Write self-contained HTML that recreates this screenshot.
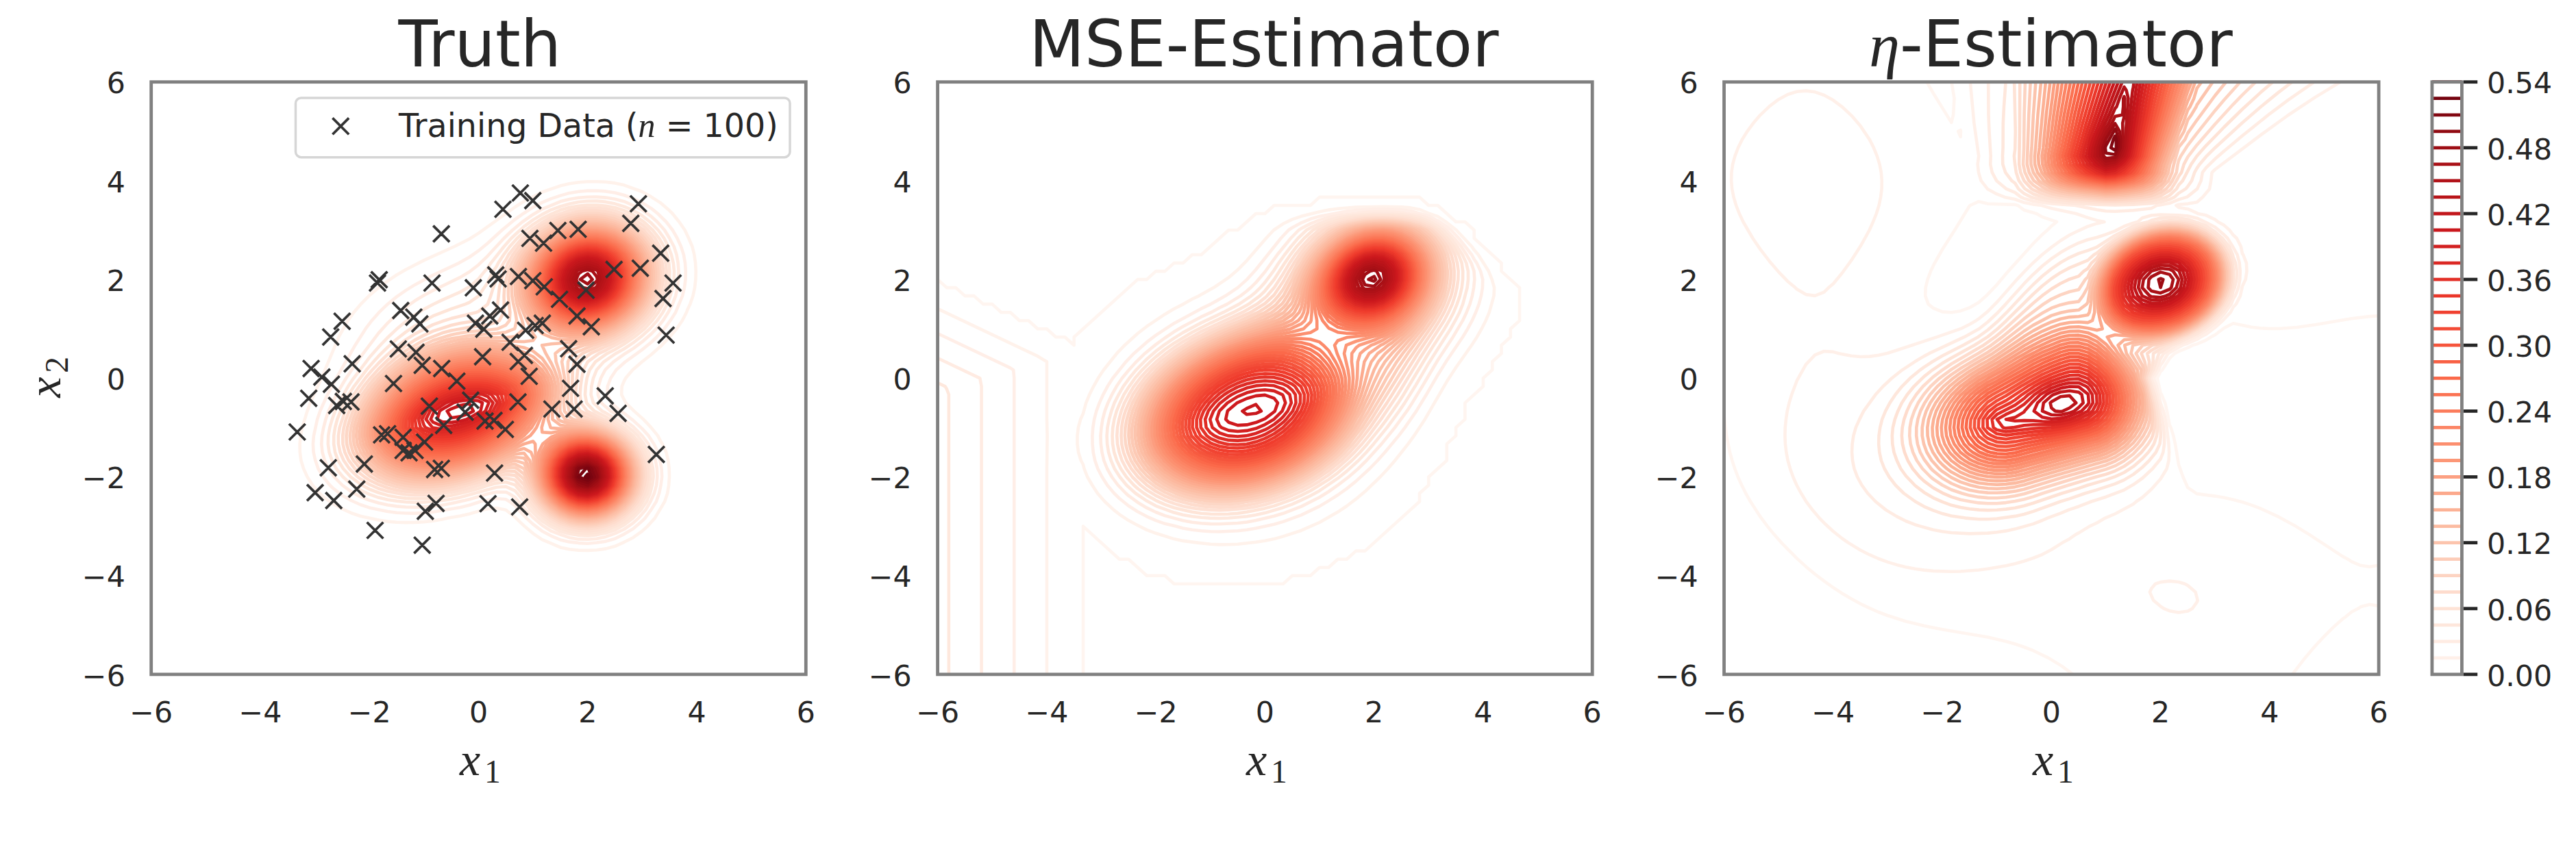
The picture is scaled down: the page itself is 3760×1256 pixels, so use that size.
<!DOCTYPE html><html><head><meta charset="utf-8"><title>Density estimators</title>
<style>html,body{margin:0;padding:0;background:#fff}svg{display:block}text{font-family:"DejaVu Sans","Liberation Sans",sans-serif;fill:#262626}.m{font-family:"Liberation Serif","DejaVu Serif",serif}.i{font-style:italic}</style></head><body>
<svg width="3760" height="1256" viewBox="0 0 3760 1256">
<rect width="3760" height="1256" fill="#fff"/>
<defs>
<clipPath id="c0"><rect x="220.7" y="119.7" width="955.6" height="865.2"/></clipPath>
<clipPath id="c1"><rect x="1368.6" y="119.7" width="955.6" height="865.2"/></clipPath>
<clipPath id="c2"><rect x="2516.5" y="119.7" width="955.6" height="865.2"/></clipPath>
</defs>
<g clip-path="url(#c0)">
<g fill="none" stroke-width="4.60" stroke-linejoin="round"><path stroke="#fff2eb" d="M802.2,792.6 818,799.4 831.2,802.3 844.5,803.6 857.8,803.9 871,803.3 884.3,801.4 897.6,797.8 910.9,791.8 924.1,785.2 937.4,775.6 945.1,768.6 955.9,756.6 970.2,732.5 974.2,720.5 976.2,708.5 977,696.5 976.7,684.5 975.3,672.5 972.4,660.5 966.9,648.4 963.9,643.8 960.2,636.4 950.4,624.4 939.1,612.4 925.6,600.4 913.4,588.4 907.2,576.3 907.7,564.3 910.9,556.6 913.2,552.3 923.4,540.3 937.3,528.3 950.7,517.8 966,504.2 977.4,492.2 987.6,480.2 995.8,468.2 1002,456.2 1003.8,451.5 1007.4,444.1 1011.5,432.1 1014.1,420.1 1015.4,408.1 1015.7,396.1 1015.1,384.1 1013.4,372 1010.4,360 1005.3,348 999.6,336 991.3,324 981.6,312 977.2,307.6 963.9,296.1 950.7,287.6 937.4,280 910.9,270.3 897.6,267.4 884.3,265.8 871,265.2 857.8,265.3 844.5,266.3 831.2,268.2 818,271.3 791.4,280.5 764.9,294 751.6,302.5 738.4,312 698.5,340.6 685.2,349 663.3,360 618.9,380.1 592.3,393.8 579,401.5 565.8,410.3 552.5,420.3 538.6,432.1 526,444.9 516.4,456.2 507.8,468.2 494.4,492.2 472.9,543.8 452.9,588.4 448.5,600.4 441.1,624.4 438.8,636.4 437.6,648.4 437.8,660.5 439.4,672.5 443.1,684.5 448.6,696.5 456.2,708.5 466.7,720.5 472.9,726.1 481.4,732.5 486.1,735.8 499.4,743.1 512.7,749.2 526,753.7 552.5,759.6 565.8,761.6 579,762.7 592.3,763.1 605.6,762.9 618.9,762.1 632.1,760.7 645.4,758.5 654,756.6 672,753.6 685.2,750.5 705.2,744.6 711.8,743.3 725,742.1 738.3,744.8 751.6,755.2 765.6,768.6 778.1,779.1 791.4,788.1 802.2,792.6Z"/>
<path stroke="#ffeee7" d="M841.9,792.6 844.5,793.1 857.8,793.7 871,792.5 884.3,790.6 897.6,786.7 910.9,780.1 924.1,772.3 937.4,760.8 941.6,756.6 950.3,744.6 957.9,732.5 962.1,720.5 964.6,708.5 966.2,696.5 965.6,684.5 963.4,672.5 960.3,660.5 954.5,648.4 946.7,636.4 937.4,626.1 924.1,613.9 910.9,603.5 905.9,600.4 892.4,588.4 886.4,576.3 886.9,564.3 891.4,552.3 899.4,540.3 912.8,528.3 937.4,510.6 950.7,499.7 958.7,492.2 969.8,480.2 978.4,468.2 986.1,456.2 996.1,432.1 999,420.1 1000.5,408.1 1000.8,396.1 1000,384.1 997.9,372 994,360 988.6,348 981.7,336 972.4,324 960.1,312 950.7,304.4 937.4,296.1 924.1,289.9 910.9,285 897.6,281.5 884.3,279.4 871,278.5 857.8,278.6 844.5,279.7 831.2,281.9 818,285.6 804.7,290.1 791.4,295.6 778.1,302.6 764.9,311.2 751.6,320.5 732.8,336 711.8,355.3 698.5,366.2 685.2,375.5 670,384.1 632.1,401.9 618.9,408.7 605.6,415.9 592.3,424.1 579,433.4 565.8,444.2 553.3,456.2 542.7,468.2 533.6,480.2 526,492.2 518.4,504.2 504.6,528.3 490.9,552.3 478,576.3 467.2,600.4 463.1,612.4 457.9,636.4 456.9,648.4 457.6,660.5 460.3,672.5 464.5,684.5 471.8,696.5 481.4,708.5 486.1,713 499.4,723.4 512.7,731 526,737 539.2,741.4 565.8,747 579,748.7 592.3,749.5 605.6,749.6 618.9,749 632.1,747.7 672,740.9 685.2,737.7 701.5,732.5 711.8,730.2 725,728 738.3,729.3 743.7,732.5 751.6,738.3 756.9,744.6 768.3,756.6 778.1,765.6 791.4,775.7 804.7,782.8 818,788.4 831.2,791.4 841.9,792.6Z"/>
<path stroke="#ffebe2" d="M817.9,780.6 831.2,785.2 844.5,787.4 857.8,787.8 871,786.8 884.3,783.9 897.6,779.2 910.9,773 924.1,763.8 932.1,756.6 942.5,744.6 949.4,732.5 954.9,720.5 958.2,708.5 959.4,696.5 959,684.5 956.8,672.5 952.1,660.5 946.4,648.4 937.2,636.4 924.1,623.1 910.9,613 897.6,603.8 891.3,600.4 877.7,588.4 872.8,576.3 873.4,564.3 877,552.3 883.3,540.3 884.3,539.2 895.5,528.3 912.7,516.2 924.1,509.1 937.4,499.2 950.7,487.5 957.9,480.2 967.7,468.2 975.3,456.2 981.6,444.1 986.2,432.1 988.9,420.1 990.3,408.1 990.6,396.1 989.7,384.1 987.6,372 983.7,360 977.3,348 970,336 959.3,324 950.7,316.2 937.4,306.7 924.1,300 910.9,294.2 897.6,290.7 884.3,288.6 871,287.6 857.8,287.8 844.5,288.8 831.2,290.9 818,294.3 791.4,305.3 778.1,313.2 762.6,324 748.1,336 735.6,348 711.8,373.8 698.5,386.7 685.2,397 672,404.9 632.1,424.2 618.9,431.3 605.6,439.3 592.3,448.5 579,459.2 565.8,471.8 552.5,486.6 526,521.7 505.2,552.3 490.9,576.3 479.5,600.4 475.4,612.4 472.3,624.4 470,636.4 469.3,648.4 470.5,660.5 473.9,672.5 479.2,684.5 487.7,696.5 499.6,708.5 512.7,718.1 526,725.4 539.2,730.6 552.5,734.5 565.8,737.5 579,739.4 592.3,740.5 605.6,740.8 618.9,740.4 632.1,739.4 645.4,737.7 658.7,735.3 685.2,729.2 711.8,721.2 725,718.5 738.3,718.7 742.3,720.5 751.6,726.2 767.1,744.6 778.1,756 791.4,767.2 804.7,775.7 817.9,780.6Z"/>
<path stroke="#fee8dd" d="M838.6,780.6 844.5,781.8 857.8,782.5 871,781.1 884.3,778.6 897.6,774.1 910.9,766.8 924.1,756.6 935.6,744.6 943.9,732.5 948.9,720.5 952,708.5 953.7,696.5 953.1,684.5 950.4,672.5 946.7,660.5 939.9,648.4 930.8,636.4 924.1,629.8 910.9,619 884.3,603.1 878.8,600.4 866.1,588.4 862.6,576.3 863.4,564.3 866,552.3 870.8,540.3 881.4,528.3 898.9,516.2 910.9,509.5 924.1,500.7 937.4,490.4 948.4,480.2 959.2,468.2 967.5,456.2 973.9,444.1 978.3,432.1 981.9,420.1 983.7,408.1 984,396.1 982.8,384.1 979.9,372 975.4,360 969.4,348 960.6,336 950.7,325.8 937.4,315.1 924.1,307.2 910.9,301.7 897.6,297.6 884.3,294.9 871,293.6 857.8,293.7 844.5,295 831.2,297.7 818,301.5 804.7,306.3 791.4,313.1 778.1,321.1 764.9,330.9 751.6,343 746.3,348 735.7,360 716.6,384.1 711.8,391.5 707.5,396.1 698.5,407.3 685.2,418.7 672,426.3 645.4,438.1 632.1,444.5 618.9,451.6 605.6,459.8 592.3,469.5 579,480.6 565.8,493 552.5,506.9 539.2,522.1 516.2,552.3 508.1,564.3 494.4,588.4 489.1,600.4 484.8,612.4 481.3,624.4 479.2,636.4 478.8,648.4 480.5,660.5 484.6,672.5 490.8,684.5 500.6,696.5 512.7,707.2 526,715.8 539.2,721.9 552.5,726.6 565.8,729.8 579,731.8 592.3,733.1 605.6,733.7 618.9,733.4 632.1,732.3 645.4,731 658.7,729 672,726.2 725,711.5 738.3,710.6 751.6,716.6 764.9,732.1 774,744.6 786,756.6 791.4,761.1 804.7,769.5 818,776.1 831.2,779.6 838.6,780.6Z"/>
<path stroke="#fee5d8" d="M812.3,768.6 818,771.5 831.2,776 844.5,778.1 857.8,778.6 871,777.5 884.3,774.7 897.6,769.1 910.9,762.1 918,756.6 924.1,751.1 930.4,744.6 938.4,732.5 944.6,720.5 947.8,708.5 949.1,696.5 948.6,684.5 946.5,672.5 941.9,660.5 934.8,648.4 924.4,636.4 910.9,624.8 897.6,615.8 890.2,612.4 884.3,608.8 867.4,600.4 857.8,590.4 856.2,588.4 854,576.3 854.8,564.3 856.7,552.3 860.6,540.3 869.1,528.3 886.3,516.2 897.6,510.5 910.9,502.5 926.1,492.2 940.7,480.2 951.8,468.2 960.8,456.2 967.6,444.1 972.6,432.1 975.6,420.1 977.1,408.1 977.4,396.1 976.3,384.1 973.7,372 969.1,360 962.1,348 952.7,336 939.7,324 924.1,313.7 910.9,307.4 897.6,303.2 884.3,300.7 871,299.5 857.8,299.5 844.5,300.7 831.2,303 818,306.8 804.7,312.6 791.4,319.1 778.1,327.8 767.8,336 754.9,348 744.1,360 735.2,372 727.3,384.1 725,388.7 720,396.1 713.7,408.1 711.8,412.8 698.5,432.3 685.2,441.6 679.4,444.1 658.7,451.1 632.1,461.4 605.6,475.9 592.3,484.9 579,495.3 565.8,507.1 552.5,520.2 545.2,528.3 534.8,540.3 516.7,564.3 509.1,576.3 502.5,588.4 497,600.4 492.3,612.4 489.1,624.4 487.3,636.4 487.2,648.4 489.1,660.5 493.5,672.5 501,684.5 511.9,696.5 528.1,708.5 539.2,714.5 552.5,719.5 565.8,723.4 579,726 592.3,727.6 605.6,728.3 618.9,728.2 632.1,727.4 645.4,725.8 658.7,723.5 685.2,717.3 698.5,713.5 711.8,709 725,705.6 738.3,704 751.6,708.1 764.9,723.9 770.1,732.5 780,744.6 792.8,756.6 804.7,765.1 812.3,768.6Z"/>
<path stroke="#fee1d4" d="M821.4,768.6 831.2,772.3 844.5,774.8 857.8,775.4 871,774.2 884.3,770.7 897.6,765.6 910.9,757.4 925.2,744.6 934.4,732.5 940.4,720.5 944.2,708.5 945.7,696.5 945.2,684.5 942.6,672.5 937.2,660.5 930.5,648.4 919.6,636.4 910.9,628.9 897.6,620.1 884.3,613.6 880.8,612.4 856.9,600.4 848,588.4 846.5,576.3 847.5,564.3 849.1,552.3 851.6,540.3 857.9,528.3 874.3,516.2 884.3,511.6 910.9,497.2 924.1,488.1 937.4,476.9 945.9,468.2 955.1,456.2 962,444.1 967.2,432.1 970.8,420.1 972.6,408.1 972.8,396.1 971.5,384.1 968.3,372 963,360 956.1,348 945.9,336 937.4,328.3 924.1,319.1 910.9,312.8 897.6,308 884.3,305 871,303.7 857.8,303.7 844.5,304.9 831.2,307.6 818,312.1 804.7,317.2 791.4,324.8 778.1,333.9 762.1,348 751.7,360 742.4,372 738.3,379.5 735.1,384.1 728.9,396.1 719.9,420.1 716.3,432.1 711.8,444.4 698.5,454.8 695.1,456.2 658.7,465.1 645.4,469.3 632.1,474.1 605.6,487.6 592.3,496.2 579,506.3 565.8,517.7 552.5,530.5 543.4,540.3 533.2,552.3 524.4,564.3 516.3,576.3 509.4,588.4 503.6,600.4 495.7,624.4 493.9,636.4 494,648.4 496.5,660.5 501.7,672.5 509.9,684.5 522.1,696.5 526,699.4 539.2,707.5 552.5,713.5 565.8,717.6 579,720.3 592.3,722.3 605.6,723.2 618.9,723.2 632.1,722.4 658.7,718.8 672,716.1 685.2,712.7 725,700.4 738.3,698 751.6,701.1 764.9,715.9 767.2,720.5 775,732.5 784.7,744.6 791.4,751 804.7,761 818,767.5 821.4,768.6Z"/>
<path stroke="#fedccd" d="M831.2,768.6 844.5,771.6 857.8,772.3 871,770.8 884.3,767.4 897.6,762.3 910.9,753.7 921.1,744.6 930.8,732.5 936.5,720.5 940.6,708.5 942.3,696.5 941.7,684.5 938.7,672.5 934,660.5 926.1,648.4 914.9,636.4 910.9,632.9 897.6,624.3 884.3,617 871.4,612.4 847.3,600.4 844.5,596.3 840.7,588.4 840.1,576.3 842,552.3 843.2,540.3 847.8,528.3 857.8,519.6 862.3,516.2 897.6,499.8 910.9,491.9 924.1,482.9 940.2,468.2 949.8,456.2 957.4,444.1 962.4,432.1 966,420.1 968,408.1 968.2,396.1 966.6,384.1 963.2,372 958.3,360 950.2,348 939.5,336 924.1,324.4 910.9,317.1 897.6,312.6 884.3,309.3 871,307.7 857.8,307.7 844.5,309.1 831.2,312.2 818,316 804.7,321.9 791.4,329.4 778.1,339.2 768.3,348 757.3,360 748.6,372 741.5,384.1 738.3,392 736.1,396.1 731.7,408.1 729,420.1 726.3,444.1 725,449.7 722,456.2 711.8,463.7 698.5,468 672,472.1 658.7,475 632.1,483.6 618.9,489.6 605.6,496.6 592.3,505.2 579,514.9 565.8,526 552.5,539 539.2,553.9 530.9,564.3 522.6,576.3 515.6,588.4 509.7,600.4 505,612.4 501.8,624.4 500.2,636.4 500.5,648.4 503.3,660.5 509,672.5 518.1,684.5 526,691.8 532,696.5 539.2,701.2 552.5,707.7 565.8,712.5 579,715.7 592.3,717.7 605.6,718.6 618.9,718.8 632.1,718.2 645.4,716.9 658.7,714.8 672,711.9 698.5,704.4 725,695.6 738.3,692.9 751.6,694.4 754.1,696.5 764.9,708.1 771.1,720.5 779.4,732.5 791.4,746.5 804.7,756.9 818,764.5 831.2,768.6Z"/>
<path stroke="#fdd7c6" d="M848.7,768.6 857.8,769.1 871,767.9 884.3,764.8 897.6,759 910.9,750.2 917.2,744.6 927.1,732.5 933.7,720.5 937.1,708.5 938.9,696.5 938.2,684.5 935.7,672.5 930.8,660.5 922.4,648.4 910.9,636.9 897.6,627.3 884.3,620.4 871,615.2 860.8,612.4 844.5,604.4 838.7,600.4 834.1,588.4 834.2,576.3 835.2,564.3 835.8,540.3 838.2,528.3 844.5,521 850.1,516.2 877.2,504.2 884.3,501.7 897.6,495.4 910.9,487.8 924.1,478.1 937.4,465.6 945.4,456.2 952.8,444.1 958.5,432.1 961.9,420.1 963.6,408.1 963.7,396.1 962.4,384.1 959.2,372 953.5,360 945.4,348 937.4,339.5 924.1,328.8 910.9,321.4 897.6,316.2 884.3,313.2 871,311.8 857.8,311.7 844.5,312.9 831.2,315.5 818,319.8 804.7,326 788.6,336 773.9,348 762.9,360 754,372 746.9,384.1 741.8,396.1 738.6,408.1 736.3,420.1 735.6,432.1 735.8,444.1 735.4,456.2 728.9,468.2 725,470.4 711.8,474.2 685.2,478.1 658.7,482.8 645.4,486.3 618.9,496.8 592.3,512.1 579,521.8 565.8,533.1 546.9,552.3 537.1,564.3 528.5,576.3 521.1,588.4 515.2,600.4 510.6,612.4 507.1,624.4 505.5,636.4 506.1,648.4 509.5,660.5 515.9,672.5 526.1,684.5 539.2,695 552.5,702.4 565.8,707.4 579,711.1 592.3,713.4 605.6,714.7 618.9,714.9 632.1,714.4 645.4,713 658.7,710.8 685.2,704.6 725,691.5 738.3,688.1 751.6,688.4 761.3,696.5 764.9,700.3 768.5,708.5 775.1,720.5 782.7,732.5 793.5,744.6 804.7,753.8 818,761.5 831.2,766.2 844.5,768.4 848.7,768.6Z"/>
<path stroke="#fdd1be" d="M814.6,756.6 818,758.5 831.2,763.8 844.5,766.3 857.8,766.9 871,765.6 884.3,762.3 897.6,755.9 910.9,746.7 913.3,744.6 923.6,732.5 930.9,720.5 934.7,708.5 936.2,696.5 935.7,684.5 933.1,672.5 927.6,660.5 919.2,648.4 910.9,640.1 897.6,630.2 884.3,623.7 871,618.2 849.1,612.4 844.5,610.2 830.6,600.4 828.1,588.4 829.6,564.3 829.6,552.3 828.7,540.3 829,528.3 831.2,524 837.4,516.2 865.9,504.2 884.3,497.8 897.6,491.3 910.9,483.8 924.1,473.8 930.3,468.2 941,456.2 948.8,444.1 954.6,432.1 958.4,420.1 960.3,408.1 960.4,396.1 958.8,384.1 955.2,372 949.1,360 940.6,348 937.4,344.6 924.1,333.1 910.9,325.3 897.6,319.8 884.3,316.4 871,314.8 857.8,314.7 844.5,316 831.2,318.9 818,323.7 804.7,329.6 791.4,338.1 779.3,348 767.6,360 758.5,372 752.1,384.1 746.7,396.1 743.4,408.1 741.9,420.1 741.9,432.1 744.4,456.2 743.6,468.2 738.3,474.9 726.5,480.2 711.8,482 685.2,484.4 672,486.2 658.7,489 632.1,497.2 605.6,510 592.3,518.4 579,528.3 565.8,539.6 552.5,553 542.7,564.3 533.8,576.3 526.6,588.4 520.2,600.4 515.5,612.4 512.4,624.4 510.8,636.4 511.7,648.4 515.4,660.5 522.5,672.5 533.6,684.5 539.2,688.9 552.5,697.1 565.8,702.9 579,706.7 592.3,709.2 605.6,710.7 618.9,711.1 632.1,710.6 645.4,709.2 658.7,707.2 672,704.5 685.2,701.1 725,687.5 738.3,683.5 751.6,682.7 754.9,684.5 764.9,692.4 772,708.5 786.1,732.5 797.2,744.6 804.7,750.8 814.6,756.6Z"/>
<path stroke="#fdcbb6" d="M819.9,756.6 831.2,761.4 844.5,764.2 857.8,764.8 871,763.4 884.3,759.7 897.6,753.4 910.9,743.4 920.9,732.5 928.1,720.5 932.3,708.5 933.9,696.5 933.4,684.5 930.5,672.5 924.5,660.5 916,648.4 910.9,643.3 897.6,633.1 884.3,626.2 871,621.1 857.8,617.3 836.6,612.4 831.2,609 823.9,600.4 822.8,588.4 824.7,564.3 824.1,552.3 820.1,528.3 824.1,516.2 831.2,512.4 844.5,507.2 852.4,504.2 871,499.2 884.3,494 897.6,487.9 910.9,479.8 925.6,468.2 936.8,456.2 945.3,444.1 950.7,432.1 954.9,420.1 956.9,408.1 957,396.1 955.2,384.1 951.2,372 945.3,360 936,348 924.1,337.3 910.9,328.8 897.6,323.4 884.3,319.6 871,317.8 857.8,317.6 844.5,319 831.2,322.2 818,326.8 804.7,333.3 791.4,342 784,348 772,360 763.1,372 756.1,384.1 751.6,396.1 748.2,408.1 746.8,420.1 747.3,432.1 749.4,444.1 752.3,456.2 754.1,468.2 751.6,479.1 751,480.2 738.3,485.2 725,486.9 685.2,490 658.7,494.4 645.4,497.9 632.1,502.8 618.9,508.4 605.6,515.7 592.3,523.8 579,533.6 565.8,545.3 558.7,552.3 548,564.3 539.1,576.3 531.3,588.4 525.2,600.4 520.1,612.4 516.9,624.4 515.6,636.4 516.7,648.4 520.9,660.5 526,668.4 528.8,672.5 541.2,684.5 552.5,692.1 565.8,698.3 579,702.7 592.3,705.4 605.6,707 618.9,707.5 632.1,707.1 645.4,706 658.7,704 672,701.2 685.2,697.5 698.5,693.4 725,683.6 738.3,679.5 751.6,677.6 764.9,684.5 775.5,708.5 778.1,713.1 781.3,720.5 789.4,732.5 800.8,744.6 804.7,747.8 818,755.8 819.9,756.6Z"/>
<path stroke="#fdc5ae" d="M825.6,756.6 831.2,759 844.5,762 857.8,762.7 871,761.2 884.3,757.1 897.6,750.9 906.2,744.6 910.9,740.5 918.1,732.5 925.2,720.5 929.9,708.5 931.7,696.5 931.1,684.5 927.9,672.5 922,660.5 912.8,648.4 897.6,636 884.3,628.5 871,624 857.8,620.1 831.2,614.7 824.8,612.4 818,602.3 817.3,600.4 817.5,588.4 819,576.3 819.8,564.3 818.6,552.3 815.5,540.3 811.6,528.3 810.5,516.2 818,510.1 831.2,505.1 833.7,504.2 857.8,499.5 871,495.6 884.3,490.6 897.6,484.6 910.9,476.5 921.3,468.2 933.1,456.2 941.7,444.1 947.7,432.1 951.4,420.1 953.6,408.1 953.7,396.1 951.7,384.1 947.9,372 941.5,360 931.7,348 924.1,341.1 910.9,332.2 897.6,326.4 884.3,322.8 871,320.8 857.8,320.6 844.5,322.1 831.2,325.2 818,329.8 804.7,336.8 791.4,345.8 778.1,358.1 767,372 760,384.1 755.2,396.1 752.6,408.1 751.7,420.1 752.4,432.1 754.6,444.1 758.1,456.2 762.2,468.2 764.9,480.4 751.6,491.5 738.3,492.8 698.5,493.7 685.2,494.7 672,496.4 658.7,499 645.4,502.9 632.1,507.4 618.9,513.3 605.6,520.3 592.3,529 579,538.9 565.8,550.8 553.2,564.3 543.7,576.3 535.9,588.4 529.6,600.4 524.8,612.4 521.3,624.4 520.1,636.4 521.6,648.4 526.4,660.5 534.9,672.5 539.2,676.8 548.7,684.5 552.5,687.1 565.8,693.9 579,698.7 592.3,701.8 605.6,703.6 618.9,704.2 632.1,704 645.4,702.8 658.7,700.8 672,697.9 685.2,694.4 698.5,690.2 738.3,675.5 751.6,672.4 764.9,676.6 768.9,684.5 783.9,720.5 792.4,732.5 804.7,744.7 818,753.6 825.6,756.6Z"/>
<path stroke="#fcbfa7" d="M831.4,756.6 844.5,759.9 857.8,760.7 871,759 884.3,755 897.6,748.5 902.9,744.6 910.9,737.5 915.4,732.5 922.8,720.5 927.5,708.5 929.4,696.5 928.8,684.5 925.3,672.5 919.6,660.5 909.7,648.4 897.6,638.4 884.3,630.8 871,626.1 857.8,623 831.2,618.7 818,614.7 814.8,612.4 811.8,600.4 814.6,576.3 815.2,564.3 813.6,552.3 809.3,540.3 804.7,530.5 796.6,516.2 791.2,504.2 804.7,502.2 831.2,500.3 844.5,498.6 857.8,496 884.3,487.7 897.6,481.3 910.9,473.1 924.1,461.8 929.5,456.2 938.2,444.1 944.6,432.1 948.5,420.1 950.3,408.1 950.4,396.1 948.6,384.1 944.7,372 937.7,360 927.5,348 924.1,344.9 910.9,335.7 897.6,329.3 884.3,325.6 871,323.7 857.8,323.5 844.5,324.9 831.2,327.8 818,332.8 804.7,339.8 791.4,349.4 780.2,360 770.6,372 763.9,384.1 758.9,396.1 756.1,408.1 755.3,420.1 756.4,432.1 759.2,444.1 764.9,458.6 769.1,468.2 775.4,480.2 778.1,487.7 781.6,492.2 778.1,497.2 764.9,499 725,497.8 698.5,497.9 685.2,498.9 672,500.7 645.4,507.1 632.1,511.8 618.9,517.8 605.6,524.9 592.3,533.4 579,543.7 569.5,552.3 558,564.3 552.5,571 548.3,576.3 540.4,588.4 533.8,600.4 528.9,612.4 525.8,624.4 524.6,636.4 526.4,648.4 531.6,660.5 539.2,670.4 541.1,672.5 552.5,682 565.8,689.6 579,694.8 592.3,698.1 605.6,700.2 618.9,701 632.1,700.8 645.4,699.7 658.7,697.6 672,694.9 685.2,691.4 698.5,687 738.3,671.5 751.6,667.8 764.9,669.1 767.5,672.5 772.9,684.5 778.1,698.8 781,708.5 786.6,720.5 795,732.5 804.7,742.1 818,751.4 831.4,756.6Z"/>
<path stroke="#fcb99f" d="M839.8,756.6 844.5,757.8 857.8,758.6 871,756.8 884.3,753.1 899.5,744.6 912.7,732.5 920.7,720.5 925.1,708.5 927.2,696.5 926.5,684.5 923.1,672.5 917.2,660.5 907,648.4 897.6,640.7 884.3,633.1 871,628.1 857.8,625.4 818,621 806.5,612.4 806.3,600.4 810.5,576.3 810.9,564.3 808.6,552.3 804.7,543.1 803.2,540.3 791.4,523.4 778.1,512.7 764.9,507.7 751.6,505.2 738.3,503.6 725,502.4 711.8,501.9 698.5,502.1 685.2,503.1 672,504.9 658.7,507.4 645.4,511 632.1,516.1 618.9,521.8 605.6,529.2 592.3,537.9 574.7,552.3 562.7,564.3 552.9,576.3 544.6,588.4 538.1,600.4 532.9,612.4 529.7,624.4 528.8,636.4 530.9,648.4 536.8,660.5 547.1,672.5 552.5,677 564.2,684.5 579,691 592.3,694.6 605.6,696.8 618.9,697.8 632.1,697.7 645.4,696.6 658.7,694.7 672,692 685.2,688.4 698.5,683.9 711.8,679 738.3,667.9 751.6,663.2 764.9,661.8 773.2,672.5 778.1,688 779.7,696.5 783.2,708.5 789.2,720.5 797.6,732.5 804.7,739.6 818,749.1 831.2,754.8 839.8,756.6ZM803.1,492.2 804.7,492.9 818,495.7 831.2,496 844.5,494.9 857.8,492.5 871,489.4 884.3,484.8 897.6,478.3 912.9,468.2 925.8,456.2 935.1,444.1 941.6,432.1 945.7,420.1 947.7,408.1 947.7,396.1 945.8,384.1 941.4,372 934.3,360 923.3,348 910.9,338.7 905.5,336 897.6,332.2 884.3,328.1 871,326.2 857.8,325.9 844.5,327.3 831.2,330.5 818,335.8 804.7,342.8 797.4,348 791.4,352.9 783.9,360 774.2,372 767.2,384.1 762.5,396.1 759.6,408.1 759,420.1 760.3,432.1 763.8,444.1 768.6,456.2 778.1,472.6 784.6,480.2 791.4,487.2 803.1,492.2Z"/>
<path stroke="#fcb398" d="M814.5,744.6 818,746.9 831.2,753 844.5,755.9 857.8,756.5 871,755.1 884.3,751.2 897.6,743.7 910.9,731.5 918.6,720.5 923.1,708.5 924.9,696.5 924.2,684.5 921.2,672.5 914.8,660.5 904.2,648.4 897.6,643 884.3,635.4 871,630.1 857.8,627.3 844.5,626 818,626.1 804.7,625 803.6,624.4 799.8,612.4 801.5,600.4 806.3,576.3 806.6,564.3 804.7,556.2 803.7,552.3 797.2,540.3 791.4,532.7 778.1,521 764.9,514.5 751.6,510.4 738.3,508 725,506.6 711.8,505.9 698.5,505.9 685.2,506.7 672,508.4 658.7,511.1 642,516.2 632.1,519.7 618.9,525.8 605.6,533.1 592.3,542.1 579,552.9 567.4,564.3 557.1,576.3 552.5,582.9 548.7,588.4 542,600.4 536.9,612.4 533.6,624.4 532.9,636.4 535.4,648.4 541.9,660.5 553.2,672.5 565.8,681.1 579,687.2 592.3,691.2 605.6,693.6 618.9,694.7 632.1,694.7 645.4,693.8 658.7,691.9 672,689.2 685.2,685.4 698.5,681 711.8,675.9 751.6,658.7 764.9,655 775.1,660.5 778.1,668.1 779.8,684.5 781.9,696.5 785.5,708.5 791.7,720.5 800.2,732.5 804.7,737 814.5,744.6ZM793.4,480.2 804.7,487.3 818,490.7 831.2,491.8 844.5,491.4 857.8,489.8 871,486.7 884.3,481.9 897.6,475.6 908.7,468.2 922.4,456.2 932.1,444.1 938.6,432.1 943,420.1 945.1,408.1 945.1,396.1 942.9,384.1 937.4,370.6 931,360 924.1,352.5 919.3,348 910.9,341.8 899.6,336 884.3,330.6 871,328.5 857.8,328.3 844.5,329.7 831.2,333.1 818,338.4 804.7,345.9 801.7,348 787.5,360 777.7,372 770.3,384.1 765.8,396.1 763.1,408.1 762.6,420.1 764.3,432.1 767.6,444.1 773.2,456.2 781.2,468.2 791.4,478.9 793.4,480.2Z"/>
<path stroke="#fcad90" d="M817.8,744.6 831.2,751.2 844.5,754.3 857.8,755 871,753.5 884.3,749.3 892.7,744.6 897.6,741.6 907.7,732.5 916.5,720.5 921.2,708.5 923.1,696.5 922.4,684.5 919.2,672.5 912.4,660.5 910.9,658.5 901.4,648.4 897.6,645.2 884.3,637.4 871,632.1 857.8,629.2 844.5,628.1 831.2,628.3 818,629.7 804.7,632.1 791.4,631.2 790.7,624.4 800.2,588.4 802.4,576.3 802.4,564.3 799,552.3 791.2,540.3 778.1,528.1 764.9,520.1 751.6,515.5 738.3,512.3 725,510.4 711.8,509.5 698.5,509.4 685.2,510.2 672,511.9 658.7,514.7 645.4,518.5 632.1,523.3 621.6,528.3 605.6,537 600.7,540.3 592.3,546.1 579,557.3 571.8,564.3 561.3,576.3 552.8,588.4 545.8,600.4 540.7,612.4 537.5,624.4 536.9,636.4 539.8,648.4 546.9,660.5 552.5,666.4 559.5,672.5 565.8,676.7 579,683.4 592.3,687.8 605.6,690.5 618.9,691.7 632.1,691.9 645.4,691 658.7,689.1 672,686.3 685.2,682.6 698.5,678.2 725,667 764.9,648.4 778.1,644.5 781.2,648.4 782.2,684.5 784.1,696.5 787.8,708.5 793.7,720.5 802.8,732.5 817.8,744.6ZM801.8,480.2 804.7,482 818,486.9 831.2,488.7 844.5,488.6 857.8,487.1 871,484.1 884.3,479.2 897.6,472.9 910.9,463.7 919.1,456.2 924.1,450.4 929.1,444.1 935.8,432.1 940.2,420.1 942.4,408.1 942.4,396.1 940.1,384.1 935.3,372 927.6,360 924.1,356.2 915.2,348 910.9,344.8 897.6,337.7 884.3,333.2 871,330.9 857.8,330.6 844.5,332.1 831.2,335.7 818,340.9 805.9,348 791.2,360 780.8,372 773.4,384.1 768.6,396.1 766.3,408.1 765.9,420.1 767.5,432.1 771.3,444.1 778.1,456.8 786.7,468.2 791.4,473.2 801.8,480.2Z"/>
<path stroke="#fca689" d="M821.4,744.6 831.2,749.4 844.5,752.7 857.8,753.4 871,751.8 884.3,747.3 897.6,739.4 905.3,732.5 914.3,720.5 919.4,708.5 921.4,696.5 920.7,684.5 917.3,672.5 910.2,660.5 898.7,648.4 884.3,639.2 876.8,636.4 871,634.1 857.8,631.1 844.5,630.1 831.2,630.8 818,633.3 804.7,638.2 792.2,648.4 791.4,649.8 786.4,660.5 784.6,672.5 784.6,684.5 786.3,696.5 790.1,708.5 795.8,720.5 804.7,731.9 818,742.8 821.4,744.6ZM592.8,684.5 605.6,687.3 618.9,688.8 632.1,689 645.4,688.2 658.7,686.3 672,683.5 685.2,679.9 698.5,675.3 725,663.8 755.1,648.4 773.8,636.4 778.1,631.3 783,624.4 788.2,612.4 791.4,603.5 796.3,588.4 798.7,576.3 798.4,564.3 794.2,552.3 791.4,547.9 785.1,540.3 778.1,533.8 764.9,525.4 751.6,519.9 738.3,516.6 725,514.3 711.8,513.1 698.5,512.8 685.2,513.6 672,515.4 658.7,518.1 645.4,521.8 632.1,526.9 618.9,533 605.6,540.8 592.3,550.1 579,561.6 565.8,576 556.7,588.4 549.6,600.4 544.3,612.4 541.2,624.4 540.9,636.4 544.1,648.4 552.5,661 565.8,672.5 579,679.6 592.8,684.5ZM810.9,480.2 818,483 831.2,485.6 844.5,485.9 857.8,484.5 871,481.4 884.3,476.9 897.6,470.1 900.5,468.2 910.9,460.7 915.8,456.2 926.1,444.1 933.2,432.1 937.5,420.1 939.8,408.1 939.7,396.1 937.3,384.1 932.6,372 924.1,359.9 910.9,347.8 897.6,340.2 884.3,335.7 871,333.3 857.8,332.9 844.5,334.5 831.2,338 818,343.4 804.7,351.6 794.5,360 783.8,372 776.5,384.1 771.5,396.1 769,408.1 768.7,420.1 770.6,432.1 774.9,444.1 781.7,456.2 792,468.2 804.7,477.6 810.9,480.2Z"/>
<path stroke="#fca082" d="M825.1,744.6 831.2,747.6 844.5,751.1 857.8,751.9 871,750.2 884.3,745.4 897.6,737.3 902.9,732.5 912.2,720.5 917.6,708.5 919.7,696.5 919,684.5 915.4,672.5 908.1,660.5 895.9,648.4 884.3,641 871.9,636.4 857.8,633 844.5,632.2 831.2,633.3 818,636.8 804.7,642.7 797.7,648.4 791.1,660.5 787.6,672.5 787,684.5 788.5,696.5 792.1,708.5 797.8,720.5 804.7,729.3 807.7,732.5 818,740.9 825.1,744.6ZM608.1,684.5 618.9,685.8 632.1,686.2 645.4,685.4 658.7,683.6 672,680.9 685.2,677.2 698.5,672.5 711.8,667 725.4,660.5 747.6,648.4 764.6,636.4 776.1,624.4 783.2,612.4 788.4,600.4 792.4,588.4 794.9,576.3 794.4,564.3 789.5,552.3 778.1,539.5 764.9,530.4 751.6,524.3 738.3,520.3 725,517.9 711.8,516.6 698.5,516.3 685.2,516.9 672,518.6 658.7,521.2 645.4,525.1 632.1,530.2 618.9,536.5 605.6,544.4 592.3,554.1 580.7,564.3 569.6,576.3 560.5,588.4 553.4,600.4 547.9,612.4 544.8,624.4 544.7,636.4 548.5,648.4 552.5,654.6 557.2,660.5 565.8,667.9 572.8,672.5 579,675.8 592.3,681 608.1,684.5ZM821.4,480.2 831.2,482.5 844.5,483.1 857.8,481.9 871,479 884.3,474.5 896.2,468.2 910.9,457.7 923.3,444.1 930.7,432.1 935.1,420.1 937.2,408.1 937.1,396.1 934.8,384.1 929.8,372 924.1,363.9 921.1,360 910.9,350.7 897.6,342.7 884.3,338 873.1,336 857.8,335.2 844.5,336.8 831.2,340.2 818,346 814.5,348 804.7,354.4 797.9,360 786.8,372 779.4,384.1 774.3,396.1 771.8,408.1 771.6,420.1 773.7,432.1 778.4,444.1 785.6,456.2 791.4,463 797.2,468.2 804.7,473.8 818,479.4 821.4,480.2Z"/>
<path stroke="#fc997a" d="M828.8,744.6 831.2,745.8 844.5,749.5 857.8,750.4 871,748.5 884.3,743.7 897.6,735.2 900.6,732.5 910.2,720.5 915.8,708.5 918,696.5 917.3,684.5 913.4,672.5 906.1,660.5 897.6,651.8 893.1,648.4 884.3,642.8 871,637.7 857.8,634.9 844.5,634.2 831.2,635.8 818,639.4 803.2,648.4 794.2,660.5 790.7,672.5 789.4,684.5 790.7,696.5 793.9,708.5 799.8,720.5 810,732.5 818,739 828.8,744.6ZM580,672.5 592.3,677.5 605.6,681 618.9,682.8 632.1,683.3 645.4,682.6 658.7,680.9 672,678.2 685.2,674.4 698.5,669.7 711.8,664.1 725,657.5 741.2,648.4 758.6,636.4 770.6,624.4 778.1,612.7 784.4,600.4 788.8,588.4 791.2,576.3 790.4,564.3 784.7,552.3 778.1,544.9 772.5,540.3 764.9,534.9 750.7,528.3 738.3,524.1 725,521.4 711.8,519.8 698.5,519.4 685.2,520 672,521.7 658.7,524.4 645.4,528.4 632.1,533.5 618.9,540 605.6,548 592.3,558 579,570.4 573.6,576.3 564.3,588.4 556.9,600.4 551.5,612.4 548.4,624.4 548.5,636.4 552.8,648.4 562.5,660.5 565.8,663.3 580,672.5ZM841.7,480.2 844.5,480.4 857.8,479.4 871,476.8 884.3,472.1 897.6,465 910.9,454.7 920.6,444.1 928.1,432.1 932.8,420.1 934.9,408.1 934.8,396.1 932.4,384.1 927,372 924.1,367.9 917.9,360 910.9,353.6 897.6,345.2 884.3,340.2 871,337.7 857.8,337.3 844.5,338.8 831.2,342.4 818,348.5 804.7,357.1 801.2,360 789.8,372 782,384.1 777.2,396.1 774.5,408.1 774.4,420.1 776.8,432.1 781.5,444.1 791.4,458.4 804.7,469.9 818,476.5 831.2,479.5 841.7,480.2Z"/>
<path stroke="#fc9373" d="M833,744.6 844.5,747.9 857.8,748.8 871,746.9 884.3,742 898.2,732.5 908.4,720.5 914,708.5 916.3,696.5 915.6,684.5 910.9,671.4 904,660.5 897.6,653.9 884.3,644.6 871,639.2 857.8,636.7 844.5,636.3 831.2,637.8 818,641.9 807.7,648.4 804.7,651.1 797.2,660.5 793,672.5 791.7,684.5 792.5,696.5 795.6,708.5 801.8,720.5 812.4,732.5 818,737.1 831.2,744.1 833,744.6ZM588.3,672.5 592.3,674.1 605.6,677.9 618.9,679.9 632.1,680.5 645.4,679.9 658.7,678.2 672,675.5 685.2,671.7 698.5,666.9 713.3,660.5 735.3,648.4 752.5,636.4 765.1,624.4 774,612.4 780.5,600.4 785.3,588.4 787.7,576.3 786.4,564.3 779.9,552.3 778.1,550.3 766,540.3 751.6,532.5 739.4,528.3 725,524.8 711.8,523.1 698.5,522.5 685.2,523.1 672,524.8 658.7,527.6 645.4,531.5 632.1,536.7 618.9,543.4 605.6,551.6 589.5,564.3 577.6,576.3 568.1,588.4 565.8,591.9 560.5,600.4 555,612.4 552,624.4 552.4,636.4 557.2,648.4 565.8,658.5 567.9,660.5 579,668.1 588.3,672.5ZM807.8,468.2 818,473.5 831.2,477 844.5,478.1 857.8,477.3 871,474.6 884.3,469.7 897.6,462.5 906,456.2 910.9,451.8 917.8,444.1 925.6,432.1 930.5,420.1 932.7,408.1 932.6,396.1 929.9,384.1 924.1,371.9 914.7,360 910.9,356.5 897.6,347.7 884.3,342.4 871,339.7 857.8,339.3 844.5,340.9 831.2,344.6 818,350.8 804.5,360 792.7,372 784.6,384.1 779.7,396.1 777.3,408.1 777.2,420.1 779.6,432.1 784.6,444.1 793.3,456.2 804.7,466.3 807.8,468.2Z"/>
<path stroke="#fc8d6d" d="M838.4,744.6 844.5,746.3 857.8,747.3 871,745.2 884.3,740.4 897.6,731 906.5,720.5 912.2,708.5 914.6,696.5 913.8,684.5 909.7,672.5 902,660.5 897.6,656 884.3,646.4 871,640.8 857.8,638.2 844.5,637.9 831.2,639.7 818,644.5 811.8,648.4 804.7,654.9 800.2,660.5 795.1,672.5 793.5,684.5 794.2,696.5 797.3,708.5 803.8,720.5 814.7,732.5 818,735.2 831.2,742.5 838.4,744.6ZM597.9,672.5 605.6,674.7 618.9,676.9 632.1,677.7 645.4,677.2 658.7,675.6 672,672.8 685.2,669 698.5,664.1 707,660.5 729.8,648.4 747.3,636.4 760.4,624.4 769.8,612.4 776.7,600.4 781.8,588.4 784.1,576.3 782.5,564.3 778.1,556.7 774.9,552.3 764.9,543.8 751.6,536.4 738.3,531.4 725,528.2 711.8,526.3 698.5,525.7 685.2,526.2 672,527.8 658.7,530.6 645.4,534.6 632.1,539.9 618.9,546.7 605.6,555.2 594,564.3 581.6,576.3 571.8,588.4 565.8,597.6 564,600.4 558.4,612.4 555.5,624.4 556.2,636.4 561.7,648.4 565.8,653.3 573.7,660.5 579,664.1 592.3,670.6 597.9,672.5ZM813.4,468.2 818,470.5 831.2,474.6 844.5,475.9 857.8,475.1 871,472.4 884.3,467.4 897.6,460.1 902.7,456.2 910.9,448.8 915.1,444.1 923.1,432.1 928.1,420.1 930.5,408.1 930.3,396.1 927.5,384.1 921.6,372 911.6,360 897.6,350.1 884.3,344.6 871,341.8 857.8,341.3 844.5,342.9 831.2,346.8 818,353.1 804.7,362.7 795.4,372 787.2,384.1 782.1,396.1 779.7,408.1 779.8,420.1 782.3,432.1 787.7,444.1 791.4,449.4 797,456.2 804.7,463 813.4,468.2Z"/>
<path stroke="#fc8666" d="M843.8,744.6 857.8,745.7 871,743.7 884.3,738.7 893.4,732.5 897.6,728.8 904.7,720.5 910.5,708.5 913,696.5 912.1,684.5 908.1,672.5 899.9,660.5 897.6,658.1 884.3,648.1 871,642.3 857.8,639.7 844.5,639.4 831.2,641.6 818,647.1 815.9,648.4 804.7,658.6 803.2,660.5 797.3,672.5 795.2,684.5 795.8,696.5 799.1,708.5 805.7,720.5 818,733.3 831.2,741 843.8,744.6ZM610.4,672.5 618.9,674 632.1,674.9 645.4,674.5 660.7,672.5 672,670.1 685.2,666.3 700.6,660.5 711.8,655.2 724.3,648.4 742.2,636.4 755.7,624.4 765.6,612.4 773.1,600.4 778.2,588.4 780.6,576.3 778.6,564.3 769.8,552.3 764.9,548.1 751.6,540.3 738.3,535 725,531.5 711.8,529.5 698.5,528.8 685.2,529.2 672,530.8 658.7,533.6 645.4,537.7 639,540.3 632.1,543.1 618.9,550 605.6,558.8 598.5,564.3 585.7,576.3 575.5,588.4 567.6,600.4 561.9,612.4 559,624.4 560,636.4 566.2,648.4 579,660.1 592.3,667.1 605.6,671.5 610.4,672.5ZM819.5,468.2 831.2,472.1 844.5,473.7 857.8,473 871,470.2 884.3,465.2 899.5,456.2 912.4,444.1 920.7,432.1 925.8,420.1 928.2,408.1 928,396.1 925,384.1 919,372 910.9,362.5 908.2,360 897.6,352.5 887.4,348 884.3,346.8 871,343.8 857.8,343.3 844.5,345 831.2,349 818,355.4 811.3,360 804.7,365.5 798.2,372 789.8,384.1 784.5,396.1 782.1,408.1 782.2,420.1 784.9,432.1 790.8,444.1 800.7,456.2 804.7,459.7 819.5,468.2Z"/>
<path stroke="#fc8060" d="M819.6,732.5 831.2,739.5 844.5,743.4 857.8,744.2 871,742.3 884.3,737.1 891,732.5 897.6,726.7 902.9,720.5 908.9,708.5 911.3,696.5 910.4,684.5 906.4,672.5 897.8,660.5 884.3,649.8 871,643.9 857.8,641.2 844.5,641 831.2,643.4 820,648.4 818,649.5 805.9,660.5 799.4,672.5 797,684.5 797.5,696.5 800.8,708.5 807.6,720.5 818,731.4 819.6,732.5ZM586.5,660.5 592.3,663.5 605.6,668.2 618.9,671 632.1,672 645.4,671.7 658.7,670.1 672,667.4 685.2,663.5 698.5,658.5 718.8,648.4 737.2,636.4 751.6,623.9 761.6,612.4 764.9,607.7 769.5,600.4 774.8,588.4 777.1,576.3 774.4,564.3 764.9,552.5 751.6,544 742.8,540.3 738.3,538.5 725,534.8 711.8,532.7 698.5,531.8 685.2,532.2 672,533.8 658.7,536.6 646.9,540.3 632.1,546.3 618.9,553.4 605.6,562.4 592.3,573.8 579,588.6 571.1,600.4 565.3,612.4 562.5,624.4 563.9,636.4 571,648.4 579,655.7 586.5,660.5ZM826.9,468.2 831.2,469.6 844.5,471.4 857.8,470.8 871,468 884.3,463.1 897.6,455.1 909.7,444.1 918.4,432.1 923.5,420.1 926,408.1 925.7,396.1 922.7,384.1 916.3,372 910.9,365.6 904.9,360 897.6,354.9 884.3,348.9 871,345.8 857.8,345.3 844.5,347 831.2,351 818,357.7 804.7,368.3 800.9,372 792.3,384.1 786.9,396.1 784.4,408.1 784.6,420.1 787.6,432.1 793.8,444.1 804.4,456.2 818,465 826.9,468.2Z"/>
<path stroke="#fb7a5a" d="M822.2,732.5 831.2,737.9 844.5,742 857.8,742.9 871,740.9 884.3,735.4 888.6,732.5 897.6,724.6 901,720.5 907.4,708.5 909.8,696.5 909,684.5 904.7,672.5 897.6,662.5 895.8,660.5 884.3,651.4 877.9,648.4 871,645.4 857.8,642.6 844.5,642.6 831.2,645.3 824.2,648.4 818,651.8 808.4,660.5 801.5,672.5 798.8,684.5 799.2,696.5 802.6,708.5 809.4,720.5 818,729.4 822.2,732.5ZM593.6,660.5 605.6,664.9 618.9,667.9 632.1,669.1 645.4,668.9 658.7,667.3 672,664.6 685.2,660.8 698.5,655.6 713.3,648.4 725,641.3 738.3,631.7 746.7,624.4 751.6,619.4 757.7,612.4 764.9,602 771.5,588.4 773.5,576.3 770.3,564.3 764.9,557.6 758.8,552.3 751.6,547.7 738.3,541.9 725,538.1 711.8,535.8 698.5,534.9 685.2,535.2 672,536.8 656.6,540.3 645.4,543.8 632.1,549.5 618.9,556.8 605.6,566 592.3,577.8 583,588.4 574.5,600.4 568.7,612.4 566,624.4 567.9,636.4 575.9,648.4 579,651.3 593.6,660.5ZM837.7,468.2 844.5,469.2 857.8,468.7 871,466 884.3,460.9 897.6,452.7 907,444.1 916,432.1 921.4,420.1 923.8,408.1 923.5,396.1 920.4,384.1 913.7,372 910.9,368.7 901.5,360 897.6,357.3 884.3,351 871,347.9 857.8,347.2 844.5,349 831.2,353.1 818,360 803.7,372 794.8,384.1 789.3,396.1 786.8,408.1 787,420.1 790.3,432.1 796.8,444.1 804.7,453.1 808.4,456.2 818,462.4 831.2,467.2 837.7,468.2Z"/>
<path stroke="#fb7353" d="M824.7,732.5 831.2,736.4 844.5,740.7 857.8,741.6 871,739.5 884.3,733.8 897.6,722.4 899.2,720.5 905.8,708.5 908.3,696.5 907.5,684.5 903,672.5 897.6,664.8 893.7,660.5 884.3,653.1 874.4,648.4 871,647 857.8,644.1 844.5,644.1 831.2,647.2 818,654.1 810.9,660.5 804.7,670.5 803.6,672.5 800.5,684.5 800.8,696.5 804.3,708.5 811.2,720.5 818,727.5 824.7,732.5ZM602.4,660.5 605.6,661.6 618.9,664.7 632.1,666.1 645.4,666 658.7,664.5 672,661.9 685.2,657.9 698.5,652.6 707.3,648.4 725,638 738.3,627.9 742.4,624.4 751.6,614.9 762.3,600.4 768.1,588.4 770,576.3 766.2,564.3 764.9,562.7 753,552.3 738.3,545.3 725,541.3 711.8,538.9 698.5,537.9 685.2,538.2 672,539.8 658.7,542.7 645.4,546.9 632.9,552.3 618.9,560.2 605.6,569.7 592.3,582.1 586.7,588.4 578,600.4 572.1,612.4 569.7,624.4 572,636.4 579,646.4 581.1,648.4 592.3,656 602.4,660.5ZM812.4,456.2 818,459.8 831.2,465 844.5,467.1 857.8,466.7 871,464 884.3,458.8 897.6,450.2 904.3,444.1 913.7,432.1 919.2,420.1 921.7,408.1 921.4,396.1 918.1,384.1 911.1,372 897.6,359.7 884.3,353.1 871,349.8 857.8,349.2 844.5,350.9 831.2,355.1 821.9,360 818,362.4 806.5,372 797.2,384.1 791.7,396.1 789.1,408.1 789.5,420.1 792.8,432.1 799.7,444.1 804.7,449.8 812.4,456.2Z"/>
<path stroke="#fb6d4d" d="M827.3,732.5 831.2,734.9 844.5,739.3 857.8,740.3 871,738.1 884.3,732.1 897.4,720.5 904.3,708.5 906.9,696.5 906,684.5 901.4,672.5 897.6,667.2 891.6,660.5 884.3,654.7 871,648.5 857.8,645.6 844.5,645.7 831.2,649 818,656.3 813.4,660.5 805.6,672.5 802.3,684.5 802.5,696.5 805.9,708.5 813.1,720.5 818,725.6 827.3,732.5ZM613.9,660.5 618.9,661.6 632.1,663.2 645.4,663.1 658.7,661.8 672,659 685.2,655 698.5,649.7 711.8,642.9 725,634.6 738.3,624.1 749.9,612.4 758.8,600.4 764.7,588.4 766.4,576.3 761.7,564.3 751.6,555.4 738.3,548.6 725,544.5 711.8,542 698.5,540.9 685.2,541.2 672,542.8 658.7,545.7 645.4,550 632.1,555.9 617.8,564.3 602.3,576.3 590.5,588.4 581.6,600.4 575.6,612.4 573.3,624.4 576.1,636.4 579,640.6 586.8,648.4 592.3,652.2 605.6,658.2 613.9,660.5ZM816.4,456.2 831.2,462.8 844.5,465.1 857.8,464.8 871,462 884.3,456.6 897.6,447.8 901.6,444.1 911.4,432.1 917.1,420.1 919.6,408.1 919.2,396.1 915.8,384.1 910.9,375.7 908.3,372 897.6,362.2 884.3,355.2 871,351.7 857.8,351 844.5,352.8 831.2,357.2 818,364.8 809.3,372 804.7,377.3 799.6,384.1 793.9,396.1 791.5,408.1 791.9,420.1 795.3,432.1 802.6,444.1 804.7,446.5 816.4,456.2Z"/>
<path stroke="#fa6648" d="M829.9,732.5 844.5,737.9 857.8,739 871,736.7 884.3,730.5 895.5,720.5 902.7,708.5 905.4,696.5 904.5,684.5 899.7,672.5 897.6,669.5 889.5,660.5 884.3,656.4 871,649.9 857.8,647.1 844.5,647.3 831.2,650.6 818,658.6 815.9,660.5 807.5,672.5 804.1,684.5 804.1,696.5 807.5,708.5 814.9,720.5 818,723.7 829.9,732.5ZM592.6,648.4 605.6,654.7 618.9,658.4 632.1,660.2 645.4,660.3 658.7,658.9 672,656.1 685.2,652 698.5,646.7 711.8,639.7 717.1,636.4 725,631.1 733.5,624.4 746,612.4 755.3,600.4 761.2,588.4 762.7,576.3 757,564.3 751.6,559.5 738.3,552 725,547.7 711.8,545.1 698.5,544 685.2,544.2 672,545.8 658.7,548.8 645.4,553.1 632.1,559.2 618.9,567.1 605.6,577.2 594.4,588.4 585.2,600.4 579,612.4 576.9,624.4 580.4,636.4 592.6,648.4ZM821.1,456.2 831.2,460.6 844.5,463 857.8,462.8 871,460.1 884.3,454.5 897.6,445.3 909,432.1 914.9,420.1 917.5,408.1 917.1,396.1 913.5,384.1 905.5,372 897.6,364.7 889.9,360 884.3,357.2 871,353.6 857.8,352.9 844.5,354.7 831.2,359.2 818,367.1 812.1,372 802,384.1 796.2,396.1 793.7,408.1 794.1,420.1 797.8,432.1 804.7,443 818,454.6 821.1,456.2Z"/>
<path stroke="#f85f43" d="M833.1,732.5 844.5,736.6 857.8,737.7 871,735.3 884.3,728.8 893.6,720.5 901.2,708.5 904,696.5 903,684.5 898,672.5 887.4,660.5 884.3,658 871,651.3 857.8,648.5 844.5,648.8 831.2,652.3 818.4,660.5 809.3,672.5 805.7,684.5 805.7,696.5 809,708.5 816.7,720.5 818,721.8 831.2,731.8 833.1,732.5ZM599.9,648.4 605.6,651.2 618.9,655.1 632.1,657 645.4,657.2 658.7,655.8 672,653.1 685.2,649.1 698.5,643.5 711.9,636.4 729,624.4 742.1,612.4 751.8,600.4 757.8,588.4 758.9,576.3 752.4,564.3 738.3,555.5 725,550.8 711.8,548.2 698.5,547 685.2,547.2 672,548.8 658.7,551.8 645.4,556.3 632.1,562.5 618.9,570.6 605.6,581.2 598.4,588.4 588.8,600.4 582.6,612.4 580.6,624.4 585.1,636.4 592.3,643.6 599.9,648.4ZM826.2,456.2 831.2,458.3 844.5,461 857.8,460.9 871,458.1 884.3,452.3 896,444.1 906.6,432.1 912.8,420.1 915.4,408.1 915,396.1 911.2,384.1 902.8,372 897.6,367.3 885.7,360 871,355.5 857.8,354.7 844.5,356.6 831.2,361.3 818,369.5 814.9,372 804.4,384.1 798.4,396.1 795.8,408.1 796.4,420.1 800.3,432.1 804.7,439 808.8,444.1 818,451.9 826.2,456.2Z"/>
<path stroke="#f6583e" d="M836.9,732.5 844.5,735.2 857.8,736.3 871,733.9 884.3,727.2 891.8,720.5 897.6,712 899.6,708.5 902.5,696.5 901.5,684.5 896.4,672.5 884.3,659.6 871,652.7 857.8,649.9 844.5,650.2 831.2,654 821,660.5 818,663.3 811.1,672.5 807.3,684.5 807.2,696.5 810.6,708.5 818.6,720.5 831.2,730.2 836.9,732.5ZM608,648.4 618.9,651.8 632.1,653.8 645.4,654.1 658.7,652.8 672,650.1 685.2,646 698.5,640.3 711.8,633.1 725,624 738.2,612.4 748.1,600.4 754.3,588.4 755.1,576.3 751.6,570 746.9,564.3 738.3,559 725,554 711.8,551.2 698.5,550.1 685.2,550.3 672,551.9 658.7,554.9 645.4,559.6 632.1,565.8 616,576.3 602.4,588.4 592.3,600.4 586.2,612.4 584.6,624.4 589.8,636.4 592.3,638.9 605.6,647.5 608,648.4ZM831.4,456.2 844.5,459 857.8,458.9 871,456.1 884.3,450.2 892.9,444.1 897.6,439.9 904.2,432.1 910.6,420.1 913.3,408.1 912.8,396.1 908.8,384.1 900,372 897.6,369.8 884.3,361.5 880,360 871,357.5 857.8,356.6 844.5,358.5 840,360 831.2,363.4 818,371.9 806.9,384.1 804.7,388 800.6,396.1 798,408.1 798.7,420.1 802.8,432.1 811.9,444.1 818,449.3 831.4,456.2Z"/>
<path stroke="#f4503a" d="M840.8,732.5 844.5,733.9 857.8,735 871,732.5 884.3,725.5 889.9,720.5 897.6,709.3 901.1,696.5 900,684.5 894.7,672.5 884.3,661.4 883,660.5 871,654.2 857.8,651.2 844.5,651.6 831.2,655.7 823.7,660.5 818,665.8 813,672.5 808.8,684.5 808.7,696.5 812.2,708.5 818,717.3 820.6,720.5 831.2,728.7 840.8,732.5ZM618.7,648.4 632.1,650.6 645.4,651 658.7,649.8 672,647.1 685.2,642.8 698.5,637.2 711.8,629.7 725,620.3 734,612.4 744.5,600.4 750.8,588.4 751.2,576.3 741.2,564.3 738.3,562.5 725,557.2 711.8,554.3 698.5,553.1 685.2,553.3 672,555 658.7,558.1 645.4,562.8 632.1,569.3 618.9,577.8 606.5,588.4 596.2,600.4 589.8,612.4 588.6,624.4 592.3,632.4 595.1,636.4 605.6,643.5 618.7,648.4ZM840.7,456.2 844.5,457 857.8,457 871,454.1 884.3,448 889.8,444.1 897.6,437.1 901.9,432.1 908.4,420.1 911.3,408.1 910.7,396.1 906.4,384.1 897.1,372 884.3,363.7 873.3,360 871,359.4 857.8,358.4 844.5,360.4 831.2,365.5 820.9,372 818,374.6 809.3,384.1 802.9,396.1 800.2,408.1 800.9,420.1 805.4,432.1 815,444.1 818,446.6 831.2,453.9 840.7,456.2Z"/>
<path stroke="#f34935" d="M844.9,732.5 857.8,733.7 871,731.1 884.3,723.8 888,720.5 896.5,708.5 899.6,696.5 898.6,684.5 893,672.5 884.3,663.2 880.3,660.5 871,655.6 857.8,652.6 844.5,653 831.2,657.3 826.3,660.5 818,668.3 814.8,672.5 810.4,684.5 810.1,696.5 813.7,708.5 818,714.9 822.6,720.5 831.2,727.2 844.9,732.5ZM601.1,636.4 605.6,639.5 618.9,644.9 632.1,647.4 645.4,647.8 658.7,646.6 672,643.9 685.2,639.7 698.5,633.9 711.8,626.4 725,616.7 729.9,612.4 740.8,600.4 747,588.4 746.7,576.3 738.3,566.8 734.4,564.3 725,560.4 711.8,557.4 698.5,556.1 685.2,556.4 672,558.1 658.7,561.3 645.4,566 632.1,572.7 618.9,581.6 610.9,588.4 600.1,600.4 593.6,612.4 592.6,624.4 601.1,636.4ZM818.2,444.1 831.2,451.6 844.5,455 857.8,455 871,452.1 884.3,445.9 886.8,444.1 897.6,434.4 899.5,432.1 906.2,420.1 909.1,408.1 908.5,396.1 903.9,384.1 897.6,375.7 893.8,372 884.3,365.9 871,361.4 857.8,360.3 844.5,362.3 831.2,367.6 824.2,372 818,377.3 811.8,384.1 805.1,396.1 802.4,408.1 803.2,420.1 808,432.1 818.2,444.1Z"/>
<path stroke="#f14130" d="M824.6,720.5 831.2,725.6 844.5,731.1 857.8,732.4 871,729.7 884.3,722.2 886.2,720.5 894.9,708.5 898.2,696.5 897.1,684.5 891.3,672.5 884.3,665 877.6,660.5 871,657 857.8,653.9 844.5,654.4 831.2,659 828.9,660.5 818,670.7 816.7,672.5 811.9,684.5 811.6,696.5 815.3,708.5 818,712.5 824.6,720.5ZM607.6,636.4 618.9,641.2 632.1,644 645.4,644.5 658.7,643.4 672,640.7 685.2,636.5 698.5,630.5 709.3,624.4 725,613 737,600.4 743.2,588.4 742.2,576.3 738.3,571.9 726.7,564.3 711.8,560.4 698.5,559.2 685.2,559.4 672,561.2 658.7,564.4 645.4,569.4 632.1,576.1 618.9,585.4 615.3,588.4 605.6,598.4 604,600.4 597.7,612.4 597.4,624.4 605.6,634.9 607.6,636.4ZM822.1,444.1 831.2,449.4 844.5,452.9 857.8,453.1 871,450.1 883.5,444.1 897,432.1 904,420.1 907,408.1 906.3,396.1 901.5,384.1 897.6,378.8 890.4,372 884.3,368.1 871,363.4 857.8,362.2 844.5,364.3 831.2,369.7 827.5,372 818,380 814.3,384.1 807.4,396.1 804.6,408.1 805.5,420.1 810.7,432.1 818,440.8 822.1,444.1Z"/>
<path stroke="#ee3a2c" d="M826.6,720.5 831.2,724.1 844.5,729.8 857.8,731 871,728.2 884.3,720.5 893.3,708.5 896.7,696.5 895.5,684.5 889.6,672.5 884.3,666.8 874.9,660.5 871,658.4 857.8,655.2 844.5,655.9 831.2,660.7 818.5,672.5 813.5,684.5 813.1,696.5 816.9,708.5 826.6,720.5ZM616.1,636.4 618.9,637.6 632.1,640.5 645.4,641.2 658.7,640.1 672,637.4 685.2,633.1 698.5,627.2 711.8,619.3 721,612.4 732.9,600.4 739.3,588.4 737.6,576.3 725,567.6 711.8,563.5 698.5,562.2 685.2,562.5 672,564.3 658.7,567.7 645.4,572.7 632.1,579.8 620,588.4 608.2,600.4 601.7,612.4 602.2,624.4 605.6,628.8 616.1,636.4ZM826.1,444.1 831.2,447.1 844.5,450.9 857.8,451.1 871,448.1 879.3,444.1 884.3,441.2 894.3,432.1 897.6,427.5 901.8,420.1 904.8,408.1 904.1,396.1 899.1,384.1 897.6,382 887,372 884.3,370.3 871,365.4 857.8,364.2 844.5,366.3 830.8,372 816.8,384.1 809.7,396.1 806.9,408.1 807.9,420.1 813.3,432.1 818,437.7 826.1,444.1Z"/>
<path stroke="#e93529" d="M828.6,720.5 831.2,722.5 844.5,728.4 857.8,729.7 871,726.8 881.8,720.5 884.3,718.4 891.7,708.5 895.2,696.5 894,684.5 887.8,672.5 884.3,668.7 872.3,660.5 871,659.8 857.8,656.6 844.5,657.3 831.2,662.5 820.5,672.5 815.1,684.5 814.6,696.5 818.5,708.5 828.6,720.5ZM629.1,636.4 632.1,637.1 645.4,637.9 658.7,636.9 672,634.1 685.2,629.8 697.3,624.4 711.8,615.7 716.3,612.4 728.8,600.4 735,588.4 731.7,576.3 725,571.7 711.8,567 698.5,565.3 685.2,565.6 672,567.5 658.7,571 645.4,576 632.1,583.4 625.2,588.4 618.9,593.9 612.6,600.4 605.9,612.4 607.4,624.4 618.9,633.1 629.1,636.4ZM830,444.1 844.5,448.8 857.8,449.1 871,446.1 875.1,444.1 884.3,438.7 891.6,432.1 899.6,420.1 902.7,408.1 901.9,396.1 896.6,384.1 884.3,372.6 871,367.4 857.8,366.1 844.5,368.2 831.2,374.2 819.5,384.1 812.1,396.1 809.2,408.1 810.3,420.1 815.9,432.1 818,434.5 830,444.1Z"/>
<path stroke="#e32f27" d="M830.7,720.5 844.5,727 857.8,728.4 871,725.4 879.4,720.5 884.3,716.3 890.1,708.5 893.7,696.5 892.5,684.5 886.1,672.5 884.3,670.5 871,661.3 857.8,657.9 844.5,658.7 839.6,660.5 831.2,664.4 822.5,672.5 816.6,684.5 816.1,696.5 820.2,708.5 830.7,720.5ZM613.8,624.4 618.9,628.3 632.1,633.1 645.4,634.3 658.7,633.3 672,630.7 685.2,626.4 698.5,620.2 711.4,612.4 724.6,600.4 730.4,588.4 725.8,576.3 711.8,570.6 698.5,568.6 685.2,568.9 672,570.7 658.7,574.2 653.2,576.3 645.4,579.7 632.1,587.1 617.1,600.4 610.9,612.4 613.8,624.4ZM835.8,444.1 844.5,446.8 857.8,447.2 871,444.1 884.3,436.3 888.9,432.1 897.4,420.1 900.6,408.1 899.7,396.1 897.6,391.2 893.7,384.1 884.3,375.3 878,372 871,369.4 857.8,368 844.5,370.2 831.2,376.6 822.4,384.1 818,390 814.4,396.1 811.4,408.1 812.7,420.1 818.7,432.1 831.2,442.3 835.8,444.1Z"/>
<path stroke="#dd2a25" d="M833.4,720.5 844.5,725.7 857.8,727.1 871,724 877,720.5 884.3,714.1 888.5,708.5 892.2,696.5 891,684.5 884.3,672.3 871,662.9 862.6,660.5 857.8,659.3 844.5,660.1 831.2,666.2 824.5,672.5 818.2,684.5 817.6,696.5 821.9,708.5 831.2,719.1 833.4,720.5ZM621,624.4 632.1,628.9 645.4,630.6 658.7,629.8 672,627.2 680.9,624.4 685.2,622.8 698.5,616.6 705.4,612.4 711.8,607.5 719.5,600.4 725.8,588.4 725,586.5 717.3,576.3 711.8,574.1 698.5,572 685.2,572.1 672,574 663,576.3 658.7,577.7 645.4,583.4 636.5,588.4 632.1,591.6 622.2,600.4 615.9,612.4 618.9,621.3 621,624.4ZM842.5,444.1 844.5,444.7 857.8,445.2 871,441.8 884.3,433.8 886.1,432.1 894.9,420.1 898.4,408.1 897.4,396.1 890.8,384.1 884.3,378 872.8,372 871,371.4 857.8,370 844.5,372.2 831.2,379.1 825.3,384.1 816.7,396.1 813.7,408.1 815.1,420.1 818,426.1 822,432.1 831.2,439.6 842.5,444.1Z"/>
<path stroke="#d82422" d="M836.3,720.5 844.5,724.3 857.8,725.7 871,722.6 874.5,720.5 884.3,712 886.9,708.5 890.8,696.5 889.5,684.5 884.3,675 882.3,672.5 871,664.4 857.8,660.6 844.5,661.6 831.2,668 826.4,672.5 819.9,684.5 819.1,696.5 823.6,708.5 831.2,717.2 836.3,720.5ZM631.2,624.4 645.4,626.8 658.7,626.2 672,623.6 685.2,619 698.5,612.9 714.5,600.4 719.8,588.4 711.8,579.1 704.4,576.3 698.5,575.3 685.2,575.3 672,577.4 658.7,581.5 643.1,588.4 632.1,596.5 627.8,600.4 621.7,612.4 631.2,624.4ZM825.3,432.1 831.2,437 844.5,442.5 857.8,443.1 871,439.4 884.3,431 892.3,420.1 896.1,408.1 894.8,396.1 887.9,384.1 884.3,380.7 871,373.7 857.8,371.9 844.5,374.5 831.2,381.5 828.2,384.1 819.2,396.1 816,408.1 817.4,420.1 825.3,432.1Z"/>
<path stroke="#d21f20" d="M839.3,720.5 844.5,722.9 857.8,724.4 871,721.1 884.3,709.9 885.3,708.5 889.3,696.5 888,684.5 884.3,677.8 880.1,672.5 871,666 857.8,662.1 844.5,663.2 831.2,669.9 828.4,672.5 821.6,684.5 820.8,696.5 825.4,708.5 831.2,715.2 839.3,720.5ZM628.7,612.4 632.1,616.6 645.4,622.1 658.7,621.9 672,619.3 685.2,615.1 691.3,612.4 698.5,607.9 708.5,600.4 713.5,588.4 711.8,586.4 698.5,580.1 685.2,579.5 672,581.5 658.7,585.3 651.3,588.4 645.4,592 633.8,600.4 628.7,612.4ZM828.5,432.1 831.2,434.3 844.5,440.1 857.8,440.8 871,437.1 879.3,432.1 884.3,427.5 889.8,420.1 893.5,408.1 892.2,396.1 885,384.1 871,376.1 857.8,374.2 844.5,376.8 831.1,384.1 821.9,396.1 818.3,408.1 820.2,420.1 828.5,432.1Z"/>
<path stroke="#cc191e" d="M842.3,720.5 844.5,721.6 857.8,723.1 868,720.5 871,719.5 883.6,708.5 887.8,696.5 886.4,684.5 884.3,680.6 877.9,672.5 871,667.6 857.8,663.6 844.5,664.8 830.4,672.5 823.3,684.5 822.4,696.5 827.1,708.5 831.2,713.2 842.3,720.5ZM638.3,612.4 645.4,616 658.7,616.9 672,615 681,612.4 685.2,610.4 698.5,602.5 701.4,600.4 704.1,588.4 698.5,585.5 685.2,584 672,585.6 661.7,588.4 645.4,597.7 641.7,600.4 638.3,612.4ZM832.2,432.1 844.5,437.7 857.8,438.5 871,434.8 875.5,432.1 884.3,424.1 887.2,420.1 891,408.1 889.6,396.1 884.3,387.4 880.9,384.1 871,378.6 857.8,376.5 844.5,379.1 835.4,384.1 831.2,387.5 824.7,396.1 821.1,408.1 823.1,420.1 831.2,431.4 832.2,432.1Z"/>
<path stroke="#c7171c" d="M847.4,720.5 857.8,721.7 871,717.7 881.5,708.5 884.3,702.5 886.3,696.5 884.9,684.5 875.7,672.5 871,669.1 857.8,665.1 844.5,666.3 832.9,672.5 831.2,674.1 825,684.5 824,696.5 828.8,708.5 831.2,711.3 844.5,720.1 847.4,720.5ZM652.6,600.4 658.7,610.3 672,608.3 685.2,603.5 691,600.4 685.2,589.5 672,592 658.7,597.1 652.6,600.4ZM837.5,432.1 844.5,435.2 857.8,436.2 871,432.5 884.3,420.6 888.5,408.1 886.9,396.1 884.3,391.7 876.5,384.1 871,381 857.8,378.8 844.5,381.5 839.7,384.1 831.2,391.1 827.4,396.1 823.8,408.1 826,420.1 831.2,427.3 837.5,432.1Z"/>
<path stroke="#c1161b" d="M830.5,708.5 844.5,718.3 857.8,720.4 871,715.9 879.4,708.5 884.3,698.1 884.8,696.5 883.2,684.5 873.5,672.5 871,670.7 857.8,666.6 844.5,667.9 835.9,672.5 831.2,676.9 826.7,684.5 825.6,696.5 830.5,708.5ZM842.9,432.1 844.5,432.8 857.8,433.9 864.2,432.1 871,429.4 881.2,420.1 884.3,413.4 886,408.1 884.3,396.1 872.1,384.1 871,383.5 857.8,381.1 844.5,383.8 831.2,394.7 830.2,396.1 826.6,408.1 828.9,420.1 831.2,423.3 842.9,432.1Z"/>
<path stroke="#bb141a" d="M832.7,708.5 844.5,716.6 857.8,718.7 871,714.1 877.4,708.5 883.1,696.5 881.2,684.5 871,672.3 857.8,668.1 844.5,669.4 838.8,672.5 831.2,679.7 828.4,684.5 827.2,696.5 831.2,706.2 832.7,708.5ZM832.2,420.1 844.5,429.6 857.8,431.4 871,426.1 877.6,420.1 883.1,408.1 880.4,396.1 871,386.9 861.2,384.1 857.8,383.5 844.5,387.1 833.8,396.1 831.2,401.7 829.3,408.1 832.2,420.1Z"/>
<path stroke="#b51318" d="M835.3,708.5 844.5,714.9 857.8,717 871,712.2 875.3,708.5 881.1,696.5 879.2,684.5 871,674.6 866.9,672.5 857.8,669.5 844.5,671 841.7,672.5 831.2,682.6 830.1,684.5 828.9,696.5 831.2,702.3 835.3,708.5ZM836.8,420.1 844.5,426.1 857.8,428.1 871,422.8 874,420.1 879.4,408.1 876.5,396.1 871,390.7 857.8,386.7 844.5,390.6 837.9,396.1 832.5,408.1 836.8,420.1Z"/>
<path stroke="#af1117" d="M837.8,708.5 844.5,713.1 857.8,715.3 871,710.4 873.2,708.5 879.2,696.5 877.2,684.5 871,676.9 862.3,672.5 857.8,671 844.5,672.6 832,684.5 830.5,696.5 831.2,698.3 837.8,708.5ZM841.4,420.1 844.5,422.5 857.8,424.7 869.4,420.1 871,418.5 875.8,408.1 872.6,396.1 871,394.5 857.8,390.2 844.5,394 842,396.1 836.7,408.1 841.4,420.1Z"/>
<path stroke="#a91016" d="M840.3,708.5 844.5,711.4 857.8,713.6 871,708.6 877.3,696.5 875.3,684.5 871,679.3 857.8,672.5 844.5,675 834.5,684.5 832.5,696.5 840.3,708.5ZM850.7,420.1 857.8,421.4 861,420.1 871,410.5 872.1,408.1 871,404.1 864.8,396.1 857.8,393.7 849.6,396.1 844.5,400 841,408.1 844.5,416.7 850.7,420.1Z"/>
<path stroke="#a10e15" d="M842.9,708.5 844.5,709.6 857.8,711.9 866.7,708.5 871,705 875.4,696.5 873.3,684.5 871,681.7 857.8,674.8 844.5,677.4 837,684.5 834.9,696.5 842.9,708.5ZM846.9,408.1 857.8,414.7 864.7,408.1 857.8,399.8 846.9,408.1Z"/>
<path stroke="#980c13" d="M848.2,708.5 857.8,710.2 862.2,708.5 871,701.2 873.4,696.5 871,684.1 857.8,677.1 844.5,679.8 839.5,684.5 837.3,696.5 844.5,707.2 848.2,708.5Z"/>
<path stroke="#8e0912" d="M839.7,696.5 844.5,703.6 857.8,708.4 871,697.4 871.5,696.5 871,693.8 867.4,684.5 857.8,679.3 844.5,682.2 842,684.5 839.7,696.5Z"/>
<path stroke="#840711" d="M842.1,696.5 844.5,700 857.8,704.9 867.8,696.5 863.2,684.5 857.8,681.6 844.8,684.5 842.1,696.5Z"/>
<path stroke="#7a0510" d="M844.6,696.5 857.8,701.4 863.6,696.5 858.9,684.5 857.8,683.9 855,684.5 844.6,696.5Z"/>
<path stroke="#71020e" d="M854.1,696.5 857.8,697.9 859.4,696.5 857.8,692.3 854.1,696.5Z"/></g>
<path fill="none" stroke="#333333" stroke-width="3.7" d="M632.3,329.6l23.8,23.8m-23.8,0l23.8,-23.8M541.6,396.6l23.8,23.8m-23.8,0l23.8,-23.8M539.1,401.5l23.8,23.8m-23.8,0l23.8,-23.8M618.7,401.5l23.8,23.8m-23.8,0l23.8,-23.8M679,408.4l23.8,23.8m-23.8,0l23.8,-23.8M573,441.6l23.8,23.8m-23.8,0l23.8,-23.8M592.1,451.3l23.8,23.8m-23.8,0l23.8,-23.8M600.9,461.1l23.8,23.8m-23.8,0l23.8,-23.8M487.5,457.3l23.8,23.8m-23.8,0l23.8,-23.8M470.8,480.3l23.8,23.8m-23.8,0l23.8,-23.8M569.5,497.7l23.8,23.8m-23.8,0l23.8,-23.8M595.3,502.6l23.8,23.8m-23.8,0l23.8,-23.8M604.4,521.6l23.8,23.8m-23.8,0l23.8,-23.8M632.8,526.3l23.8,23.8m-23.8,0l23.8,-23.8M502.2,519.4l23.8,23.8m-23.8,0l23.8,-23.8M442.2,526.3l23.8,23.8m-23.8,0l23.8,-23.8M692.6,509.1l23.8,23.8m-23.8,0l23.8,-23.8M747.6,270l23.8,23.8m-23.8,0l23.8,-23.8M765.8,281.1l23.8,23.8m-23.8,0l23.8,-23.8M722.2,293.7l23.8,23.8m-23.8,0l23.8,-23.8M919.9,285.7l23.8,23.8m-23.8,0l23.8,-23.8M908.8,314.3l23.8,23.8m-23.8,0l23.8,-23.8M802.4,324.7l23.8,23.8m-23.8,0l23.8,-23.8M832,323l23.8,23.8m-23.8,0l23.8,-23.8M761.6,336.2l23.8,23.8m-23.8,0l23.8,-23.8M781.5,343.2l23.8,23.8m-23.8,0l23.8,-23.8M952.4,357.9l23.8,23.8m-23.8,0l23.8,-23.8M884.4,381.6l23.8,23.8m-23.8,0l23.8,-23.8M922.7,379.8l23.8,23.8m-23.8,0l23.8,-23.8M970.5,401.5l23.8,23.8m-23.8,0l23.8,-23.8M955.9,424.1l23.8,23.8m-23.8,0l23.8,-23.8M960.4,477.5l23.8,23.8m-23.8,0l23.8,-23.8M843.5,411.9l23.8,23.8m-23.8,0l23.8,-23.8M711.7,389.6l23.8,23.8m-23.8,0l23.8,-23.8M715.2,395.5l23.8,23.8m-23.8,0l23.8,-23.8M744.8,392l23.8,23.8m-23.8,0l23.8,-23.8M765.8,398l23.8,23.8m-23.8,0l23.8,-23.8M782.5,407l23.8,23.8m-23.8,0l23.8,-23.8M804.8,425.2l23.8,23.8m-23.8,0l23.8,-23.8M830.3,449.6l23.8,23.8m-23.8,0l23.8,-23.8M851.2,465.3l23.8,23.8m-23.8,0l23.8,-23.8M818.1,497.4l23.8,23.8m-23.8,0l23.8,-23.8M830.3,520.1l23.8,23.8m-23.8,0l23.8,-23.8M718.7,440.9l23.8,23.8m-23.8,0l23.8,-23.8M703,449.6l23.8,23.8m-23.8,0l23.8,-23.8M682.1,460.1l23.8,23.8m-23.8,0l23.8,-23.8M694.3,468.8l23.8,23.8m-23.8,0l23.8,-23.8M779.7,460.1l23.8,23.8m-23.8,0l23.8,-23.8M769.3,463.5l23.8,23.8m-23.8,0l23.8,-23.8M755.3,470.5l23.8,23.8m-23.8,0l23.8,-23.8M732.6,488l23.8,23.8m-23.8,0l23.8,-23.8M753.6,507.1l23.8,23.8m-23.8,0l23.8,-23.8M744.6,516.1l23.8,23.8m-23.8,0l23.8,-23.8M457.9,538.8l23.8,23.8m-23.8,0l23.8,-23.8M471.8,549.3l23.8,23.8m-23.8,0l23.8,-23.8M438.7,569.8l23.8,23.8m-23.8,0l23.8,-23.8M479.5,580.3l23.8,23.8m-23.8,0l23.8,-23.8M489.3,574.4l23.8,23.8m-23.8,0l23.8,-23.8M500.4,575.1l23.8,23.8m-23.8,0l23.8,-23.8M421.9,619l23.8,23.8m-23.8,0l23.8,-23.8M562.5,548.2l23.8,23.8m-23.8,0l23.8,-23.8M654.9,544.7l23.8,23.8m-23.8,0l23.8,-23.8M614.8,581.3l23.8,23.8m-23.8,0l23.8,-23.8M675.1,572.6l23.8,23.8m-23.8,0l23.8,-23.8M667.1,590.1l23.8,23.8m-23.8,0l23.8,-23.8M635.7,609.3l23.8,23.8m-23.8,0l23.8,-23.8M696.1,603.1l23.8,23.8m-23.8,0l23.8,-23.8M709.1,602.1l23.8,23.8m-23.8,0l23.8,-23.8M545.1,623.2l23.8,23.8m-23.8,0l23.8,-23.8M553.8,621.5l23.8,23.8m-23.8,0l23.8,-23.8M576.5,626.7l23.8,23.8m-23.8,0l23.8,-23.8M607.8,633.7l23.8,23.8m-23.8,0l23.8,-23.8M576.5,645.9l23.8,23.8m-23.8,0l23.8,-23.8M585.2,649.4l23.8,23.8m-23.8,0l23.8,-23.8M593.9,645.9l23.8,23.8m-23.8,0l23.8,-23.8M622.5,673.8l23.8,23.8m-23.8,0l23.8,-23.8M632.3,672l23.8,23.8m-23.8,0l23.8,-23.8M710,679l23.8,23.8m-23.8,0l23.8,-23.8M519.9,665.8l23.8,23.8m-23.8,0l23.8,-23.8M467.3,671.3l23.8,23.8m-23.8,0l23.8,-23.8M508.8,702.4l23.8,23.8m-23.8,0l23.8,-23.8M448.1,707.6l23.8,23.8m-23.8,0l23.8,-23.8M475.3,719.1l23.8,23.8m-23.8,0l23.8,-23.8M624.6,723.3l23.8,23.8m-23.8,0l23.8,-23.8M608.9,734.8l23.8,23.8m-23.8,0l23.8,-23.8M700.4,723.7l23.8,23.8m-23.8,0l23.8,-23.8M535.6,762.7l23.8,23.8m-23.8,0l23.8,-23.8M604.4,784.3l23.8,23.8m-23.8,0l23.8,-23.8M760.5,537.7l23.8,23.8m-23.8,0l23.8,-23.8M820.9,555.2l23.8,23.8m-23.8,0l23.8,-23.8M871.5,566.3l23.8,23.8m-23.8,0l23.8,-23.8M890.3,591.8l23.8,23.8m-23.8,0l23.8,-23.8M793.7,585.5l23.8,23.8m-23.8,0l23.8,-23.8M826.1,585.5l23.8,23.8m-23.8,0l23.8,-23.8M744.1,575.1l23.8,23.8m-23.8,0l23.8,-23.8M725.7,615.2l23.8,23.8m-23.8,0l23.8,-23.8M946.1,651.8l23.8,23.8m-23.8,0l23.8,-23.8M746.6,728.5l23.8,23.8m-23.8,0l23.8,-23.8"/>
</g>
<rect x="220.7" y="119.7" width="955.6" height="865.2" fill="none" stroke="#808080" stroke-width="4.8"/>
<text x="220.7" y="1055.1" font-size="42.7" text-anchor="middle">−6</text>
<text x="182.8" y="1001.6" font-size="42.7" text-anchor="end">−6</text>
<text x="380.0" y="1055.1" font-size="42.7" text-anchor="middle">−4</text>
<text x="182.8" y="857.4" font-size="42.7" text-anchor="end">−4</text>
<text x="539.2" y="1055.1" font-size="42.7" text-anchor="middle">−2</text>
<text x="182.8" y="713.2" font-size="42.7" text-anchor="end">−2</text>
<text x="698.5" y="1055.1" font-size="42.7" text-anchor="middle">0</text>
<text x="182.8" y="569.0" font-size="42.7" text-anchor="end">0</text>
<text x="857.8" y="1055.1" font-size="42.7" text-anchor="middle">2</text>
<text x="182.8" y="424.8" font-size="42.7" text-anchor="end">2</text>
<text x="1017.0" y="1055.1" font-size="42.7" text-anchor="middle">4</text>
<text x="182.8" y="280.6" font-size="42.7" text-anchor="end">4</text>
<text x="1176.3" y="1055.1" font-size="42.7" text-anchor="middle">6</text>
<text x="182.8" y="136.4" font-size="42.7" text-anchor="end">6</text>
<text class="m" x="701.0" y="1132.3" font-size="68.0" text-anchor="middle"><tspan class="i">x</tspan><tspan font-size="47.6" dx="5.8" dy="11.0">1</tspan></text>
<text x="700.3" y="96.7" font-size="93.7" text-anchor="middle">Truth</text>
<g clip-path="url(#c1)">
<g fill="none" stroke-width="4.60" stroke-linejoin="round"><path stroke="#fff5f0" d="M1581,984.9 1581,768.6 1634,816.7 1647.3,816.7 1673.9,840.7 1700.4,840.7 1713.7,852.7 1872.9,852.7 1886.2,840.7 1912.8,840.7 1926,828.7 1939.3,828.7 1952.6,816.7 1965.8,816.7 1979.1,804.6 1992.4,804.6 2072,732.5 2072,720.5 2085.3,708.5 2085.3,696.5 2111.8,672.5 2111.8,648.4 2125.1,636.4 2125.1,624.4 2138.4,612.4 2138.4,588.4 2164.9,564.3 2164.9,552.3 2178.2,540.3 2178.2,528.3 2191.5,516.2 2191.5,504.2 2204.8,492.2 2204.8,480.2 2218,468.2 2218,420.1 2191.5,396.1 2191.5,384.1 2151.7,348 2151.7,336 2138.4,324 2125.1,324 2098.6,300 2085.3,300 2072,287.9 1926,287.9 1912.8,300 1859.7,300 1846.4,312 1833.1,312 1806.6,336 1793.3,336 1753.5,372 1740.2,372 1726.9,384.1 1713.7,384.1 1700.4,396.1 1687.1,396.1 1673.9,408.1 1660.6,408.1 1567.7,492.2 1567.7,504.2 1554.4,492.2 1541.1,492.2 1527.9,480.2 1514.6,480.2 1501.3,468.2 1488,468.2 1474.8,456.2 1461.5,456.2 1448.2,444.1 1435,444.1 1421.7,432.1 1408.4,432.1 1395.1,420.1 1381.9,420.1 1368.6,408.1"/>
<path stroke="#fff2eb" d="M1528,984.9 1528,684.5 1528.6,636.4 1528,612.4 1528,528.3 1514.6,520.2 1368.6,450.9M1748.1,792.6 1766.8,794.7 1780,795.4 1793.3,795.3 1806.6,794.7 1833.1,791.8 1846.4,789.8 1859.7,787.1 1872.9,783.4 1899.5,774.7 1926,763 1952.6,747.8 1965.8,739 1979.1,728.9 1992.4,717.8 2014.6,696.5 2025.9,684.5 2036.2,672.5 2055.3,648.4 2064,636.4 2079.8,612.4 2111.8,557.3 2125.1,536.8 2148,504.2 2155.8,492.2 2162.6,480.2 2168.7,468.2 2173.8,456.2 2180.5,432.1 2181.1,420.1 2177.7,408.1 2172.9,396.1 2157.7,372 2151.7,365.1 2148.2,360 2125.7,336 2111.8,325 2098.6,316.1 2086.5,312 2072,305.9 2058.8,303.4 2045.5,302.3 2018.9,301.7 1979.1,302.6 1952.6,304.7 1939.3,306.6 1926,309.3 1899.5,315.8 1886.2,320.4 1872.9,326.8 1859.2,336 1848,348 1819.9,380.6 1806.6,394.1 1793.3,405.4 1771.5,420.1 1750,432.1 1740.2,436.8 1727.3,444.1 1713.7,451 1700.4,458.9 1673.9,476.7 1660.6,487 1641.6,504.2 1630.1,516.2 1610.9,540.3 1602.9,552.3 1596.2,564.3 1590.2,576.3 1585.2,588.4 1581,604 1577.2,612.4 1573.9,624.4 1572.5,636.4 1572.5,648.4 1574.1,660.5 1577.8,672.5 1581,678.5 1582.5,684.5 1587.2,696.5 1594.2,708.5 1602,720.5 1612.5,732.5 1625.6,744.6 1634,751.3 1647.3,760.1 1660.6,767.3 1673.9,773.9 1687.1,778.8 1713.7,787.1 1726.9,789.9 1748.1,792.6Z"/>
<path stroke="#ffeee7" d="M1480.3,984.9 1480.3,552.3 1479.2,540.3 1474.8,537.4 1368.6,487M1716.2,768.6 1726.9,771.4 1740.2,773.8 1753.5,775.3 1766.8,776.2 1780,776.5 1806.6,775.3 1819.9,773.8 1833.1,771.6 1859.7,765.7 1872.9,761.9 1899.5,752.1 1926,739.4 1939.3,731.4 1952.6,723 1965.8,713.6 1979.1,702.9 1999.1,684.5 2010.8,672.5 2021.5,660.5 2041.6,636.4 2050.7,624.4 2067.3,600.4 2082,576.3 2098.6,547.7 2111.8,526.5 2135,492.2 2142.3,480.2 2148.7,468.2 2154.1,456.2 2158.7,444.1 2161.9,432.1 2163.9,420.1 2164.2,408.1 2161.1,396.1 2155.5,384.1 2151.7,378.7 2148.1,372 2129.4,348 2118.1,336 2111.8,330.9 2098.6,322.2 2085.3,315.5 2058.8,308 2045.5,306.4 2032.2,305.7 2005.7,305.6 1979.1,307.1 1965.8,308.6 1926,315.9 1912.8,319.8 1899.5,325.3 1886.2,332.5 1880.8,336 1869.6,348 1833.1,393.8 1820.1,408.1 1806.6,420.1 1788.7,432.1 1767.4,444.1 1753.5,450.7 1713.7,472.2 1687.1,489.7 1673.9,499.7 1655.1,516.2 1643.5,528.3 1624.3,552.3 1616.6,564.3 1610.2,576.3 1604.8,588.4 1600.3,600.4 1597.2,612.4 1595.3,624.4 1594.4,636.4 1594.6,648.4 1595.7,660.5 1598.2,672.5 1602.4,684.5 1608.6,696.5 1616.2,708.5 1626.3,720.5 1634,728 1647.3,738.8 1660.6,747.3 1673.9,754.3 1687.1,760.1 1700.4,764.8 1716.2,768.6Z"/>
<path stroke="#ffebe2" d="M1432.6,984.9 1432.6,564.3 1430.3,552.3 1368.6,523M1713.2,756.6 1726.9,760.3 1740.2,762.7 1753.5,764.3 1766.8,765.1 1780,765.3 1806.6,764 1819.9,762.5 1833.1,760.1 1859.7,753.8 1872.9,749.8 1899.5,739.6 1926,726.2 1939.3,718 1952.6,708.6 1968.6,696.5 1982.4,684.5 1994.6,672.5 2016.5,648.4 2036,624.4 2053.5,600.4 2061.3,588.4 2076,564.3 2098.6,526 2120.8,492.2 2135,468.2 2140.6,456.2 2145.5,444.1 2148.9,432.1 2151.1,420.1 2152.3,408.1 2151.5,396.1 2147.4,384.1 2140.7,372 2132.7,360 2122.7,348 2111.2,336 2098.6,326.7 2085.3,319.3 2072,314.8 2055.2,312 2045.5,310.5 2032.2,309.6 2005.7,309.4 1992.4,310.1 1952.6,314.8 1939.3,317.5 1926,321.4 1912.8,326.6 1899.5,333.6 1895.7,336 1884,348 1864.4,372 1846.4,397 1833.1,412.7 1825.6,420.1 1819.9,425 1810.7,432.1 1791.2,444.1 1780,449.5 1767.8,456.2 1753.5,462.7 1726.9,476.8 1713.7,484.6 1700.4,493.5 1687.1,503.1 1671.1,516.2 1658.6,528.3 1647.8,540.3 1637.9,552.3 1629.7,564.3 1623,576.3 1617.2,588.4 1612.6,600.4 1609.5,612.4 1607.6,624.4 1606.5,636.4 1606.9,648.4 1608.5,660.5 1611.3,672.5 1616.1,684.5 1622.9,696.5 1631.8,708.5 1643.4,720.5 1647.3,723.9 1660.6,733.7 1673.9,741.7 1687.1,748 1700.4,753.1 1713.2,756.6Z"/>
<path stroke="#fee8dd" d="M1384.9,984.9 1384.9,576.3 1381.9,568.2 1379.6,564.3 1368.6,559.1M1766,756.6 1780,757 1793.3,756.5 1819.9,754.2 1833.1,752 1846.4,749.1 1872.9,741.2 1886.2,736.3 1899.5,730.4 1912.8,724 1926,716.7 1952.6,698.7 1965.8,688.1 1982.9,672.5 1994.4,660.5 2004.9,648.4 2024.6,624.4 2042.2,600.4 2050.4,588.4 2065.5,564.3 2085.3,530.4 2117.4,480.2 2124.1,468.2 2130.4,456.2 2135.2,444.1 2141.6,420.1 2143,408.1 2142.9,396.1 2140.2,384.1 2134.6,372 2126.7,360 2117.5,348 2106.1,336 2098.6,330.5 2085.3,323.1 2072,317.6 2058.8,314.8 2045.5,313.4 2032.2,312.7 2005.7,312.6 1979.1,314.2 1965.8,315.8 1952.6,318.2 1939.3,321.7 1926,326.4 1912.8,332.7 1907.1,336 1894.6,348 1884.5,360 1875.1,372 1866.4,384.1 1859.7,394.6 1846.4,412.4 1839.5,420.1 1833.1,426.4 1826.4,432.1 1808.6,444.1 1785.6,456.2 1753.5,471.4 1726.9,485.6 1713.7,493.9 1698.7,504.2 1687.1,512.9 1673.9,524.4 1658.3,540.3 1648.4,552.3 1639.6,564.3 1632.8,576.3 1626.6,588.4 1622.3,600.4 1618.9,612.4 1616.5,624.4 1615.6,636.4 1616.1,648.4 1618.1,660.5 1621.7,672.5 1626.8,684.5 1634.5,696.5 1644.3,708.5 1657.5,720.5 1673.9,731.6 1687.1,738.8 1713.7,748.6 1726.9,752 1740.2,754.3 1753.5,755.8 1766,756.6Z"/>
<path stroke="#fee5d8" d="M1726,744.6 1740.2,747.8 1753.5,749.7 1766.8,750.7 1780,751 1793.3,750.7 1806.6,749.6 1819.9,747.8 1846.4,742.4 1859.7,738.9 1886.2,729.3 1899.5,723.4 1912.8,716.8 1939.3,700.4 1952.6,690.6 1973.3,672.5 1985.2,660.5 1995.8,648.4 2015.1,624.4 2024.1,612.4 2040.9,588.4 2048.7,576.3 2084.9,516.2 2108.3,480.2 2115.4,468.2 2121.7,456.2 2126.7,444.1 2130.9,432.1 2133.7,420.1 2135.1,408.1 2135.2,396.1 2133.6,384.1 2129,372 2121.7,360 2112.3,348 2100.9,336 2085.3,326.2 2072,320.5 2058.8,317.4 2045.5,315.7 2032.2,314.8 2005.7,314.6 1979.1,316.6 1965.8,318.6 1952.6,321.6 1939.3,325.6 1926,330.9 1916.6,336 1903.5,348 1892.7,360 1883.6,372 1875.3,384.1 1859.7,408.3 1846.4,424.8 1838.9,432.1 1822.7,444.1 1819.9,445.7 1800.6,456.2 1766.8,471.8 1740.2,485.2 1713.7,501.2 1700.4,510.4 1687.1,521.1 1679,528.3 1667,540.3 1656.7,552.3 1648.2,564.3 1640.5,576.3 1634.8,588.4 1629.8,600.4 1626.4,612.4 1624.3,624.4 1623.6,636.4 1624.1,648.4 1626.2,660.5 1630.1,672.5 1636,684.5 1644.1,696.5 1655,708.5 1660.6,713.5 1669.9,720.5 1673.9,723.2 1687.1,730.8 1700.4,736.9 1713.7,741.5 1726,744.6Z"/>
<path stroke="#fee1d4" d="M1764.2,744.6 1780,745.2 1793.3,744.8 1819.9,742.3 1833.1,740.1 1846.4,737 1872.9,728.8 1886.2,723.5 1899.5,717.5 1912.8,710.5 1926,702.7 1939.3,693.6 1951,684.5 1965.8,671.5 1977,660.5 1988,648.4 1997.9,636.4 2015.7,612.4 2040.1,576.3 2072,524.1 2107.9,468.2 2114.2,456.2 2119.8,444.1 2123.7,432.1 2126.6,420.1 2128.3,408.1 2128.6,396.1 2127.1,384.1 2123.6,372 2117,360 2107.9,348 2096.2,336 2085.3,329.1 2072,323.3 2058.8,319.9 2045.5,318 2032.2,316.9 2005.7,316.7 1992.4,317.5 1979.1,319 1965.8,321.4 1952.6,324.8 1939.3,329.1 1925.1,336 1911.2,348 1900.3,360 1890.6,372 1882.4,384.1 1872.9,399.9 1859.9,420.1 1849.4,432.1 1846.4,434.9 1834.8,444.1 1813.6,456.2 1753.5,484.1 1726.9,498.9 1713.7,507.5 1700.4,517.4 1687.4,528.3 1674.9,540.3 1664.1,552.3 1655,564.3 1647.8,576.3 1641.3,588.4 1636.7,600.4 1633.4,612.4 1631.1,624.4 1630.3,636.4 1631.1,648.4 1633.7,660.5 1637.7,672.5 1644,684.5 1652.8,696.5 1664.8,708.5 1673.9,715.6 1687.1,723.9 1700.4,730.3 1713.7,735.4 1726.9,739.3 1740.2,742 1753.5,743.8 1764.2,744.6Z"/>
<path stroke="#fedccd" d="M1722.9,732.5 1740.2,737 1753.5,739.1 1766.8,740.3 1780,740.7 1793.3,740.4 1806.6,739.4 1819.9,737.7 1833.1,735.2 1859.7,728.4 1872.9,723.8 1886.2,718.3 1899.5,712.2 1912.8,705.1 1926,696.7 1939.3,687.6 1957.7,672.5 1970,660.5 1980.9,648.4 1990.7,636.4 1999.9,624.4 2024.4,588.4 2069.4,516.2 2093.6,480.2 2101.1,468.2 2107.9,456.2 2113.3,444.1 2118,432.1 2121,420.1 2122.5,408.1 2122.7,396.1 2121.6,384.1 2118.3,372 2112.4,360 2103.5,348 2091.6,336 2085.3,332 2072,326 2058.8,322.5 2045.5,320.2 2032.2,319 2018.9,318.5 2005.7,318.7 1992.4,319.6 1979.1,321.4 1965.8,324.1 1952.6,327.5 1939.3,332.6 1932.3,336 1926,340.8 1917.7,348 1906.2,360 1896.9,372 1888.7,384.1 1881.3,396.1 1872.9,411.3 1859.7,430.8 1846.4,443.3 1825.4,456.2 1766.8,482.8 1740.2,496.4 1726.9,504.6 1713.7,513.2 1694.4,528.3 1681.5,540.3 1670.6,552.3 1661.5,564.3 1653.6,576.3 1647.7,588.4 1642.6,600.4 1639.1,612.4 1637.1,624.4 1636.5,636.4 1637.3,648.4 1639.9,660.5 1644.5,672.5 1651.3,684.5 1661,696.5 1673.9,708.3 1687.1,717.5 1700.4,724.5 1713.7,729.8 1722.9,732.5Z"/>
<path stroke="#fdd7c6" d="M1742.9,732.5 1753.5,734.5 1766.8,735.9 1780,736.4 1793.3,736.1 1806.6,735 1833.1,730.8 1846.4,727.8 1859.7,723.9 1886.2,713.9 1912.8,700.2 1926,691.8 1939.3,682 1950.8,672.5 1963.5,660.5 1974.7,648.4 1984.6,636.4 2001.7,612.4 2054.2,528.3 2087.2,480.2 2095.1,468.2 2102.1,456.2 2107.9,444.1 2112.2,432.1 2115.7,420.1 2117.5,408.1 2117.8,396.1 2116.4,384.1 2113.1,372 2107.7,360 2099.2,348 2087.1,336 2072,328.7 2058.8,324.9 2045.5,322.5 2032.2,321.1 2018.9,320.5 2005.7,320.7 1992.4,321.8 1979.1,323.8 1965.8,326.4 1952.6,330.3 1939.3,336.1 1923.9,348 1912.2,360 1902.3,372 1894,384.1 1872.9,422.4 1866,432.1 1859.7,439.4 1854.6,444.1 1846.4,449.9 1836.3,456.2 1810.7,468.2 1793.3,475.3 1766.8,487.3 1740.2,501.2 1726.9,509.3 1713.7,518.5 1701.3,528.3 1688,540.3 1676.7,552.3 1667.1,564.3 1659.4,576.3 1652.9,588.4 1648.2,600.4 1644.7,612.4 1642.5,624.4 1641.9,636.4 1643,648.4 1646,660.5 1650.8,672.5 1658.1,684.5 1668.4,696.5 1673.9,701.5 1687.1,711.5 1700.4,719 1713.7,724.8 1726.9,729.1 1742.9,732.5Z"/>
<path stroke="#fdd0bc" d="M1715.6,720.5 1726.9,724.6 1740.2,728 1753.5,730.3 1766.8,731.6 1780,732.1 1793.3,731.9 1806.6,731 1819.9,729.4 1833.1,727 1846.4,723.8 1872.9,715.2 1899.5,703.1 1912.8,695.4 1926,686.9 1944.7,672.5 1957.7,660.5 1968.9,648.4 1987.6,624.4 2003.1,600.4 2038.8,540.3 2054.9,516.2 2081.3,480.2 2089.5,468.2 2096.7,456.2 2102.9,444.1 2107.7,432.1 2110.7,420.1 2112.5,408.1 2112.8,396.1 2111.4,384.1 2108.6,372 2103,360 2094.5,348 2081.9,336 2072,331.3 2058.8,327.1 2045.5,324.6 2032.2,323.1 2018.9,322.5 2005.7,322.8 1992.4,323.9 1979.1,325.7 1965.8,328.6 1952.6,333 1945.7,336 1939.3,340.1 1926,351.1 1917,360 1907.1,372 1891.9,396.1 1886.2,408.2 1873.3,432.1 1863.1,444.1 1859.7,447.1 1846.4,456.3 1821.4,468.2 1780,485.4 1753.5,498.2 1740.2,505.8 1726.9,514 1707.4,528.3 1693.7,540.3 1682.2,552.3 1672.6,564.3 1664.5,576.3 1658.1,588.4 1653.1,600.4 1649.7,612.4 1647.8,624.4 1647.4,636.4 1648.5,648.4 1651.5,660.5 1656.7,672.5 1664.6,684.5 1673.9,694.7 1687.1,705.7 1691.4,708.5 1700.4,713.9 1715.6,720.5Z"/>
<path stroke="#fdcab5" d="M1728.2,720.5 1740.2,723.9 1753.5,726.5 1766.8,728 1780,728.6 1793.3,728.4 1806.6,727.5 1819.9,725.8 1833.1,723.3 1859.7,716.1 1872.9,711.2 1886.2,705.6 1899.5,698.9 1912.8,691.3 1926,682.3 1938.6,672.5 1951.9,660.5 1963.4,648.4 1973.4,636.4 1982.1,624.4 1997.3,600.4 2023.8,552.3 2038.8,528.3 2047.6,516.2 2075.7,480.2 2092,456.2 2098,444.1 2103.2,432.1 2106.7,420.1 2108.5,408.1 2108.8,396.1 2107.5,384.1 2104.2,372 2098.4,360 2089.8,348 2085.3,343.5 2076.4,336 2072,334 2058.8,329.4 2045.5,326.6 2032.2,325 2018.9,324.4 2005.7,324.6 1992.4,325.7 1979.1,327.7 1965.8,330.9 1952.6,335.8 1939.3,344.2 1934.5,348 1921.8,360 1911.9,372 1903.4,384.1 1896.7,396.1 1890.7,408.1 1886.2,418.9 1879.2,432.1 1872.9,441.8 1870.9,444.1 1859.7,453.7 1856.2,456.2 1846.4,461.2 1831.9,468.2 1793.3,483.6 1766.8,495.5 1740.2,509.8 1726.9,518.4 1713.7,528.1 1700.4,539.4 1687.6,552.3 1677.6,564.3 1669.4,576.3 1663,588.4 1658,600.4 1654.4,612.4 1652.4,624.4 1652,636.4 1653.4,648.4 1656.7,660.5 1662.4,672.5 1670.8,684.5 1682.7,696.5 1687.1,700.1 1700.4,708.8 1713.7,715.4 1728.2,720.5Z"/>
<path stroke="#fcc4ad" d="M1743.3,720.5 1753.5,722.7 1766.8,724.4 1780,725.1 1793.3,725 1806.6,724 1819.9,722.2 1846.4,716.6 1859.7,712.5 1872.9,707.5 1886.2,701.9 1899.5,695 1912.8,687.1 1926,678 1933.1,672.5 1946.8,660.5 1958.4,648.4 1968.3,636.4 1977,624.4 1984.8,612.4 1998.1,588.4 2016.1,552.3 2022.7,540.3 2030.6,528.3 2039.8,516.2 2058.8,494.3 2072,478 2079.4,468.2 2087.2,456.2 2094,444.1 2098.8,432.1 2102.7,420.1 2104.7,408.1 2105.1,396.1 2103.6,384.1 2099.9,372 2094.3,360 2085.1,348 2070.7,336 2058.8,331.6 2045.5,328.5 2032.2,326.7 2018.9,326.1 2005.7,326.3 1992.4,327.4 1979.1,329.6 1965.8,333.1 1958.1,336 1952.6,338.9 1939.6,348 1926,360.5 1915.9,372 1907.5,384.1 1900.9,396.1 1895.1,408.1 1885.1,432.1 1877.8,444.1 1872.9,449.6 1865.2,456.2 1859.7,459.5 1842.3,468.2 1793.3,487.3 1766.8,499.2 1740.2,513.8 1726.9,522.5 1719.1,528.3 1704.6,540.3 1692.5,552.3 1682.4,564.3 1674.3,576.3 1667.5,588.4 1662.5,600.4 1659.1,612.4 1657,624.4 1656.7,636.4 1658.3,648.4 1661.9,660.5 1667.8,672.5 1673.9,680.8 1676.8,684.5 1689.7,696.5 1700.4,703.9 1713.7,711 1726.9,716.2 1743.3,720.5Z"/>
<path stroke="#fcbea5" d="M1765.4,720.5 1780,721.6 1793.3,721.5 1806.6,720.5 1819.9,718.9 1833.1,716.5 1846.4,713.3 1872.9,704.1 1886.2,698.2 1899.5,691.3 1910.6,684.5 1927.6,672.5 1941.6,660.5 1953.3,648.4 1963.4,636.4 1972.2,624.4 1986.5,600.4 1998.1,576.3 2005.7,558.2 2014.2,540.3 2021.6,528.3 2031.6,516.2 2058.8,487.7 2072,471.6 2082.9,456.2 2089.9,444.1 2095.2,432.1 2098.6,420.1 2100.9,408.1 2101.3,396.1 2099.7,384.1 2096.2,372 2090.2,360 2080.6,348 2072,340.7 2064.6,336 2058.8,333.9 2045.5,330.4 2032.2,328.5 2018.9,327.7 2005.7,327.9 1992.4,329.2 1979.1,331.5 1964.2,336 1952.6,342.1 1944.2,348 1939.3,351.9 1930.3,360 1926,364.8 1919.7,372 1911.5,384.1 1904.6,396.1 1886.2,441.1 1884.4,444.1 1873.9,456.2 1859.7,464.8 1852.8,468.2 1806.6,485.5 1780,496.5 1753.5,509.7 1740.2,517.7 1724.7,528.3 1709.7,540.3 1697.3,552.3 1687.2,564.3 1678.6,576.3 1672,588.4 1666.8,600.4 1663.4,612.4 1661.5,624.4 1661.3,636.4 1662.9,648.4 1666.7,660.5 1673.2,672.5 1682.7,684.5 1687.1,688.7 1700.4,699.1 1713.7,706.6 1726.9,712.2 1740.2,716.3 1753.5,719 1765.4,720.5Z"/>
<path stroke="#fcb89e" d="M1727.7,708.5 1740.2,712.6 1753.5,715.6 1766.8,717.5 1780,718.3 1793.3,718.3 1806.6,717.5 1819.9,715.8 1833.1,713.4 1846.4,709.9 1859.7,705.8 1872.9,700.8 1886.2,694.7 1899.5,687.7 1912.8,679.3 1926,669.5 1936.6,660.5 1948.7,648.4 1958.9,636.4 1967.5,624.4 1975,612.4 1981.5,600.4 1987.3,588.4 1992.2,576.3 2005.6,540.3 2011.9,528.3 2022,516.2 2045.5,495 2058.8,481.4 2072,465.6 2078.9,456.2 2085.9,444.1 2091.7,432.1 2095.4,420.1 2097.4,408.1 2097.8,396.1 2096.3,384.1 2092.7,372 2086.1,360 2076.1,348 2072,344.6 2058.8,336.1 2045.5,332.3 2032.2,330.2 2018.9,329.3 2005.7,329.6 1992.4,330.9 1979.1,333.5 1970.6,336 1965.8,337.9 1952.6,345.3 1939.3,355.4 1934.3,360 1923.5,372 1915,384.1 1908.2,396.1 1903,408.1 1894.9,432.1 1890.2,444.1 1886.2,450.9 1881.8,456.2 1872.9,462.9 1863.4,468.2 1831.5,480.2 1806.6,489 1793.3,494.3 1780,499.9 1753.5,513.3 1740.2,521.3 1730.1,528.3 1714.8,540.3 1702.1,552.3 1691.5,564.3 1682.9,576.3 1676.2,588.4 1671,600.4 1667.5,612.4 1665.6,624.4 1665.5,636.4 1667.3,648.4 1671.5,660.5 1678.3,672.5 1688.6,684.5 1700.4,694.3 1703.7,696.5 1713.7,702.4 1727.7,708.5Z"/>
<path stroke="#fcb296" d="M1738.8,708.5 1753.5,712.2 1766.8,714.2 1780,715.2 1793.3,715.3 1806.6,714.4 1819.9,712.8 1833.1,710.2 1846.4,706.8 1859.7,702.7 1872.9,697.5 1886.2,691.4 1899.5,684 1912.8,675.6 1931.9,660.5 1944.1,648.4 1954.4,636.4 1963.1,624.4 1970.5,612.4 1976.8,600.4 1982.2,588.4 1986.9,576.3 1990.7,564.3 1997.2,540.3 2001.7,528.3 2011,516.2 2018.9,510.4 2026,504.2 2032.2,500.2 2045.5,489.1 2058.8,476.1 2065.6,468.2 2074.9,456.2 2082.4,444.1 2088.1,432.1 2092.2,420.1 2094.4,408.1 2094.8,396.1 2093.2,384.1 2089.3,372 2082.4,360 2071.5,348 2058.8,339.2 2051.6,336 2045.5,334.3 2032.2,331.9 2018.9,331 2005.7,331.2 1992.4,332.6 1977.1,336 1965.8,340.5 1952.6,348.5 1938.2,360 1927.1,372 1918.3,384.1 1911.9,396.1 1906.5,408.1 1902.7,420.1 1899.5,432.6 1895.7,444.1 1889.3,456.2 1886.2,459.5 1872.9,468.7 1859.7,474 1842.4,480.2 1819.9,487.5 1793.3,497.5 1766.8,509.6 1754.6,516.2 1735.4,528.3 1719.6,540.3 1706.6,552.3 1695.9,564.3 1687.2,576.3 1680.3,588.4 1675.2,600.4 1671.6,612.4 1669.7,624.4 1669.7,636.4 1671.7,648.4 1676.2,660.5 1683.5,672.5 1694.5,684.5 1700.4,689.4 1713.7,698.2 1726.9,704.4 1738.8,708.5Z"/>
<path stroke="#fcab8f" d="M1752.2,708.5 1766.8,711 1780,712.1 1793.3,712.2 1806.6,711.4 1819.9,709.7 1833.1,707.2 1846.4,703.8 1859.7,699.6 1872.9,694.3 1886.2,688.1 1899.5,680.6 1912.8,671.8 1926,661.3 1939.6,648.4 1950,636.4 1958.8,624.4 1966,612.4 1972.3,600.4 1977.4,588.4 1981.7,576.3 1985.1,564.3 1991.4,528.3 1998.5,516.2 2015.3,504.2 2018.9,502.6 2032.2,494 2045.5,483.8 2058.8,471 2071,456.2 2078.9,444.1 2084.7,432.1 2089,420.1 2091.4,408.1 2091.8,396.1 2090.1,384.1 2085.8,372 2078.9,360 2072,352.4 2067.1,348 2058.8,342.2 2044.6,336 2032.2,333.7 2018.9,332.6 2005.7,332.9 1992.4,334.4 1979.1,337.6 1965.8,343.2 1957.7,348 1952.6,351.3 1939.3,362.5 1930.2,372 1921.5,384.1 1915,396.1 1910,408.1 1906.2,420.1 1899.5,449 1896.3,456.2 1886.2,467.1 1884.7,468.2 1872.9,473.6 1854.4,480.2 1819.9,490.9 1793.3,500.7 1766.8,512.8 1753.5,520.2 1740.2,528.6 1726.9,538.3 1713.7,549.8 1700.2,564.3 1691.3,576.3 1684.3,588.4 1679.1,600.4 1675.6,612.4 1673.8,624.4 1673.9,636.4 1676,648.4 1680.8,660.5 1688.6,672.5 1700.3,684.5 1713.7,693.9 1726.9,700.6 1740.2,705.5 1752.2,708.5Z"/>
<path stroke="#fca588" d="M1774.7,708.5 1793.3,709.2 1806.6,708.4 1819.9,706.8 1833.1,704.3 1846.4,700.9 1859.7,696.4 1872.9,691.2 1886.2,684.7 1899.5,677.2 1906.6,672.5 1922.3,660.5 1935.2,648.4 1945.8,636.4 1954.5,624.4 1961.8,612.4 1967.9,600.4 1972.9,588.4 1976.7,576.3 1979.4,564.3 1981,552.3 1981.8,528.3 1985.5,516.2 1992.4,510.3 2001.5,504.2 2005.7,502.7 2018.9,496.7 2025.7,492.2 2032.2,488.9 2045.5,478.9 2058.8,466.3 2067.3,456.2 2075.5,444.1 2081.7,432.1 2085.8,420.1 2088.4,408.1 2088.8,396.1 2086.9,384.1 2082.7,372 2075.3,360 2072,356.4 2062.7,348 2058.8,345.3 2045.5,338.8 2032.2,335.4 2018.9,334.3 2005.7,334.5 1992.4,336.1 1979.1,339.8 1965.8,345.8 1952.6,354.2 1945.4,360 1933.4,372 1924.7,384.1 1917.9,396.1 1913.3,408.1 1909.7,420.1 1905.5,444.1 1902.8,456.2 1899.5,462.7 1894.8,468.2 1886.2,473.4 1872.9,478.5 1833.1,489.9 1806.6,498.6 1780,509.6 1766.8,516.1 1753.5,523.5 1746,528.3 1726.9,542.2 1713.7,554.2 1704.4,564.3 1695.3,576.3 1688.3,588.4 1683,600.4 1679.4,612.4 1677.7,624.4 1677.8,636.4 1680.3,648.4 1685.4,660.5 1693.7,672.5 1700.4,679.3 1706.5,684.5 1713.7,689.6 1726.3,696.5 1740.2,702 1753.5,705.5 1766.8,707.8 1774.7,708.5Z"/>
<path stroke="#fc9d7f" d="M1735.2,696.5 1740.2,698.5 1753.5,702.3 1766.8,704.7 1780,706 1793.3,706.2 1806.6,705.5 1819.9,703.9 1833.1,701.4 1846.4,697.9 1859.7,693.5 1872.9,688.1 1886.2,681.5 1899.5,673.7 1917.7,660.5 1930.8,648.4 1941.5,636.4 1950.3,624.4 1957.7,612.4 1963.6,600.4 1968.4,588.4 1972,576.3 1974.3,564.3 1975.1,552.3 1974.4,540.3 1972.9,528.3 1973.2,516.2 1979.1,508.1 1983.8,504.2 2005.7,496.8 2015.7,492.2 2018.9,491.2 2032.2,484.3 2045.5,474.7 2058.8,462 2063.6,456.2 2072,444.3 2078.8,432.1 2083.1,420.1 2085.4,408.1 2085.8,396.1 2084,384.1 2079.7,372 2071.7,360 2058.8,348.3 2045.5,341.3 2032.2,337.4 2018.9,335.9 2005.7,336.2 1992.4,338.2 1979.1,342.1 1965.8,348.4 1952.6,357 1939.3,369.2 1936.6,372 1927.7,384.1 1920.8,396.1 1916.1,408.1 1913.2,420.1 1911.2,432.1 1908.8,456.2 1904.5,468.2 1899.5,472.9 1884,480.2 1846.4,489.5 1819.9,497.2 1793.3,506.9 1780,512.6 1766.8,519.3 1753.5,526.8 1740.2,535.7 1734,540.3 1720,552.3 1708.5,564.3 1699.4,576.3 1692.2,588.4 1686.9,600.4 1683.3,612.4 1681.5,624.4 1681.8,636.4 1684.5,648.4 1687.1,654.5 1690,660.5 1698.9,672.5 1713.7,685.3 1726.9,692.9 1735.2,696.5Z"/>
<path stroke="#fc9777" d="M1745.1,696.5 1753.5,699 1766.8,701.6 1780,703 1793.3,703.3 1806.6,702.6 1819.9,701 1833.1,698.5 1846.4,695 1859.7,690.5 1872.9,685 1886.2,678.3 1896,672.5 1913,660.5 1926.4,648.4 1937.3,636.4 1946.3,624.4 1953.5,612.4 1959.5,600.4 1964,588.4 1967.4,576.3 1969.3,564.3 1969.4,552.3 1967.6,540.3 1962,516.2 1965,504.2 1979.1,498.5 2001.2,492.2 2005.7,491.3 2018.9,487 2032.2,479.8 2045.5,470.6 2058.8,457.6 2069.1,444.1 2075.8,432.1 2080.4,420.1 2082.8,408.1 2083.2,396.1 2081.4,384.1 2076.7,372 2068.3,360 2058.8,351.4 2053.5,348 2045.5,343.8 2032.2,339.6 2018.9,337.9 2005.7,338.2 1992.4,340.2 1979.1,344.4 1965.8,350.7 1952.6,359.9 1939.7,372 1930.4,384.1 1923.7,396.1 1919,408.1 1916.1,420.1 1914.7,432.1 1914.7,456.2 1913.7,468.2 1912.8,470.4 1902.8,480.2 1886.2,484.7 1859.7,490 1833.1,496.3 1819.9,500.2 1806.6,504.8 1793.3,509.9 1780,515.7 1766.8,522.4 1756.6,528.3 1740.2,539.2 1724.4,552.3 1712.7,564.3 1703.4,576.3 1700.4,581.1 1696.1,588.4 1690.7,600.4 1687.1,612.4 1685.4,624.4 1685.8,636.4 1687.1,642.2 1688.7,648.4 1694.6,660.5 1704.2,672.5 1713.7,680.7 1719.2,684.5 1726.9,689 1740.2,694.9 1745.1,696.5Z"/>
<path stroke="#fc9070" d="M1757.2,696.5 1766.8,698.5 1780,700 1793.3,700.4 1806.6,699.8 1819.9,698.2 1833.1,695.6 1846.4,692.1 1859.7,687.5 1872.9,681.9 1886.2,675.1 1899.5,666.7 1908.1,660.5 1922,648.4 1933.2,636.4 1942.2,624.4 1949.5,612.4 1955.3,600.4 1959.9,588.4 1962.9,576.3 1964.4,564.3 1963.8,552.3 1961.2,540.3 1956.7,528.3 1951.6,516.2 1948,504.2 1952.6,497.5 1965.8,492.8 1992.4,489.9 2005.7,487.3 2018.9,482.8 2032.2,476.3 2045.5,466.7 2058.8,453.5 2066,444.1 2072,433.7 2077.8,420.1 2080.3,408.1 2080.7,396.1 2078.7,384.1 2073.8,372 2064.9,360 2058.8,354.4 2045.5,346.3 2032.2,341.8 2018.9,340 2005.7,340.2 1992.4,342.3 1979.1,346.6 1965.8,353.1 1955.8,360 1942.6,372 1939.3,376.1 1933.1,384.1 1926.6,396.1 1921.8,408.1 1919,420.1 1918,432.1 1918.4,444.1 1920,456.2 1922.2,468.2 1922.3,480.2 1912.8,485.7 1899.5,488.1 1859.7,493.7 1833.1,499.5 1806.6,507.8 1785.7,516.2 1762.1,528.3 1753.5,533.6 1740.2,542.9 1726.9,554.1 1716.9,564.3 1707.4,576.3 1699.9,588.4 1694.5,600.4 1690.9,612.4 1689.2,624.4 1689.8,636.4 1692.9,648.4 1699.2,660.5 1709.6,672.5 1713.7,676 1726.9,685.1 1740.2,691.3 1757.2,696.5Z"/>
<path stroke="#fc8a6a" d="M1775.9,696.5 1793.3,697.5 1806.6,696.9 1819.9,695.3 1833.1,692.7 1846.4,689.1 1859.7,684.6 1872.9,678.8 1886.2,671.8 1899.5,663.2 1917.6,648.4 1929,636.4 1938.1,624.4 1945.5,612.4 1951.3,600.4 1955.7,588.4 1958.6,576.3 1959.7,564.3 1958.6,552.3 1955,540.3 1952.6,534.8 1949.2,528.3 1939.3,512 1931.6,504.2 1926,499.4 1912.8,495.5 1899.5,494.5 1886.2,494.6 1872.9,495.6 1859.7,497.2 1846.4,499.6 1833.1,502.6 1819.9,506.4 1806.6,510.8 1793.3,515.9 1780,521.9 1766.8,528.8 1753.5,536.9 1740.2,546.6 1733.3,552.3 1721.1,564.3 1713.7,573.3 1711.3,576.3 1703.8,588.4 1698.3,600.4 1694.7,612.4 1693.1,624.4 1693.7,636.4 1697.2,648.4 1704,660.5 1715.1,672.5 1726.9,680.9 1733.4,684.5 1740.2,687.7 1753.5,692.3 1766.8,695.3 1775.9,696.5ZM1941.5,480.2 1952.6,485.2 1965.8,486.7 1979.1,486.8 1992.4,485.8 2005.7,483.3 2018.9,479 2032.2,472.7 2045.5,463.2 2052.8,456.2 2058.8,449.6 2062.9,444.1 2070.2,432.1 2075.1,420.1 2077.8,408.1 2078.2,396.1 2076.1,384.1 2070.9,372 2061.5,360 2058.8,357.5 2045.5,348.8 2032.2,344 2018.9,342 2005.7,342.1 1992.4,344.4 1979.1,348.8 1965.8,355.5 1952.6,365.3 1945.4,372 1939.3,379.6 1935.8,384.1 1929.1,396.1 1924.6,408.1 1922,420.1 1921.3,432.1 1922.4,444.1 1926,458.3 1930.5,468.2 1939.3,479.1 1941.5,480.2Z"/>
<path stroke="#fc8464" d="M1741.4,684.5 1753.5,688.9 1766.8,692.1 1780,693.9 1793.3,694.5 1806.6,694 1819.9,692.4 1833.1,689.8 1846.4,686.2 1859.7,681.5 1872.9,675.6 1886.2,668.4 1899.5,659.6 1912.8,648.8 1924.8,636.4 1934,624.4 1941.5,612.4 1947.3,600.4 1951.6,588.4 1954.3,576.3 1955,564.3 1953.3,552.3 1948.9,540.3 1939.3,524.5 1932,516.2 1926,510.5 1912.8,503.6 1899.5,500.3 1886.2,499.3 1872.9,499.6 1859.7,500.8 1846.4,502.9 1833.1,505.8 1819.9,509.4 1806.6,513.8 1793.3,519 1780,525 1766.8,532.1 1753.5,540.3 1740.2,550.3 1725.3,564.3 1713.7,578.9 1707.7,588.4 1702.1,600.4 1698.4,612.4 1696.9,624.4 1697.7,636.4 1701.4,648.4 1708.9,660.5 1713.7,665.8 1721.1,672.5 1726.9,676.6 1741.4,684.5ZM1963.2,480.2 1965.8,480.8 1979.1,482.1 1992.4,481.6 2005.7,479.5 2018.9,475.9 2032.2,469.2 2045.5,459.7 2058.8,445.6 2067.5,432.1 2072.5,420.1 2075.3,408.1 2075.7,396.1 2073.4,384.1 2068.1,372 2058.8,360.6 2045.5,351.3 2037.3,348 2032.2,346.2 2018.9,344 2005.7,344.1 1992.4,346.4 1979.1,350.9 1965.8,357.8 1952.6,368 1948.3,372 1938.5,384.1 1931.6,396.1 1927.2,408.1 1924.9,420.1 1924.5,432.1 1926.3,444.1 1930.4,456.2 1939.3,469.1 1952.6,477.7 1963.2,480.2Z"/>
<path stroke="#fb7d5d" d="M1750.8,684.5 1766.8,688.8 1780,690.8 1793.3,691.5 1806.6,691 1819.9,689.5 1833.1,686.9 1842.2,684.5 1859.7,678.4 1872.9,672.5 1886.2,665 1899.5,655.8 1908.5,648.4 1920.4,636.4 1930,624.4 1937.4,612.4 1943.3,600.4 1947.5,588.4 1950,576.3 1950.4,564.3 1948.2,552.3 1942.9,540.3 1939.3,534.6 1934.4,528.3 1926,519.4 1921.8,516.2 1912.8,510.5 1899.5,506 1886.2,503.9 1872.9,503.6 1859.7,504.4 1846.4,506.3 1833.1,509 1819.9,512.5 1806.6,516.8 1793.3,522.1 1780,528.1 1758.9,540.3 1742.5,552.3 1729.6,564.3 1726.9,567.3 1719.5,576.3 1713.7,585.1 1711.6,588.4 1706,600.4 1702.3,612.4 1700.7,624.4 1701.7,636.4 1705.9,648.4 1713.8,660.5 1727.1,672.5 1740.2,680 1750.8,684.5ZM1946.7,468.2 1952.6,472.2 1965.8,476.6 1979.1,478.3 1992.4,478.2 2005.7,476.6 2018.9,472.7 2032.2,466.1 2045.6,456.2 2056.9,444.1 2064.9,432.1 2070,420.1 2072.8,408.1 2073.2,396.1 2070.9,384.1 2065.3,372 2058.8,364 2054.5,360 2045.5,353.8 2032.2,348.4 2018.9,346.1 2005.7,346.1 1992.4,348.5 1979.1,352.9 1965.8,360.2 1951.2,372 1941.1,384.1 1934,396.1 1929.7,408.1 1927.6,420.1 1927.6,432.1 1929.9,444.1 1935.3,456.2 1939.3,461.8 1946.7,468.2Z"/>
<path stroke="#fb7757" d="M1762.6,684.5 1766.8,685.6 1780,687.6 1793.3,688.4 1806.6,688 1819.9,686.6 1833.1,684 1846.4,680.2 1859.7,675.3 1872.9,669.1 1886.2,661.6 1899.5,651.9 1903.8,648.4 1916.1,636.4 1925.8,624.4 1933.4,612.4 1939.3,600.4 1943.5,588.4 1945.8,576.3 1945.9,564.3 1943,552.3 1939.3,544.6 1936.8,540.3 1927,528.3 1912.8,517.2 1899.5,511.4 1886.2,508.5 1872.9,507.6 1859.7,508 1846.4,509.6 1833.1,512.2 1819.9,515.5 1806.6,520 1786.4,528.3 1764.2,540.3 1747.4,552.3 1740.2,558.5 1734.1,564.3 1723.6,576.3 1715.7,588.4 1713.7,592.3 1709.9,600.4 1706.2,612.4 1704.7,624.4 1705.9,636.4 1710.4,648.4 1713.7,653.5 1719.2,660.5 1726.9,667.5 1734,672.5 1740.2,676 1753.5,681.8 1762.6,684.5ZM1955.3,468.2 1965.8,472.6 1979.1,475 1992.4,475.2 2005.7,473.6 2018.9,469.6 2032.2,463.2 2045.5,453.1 2053.9,444.1 2062.2,432.1 2067.7,420.1 2070.5,408.1 2070.8,396.1 2068.4,384.1 2062.5,372 2058.8,367.5 2050.9,360 2045.5,356.3 2032.2,350.6 2018.9,348.1 2005.7,348.1 1992.4,350.4 1979.1,355 1965.8,362.5 1954,372 1943.6,384.1 1936.5,396.1 1932.1,408.1 1930.2,420.1 1930.5,432.1 1933.5,444.1 1939.3,454.8 1940.3,456.2 1952.6,467 1955.3,468.2Z"/>
<path stroke="#fb7151" d="M1780,684.5 1793.3,685.4 1806.6,685.1 1819.9,683.6 1833.1,680.8 1846.4,677.1 1859.7,672.2 1872.9,665.7 1882.2,660.5 1899.5,648 1912.8,635.2 1921.5,624.4 1929.3,612.4 1935.2,600.4 1939.4,588.4 1941.6,576.3 1941.4,564.3 1937.9,552.3 1930.6,540.3 1926,534.8 1918.9,528.3 1912.8,523.5 1899.5,516.7 1886.2,513.1 1872.9,511.6 1859.7,511.7 1846.4,513 1833.1,515.3 1819.9,518.8 1806.6,523.1 1793.3,528.2 1780,534.7 1769.9,540.3 1752.2,552.3 1738.5,564.3 1727.8,576.3 1719.8,588.4 1713.7,600.5 1710,612.4 1708.7,624.4 1710.1,636.4 1715,648.4 1724.6,660.5 1726.9,662.5 1740.2,672 1753.5,678 1766.8,682 1780,684.5ZM1964.7,468.2 1979.1,471.7 1992.4,472.2 2005.7,470.6 2018.9,466.7 2032.2,460.3 2045.5,449.9 2050.9,444.1 2059.6,432.1 2065.3,420.1 2068.2,408.1 2068.6,396.1 2066,384.1 2059.7,372 2047.3,360 2045.5,358.8 2032.2,352.7 2018.9,350 2005.7,350 1992.4,352.3 1979.1,357.1 1965.8,364.7 1956.8,372 1946,384.1 1939,396.1 1934.6,408.1 1932.7,420.1 1933.4,432.1 1937.1,444.1 1939.3,448.2 1945.3,456.2 1952.6,462.6 1964.7,468.2Z"/>
<path stroke="#fb694a" d="M1749.6,672.5 1753.5,674.2 1766.8,678.4 1780,681 1793.3,682.1 1806.6,681.8 1819.9,680.3 1833.1,677.7 1850.6,672.5 1859.7,668.8 1876.3,660.5 1886.2,654 1893.8,648.4 1906.9,636.4 1912.8,629.8 1917.2,624.4 1925.1,612.4 1931.1,600.4 1935.3,588.4 1937.4,576.3 1936.7,564.3 1932.5,552.3 1924.2,540.3 1912.8,529.8 1910.4,528.3 1899.5,522.1 1886.2,517.7 1872.9,515.6 1859.7,515.3 1846.4,516.4 1833.1,518.7 1819.9,522.1 1806.6,526.3 1793.3,531.7 1780,538.1 1766.8,546 1757.5,552.3 1743.3,564.3 1732.3,576.3 1723.9,588.4 1717.9,600.4 1714,612.4 1712.7,624.4 1714.3,636.4 1720,648.4 1726.9,656.9 1730.6,660.5 1740.2,667.4 1749.6,672.5ZM1978.2,468.2 1992.4,469.2 2005.7,467.7 2018.9,464.1 2032.2,457.3 2045.5,446.7 2047.9,444.1 2057,432.1 2062.9,420.1 2066,408.1 2066.3,396.1 2063.6,384.1 2056.9,372 2045.5,361.4 2032.2,354.8 2018.9,351.9 2005.7,351.8 1992.4,354.2 1979.1,359.1 1965.8,367 1959.6,372 1948.5,384.1 1941.3,396.1 1937,408.1 1935.3,420.1 1936.3,432.1 1940.7,444.1 1950.2,456.2 1952.6,458.2 1965.8,465.3 1978.2,468.2Z"/>
<path stroke="#f96245" d="M1759.6,672.5 1766.8,674.8 1780,677.4 1793.3,678.7 1806.6,678.5 1819.9,677.1 1833.1,674.6 1846.4,670.7 1859.7,665.3 1869.8,660.5 1888.5,648.4 1902.2,636.4 1912.8,624.4 1920.8,612.4 1926,602.3 1931.1,588.4 1933,576.3 1932,564.3 1927.2,552.3 1926,550.6 1917.3,540.3 1912.8,536.1 1899.5,527.5 1886.2,522.5 1872.9,519.9 1859.7,519.2 1846.4,520.1 1833.1,522.2 1819.9,525.4 1806.6,529.6 1793.3,535.1 1780,541.6 1763,552.3 1748.2,564.3 1740.2,572.5 1736.8,576.3 1728.1,588.4 1722,600.4 1718.2,612.4 1716.9,624.4 1718.9,636.4 1725,648.4 1726.9,650.8 1737,660.5 1740.2,662.8 1753.5,670.1 1759.6,672.5ZM1955.5,456.2 1965.8,462.1 1979.1,465.7 1992.4,466.6 2005.7,465.3 2018.9,461.5 2032.2,454.6 2045.5,443.6 2054.5,432.1 2060.6,420.1 2063.7,408.1 2064,396.1 2061.1,384.1 2054,372 2045.5,364.1 2038.7,360 2032.2,356.9 2018.9,353.9 2005.7,353.7 1992.4,356.1 1979.1,361.2 1965.8,369.3 1962.5,372 1952.6,382.2 1951,384.1 1943.6,396.1 1939.4,408.1 1937.8,420.1 1939.2,432.1 1944.2,444.1 1952.6,454 1955.5,456.2Z"/>
<path stroke="#f75b40" d="M1773,672.5 1780,673.9 1793.3,675.2 1806.6,675.2 1819.9,673.9 1827.3,672.5 1833.1,671.2 1846.4,667.1 1862.6,660.5 1872.9,654.7 1882.7,648.4 1897.1,636.4 1908,624.4 1916.4,612.4 1922.6,600.4 1927,588.4 1928.7,576.3 1927.3,564.3 1921.3,552.3 1912.8,542.5 1899.5,533 1886.2,527.2 1872.9,524.2 1859.7,523.2 1846.4,523.8 1833.1,525.7 1821.6,528.3 1806.6,533.2 1789.7,540.3 1768.7,552.3 1753.2,564.3 1740.2,577.9 1732.7,588.4 1726.9,598.8 1722.4,612.4 1721.3,624.4 1723.6,636.4 1726.9,643 1730.5,648.4 1740.2,657.7 1744.1,660.5 1753.5,665.7 1766.8,670.9 1773,672.5ZM1961.2,456.2 1965.8,458.9 1979.1,463 1992.4,464.1 2005.7,462.9 2018.9,459 2032.2,451.9 2041.7,444.1 2045.5,440.3 2051.9,432.1 2058.2,420.1 2061.5,408.1 2061.8,396.1 2058.7,384.1 2051.1,372 2045.5,366.8 2032.2,359.1 2018.9,355.8 2005.7,355.5 1992.4,358 1979.1,363.2 1965.8,371.6 1953.5,384.1 1945.9,396.1 1941.7,408.1 1940.3,420.1 1942.1,432.1 1947.8,444.1 1952.6,449.8 1961.2,456.2Z"/>
<path stroke="#f5533b" d="M1752,660.5 1766.8,666.6 1780,670 1793.3,671.7 1806.6,671.7 1819.9,670.3 1833.1,667.5 1846.4,663.5 1859.7,658 1876.4,648.4 1891.7,636.4 1903.1,624.4 1912.8,610.9 1918.2,600.4 1922.6,588.4 1924.2,576.3 1922.2,564.3 1915.4,552.3 1912.8,549.3 1901.9,540.3 1899.5,538.6 1886.2,532.3 1872.9,528.6 1859.7,527.2 1846.4,527.5 1840.3,528.3 1833.1,529.3 1819.9,532.5 1806.6,536.8 1797.8,540.3 1780,549.4 1766.8,558.2 1758.9,564.3 1753.5,569.2 1746.6,576.3 1740.2,584.3 1737.3,588.4 1730.7,600.4 1726.6,612.4 1725.6,624.4 1728.4,636.4 1736.4,648.4 1740.2,652.1 1752,660.5ZM1967.2,456.2 1979.1,460.3 1992.4,461.6 2005.7,460.4 2018.9,456.4 2032.2,449.2 2038.4,444.1 2045.5,437 2049.3,432.1 2055.9,420.1 2059.2,408.1 2059.5,396.1 2056.2,384.1 2048.2,372 2045.5,369.5 2032.2,361.3 2018.9,357.7 2005.7,357.4 1992.4,359.9 1979.1,365.2 1968.4,372 1965.8,374.1 1955.9,384.1 1948.2,396.1 1944,408.1 1942.8,420.1 1944.9,432.1 1951.3,444.1 1952.6,445.6 1965.8,455.6 1967.2,456.2Z"/>
<path stroke="#f34c37" d="M1762.2,660.5 1766.8,662.3 1780,665.8 1793.3,667.6 1806.6,667.7 1819.9,666.4 1833.1,663.8 1846.4,659.8 1859.7,653.8 1869.5,648.4 1886.2,636.4 1899.5,622.7 1907,612.4 1912.8,602.4 1918.1,588.4 1919.5,576.3 1916.9,564.3 1912.8,557.3 1908.7,552.3 1899.5,544.5 1892.1,540.3 1886.2,537.4 1872.9,533.4 1859.7,531.6 1846.4,531.7 1833.1,533.4 1819.9,536.4 1806.6,540.5 1793.3,546.5 1782,552.3 1766.8,562.6 1753.5,574.5 1742.1,588.4 1735.4,600.4 1731.3,612.4 1730.4,624.4 1733.8,636.4 1740.2,645.7 1742.8,648.4 1753.5,656.1 1762.2,660.5ZM1975,456.2 1979.1,457.6 1992.4,459.2 2005.7,458 2018.9,454 2032.2,446.6 2035.2,444.1 2046.8,432.1 2053.6,420.1 2057,408.1 2057.2,396.1 2053.8,384.1 2045.3,372 2032.2,363.5 2020.4,360 2005.7,359.3 1992.4,361.8 1979.1,367.2 1971.6,372 1965.8,376.6 1958.4,384.1 1950.5,396.1 1946.3,408.1 1945.2,420.1 1947.7,432.1 1952.6,440.9 1955.1,444.1 1965.8,452.6 1975,456.2Z"/>
<path stroke="#f14432" d="M1775.7,660.5 1780,661.6 1793.3,663.5 1806.6,663.7 1819.9,662.5 1833.1,659.9 1846.4,655.4 1861.8,648.4 1872.9,641.3 1879.5,636.4 1886.2,630.6 1892.3,624.4 1902,612.4 1909,600.4 1913.6,588.4 1914.7,576.3 1911.4,564.3 1901.5,552.3 1899.5,550.6 1886.2,542.8 1879.4,540.3 1872.9,538.2 1859.7,536.2 1846.4,536 1833.1,537.4 1819.6,540.3 1806.6,544.9 1793.3,550.6 1780,558.3 1766.8,567.8 1757.5,576.3 1753.5,580.7 1747.4,588.4 1740,600.4 1736.1,612.4 1735.4,624.4 1739.2,636.4 1750.3,648.4 1753.5,650.8 1766.8,657.5 1775.7,660.5ZM1988.2,456.2 1992.4,456.7 2005.7,455.6 2018.9,451.6 2032.2,443.9 2044.1,432.1 2051.3,420.1 2054.8,408.1 2055,396.1 2051.3,384.1 2045.5,375.8 2041.8,372 2032.2,365.8 2018.9,361.7 2005.7,361.2 1992.4,363.7 1979.1,369.3 1974.7,372 1965.8,379.1 1960.9,384.1 1952.8,396.1 1948.5,408.1 1947.6,420.1 1950.5,432.1 1952.6,435.9 1959,444.1 1965.8,449.5 1979.1,454.9 1988.2,456.2Z"/>
<path stroke="#f03d2d" d="M1759.1,648.4 1766.8,652.4 1780,656.8 1793.3,659.1 1806.6,659.5 1819.9,658.2 1833.1,655.3 1846.4,650.9 1859.7,644.6 1872.9,636.4 1886.2,624.8 1896.6,612.4 1904,600.4 1908.5,588.4 1909.5,576.3 1905.1,564.3 1899.5,557.7 1892.7,552.3 1886.2,548.4 1872.9,543.4 1859.7,540.8 1846.4,540.3 1833.1,541.8 1819.9,544.9 1806.6,549.3 1793.3,555.3 1778.2,564.3 1763.6,576.3 1752.7,588.4 1745.4,600.4 1740.9,612.4 1740.5,624.4 1745.7,636.4 1753.5,644.5 1759.1,648.4ZM1963,444.1 1965.8,446.4 1979.1,452.4 1992.4,454.4 2005.7,453.3 2018.9,449.2 2032.2,441.2 2041.3,432.1 2045.5,426.1 2049,420.1 2052.6,408.1 2052.7,396.1 2048.8,384.1 2045.5,379.3 2038.3,372 2032.2,368.1 2018.9,363.7 2005.7,363.1 1992.4,365.6 1979.1,371.3 1965.8,381.6 1963.4,384.1 1955.1,396.1 1950.8,408.1 1950.1,420.1 1953.4,432.1 1963,444.1Z"/>
<path stroke="#eb372a" d="M1770.4,648.4 1780,651.7 1793.3,654 1806.6,654.5 1819.9,653.3 1833.1,650.6 1846.4,646 1859.7,639.3 1872.9,630.3 1879.7,624.4 1886.2,617.9 1890.8,612.4 1898.9,600.4 1903.4,588.4 1903.9,576.3 1899.5,565.8 1898.6,564.3 1886.2,554.4 1881.9,552.3 1872.9,548.8 1859.7,546.1 1846.4,545.5 1833.1,546.7 1819.9,549.6 1806.6,554 1793.3,560.4 1780,568.7 1770.4,576.3 1758.9,588.4 1753.5,596 1750.8,600.4 1746.6,612.4 1746.6,624.4 1752.5,636.4 1766.8,646.8 1770.4,648.4ZM1967.3,444.1 1979.1,449.9 1992.4,452.1 2005.7,451.1 2018.9,446.9 2032.2,438.4 2038.5,432.1 2046.6,420.1 2050.4,408.1 2050.4,396.1 2046.4,384.1 2045.5,382.8 2034.8,372 2032.2,370.4 2018.9,365.7 2005.7,365 1992.4,367.5 1979.1,373.5 1965.9,384.1 1957.5,396.1 1953.1,408.1 1952.5,420.1 1956.4,432.1 1965.8,443.2 1967.3,444.1Z"/>
<path stroke="#e53228" d="M1790.4,648.4 1793.3,649 1806.6,649.5 1819.9,648.5 1833.1,645.3 1846.4,640.4 1859.7,633.5 1872.6,624.4 1886.2,610.4 1892.9,600.4 1897.9,588.4 1898,576.3 1890.3,564.3 1886.2,561.1 1872.9,554.5 1859.7,551.3 1846.4,550.6 1833.1,551.7 1819.9,554.7 1806.6,559.5 1793.3,565.9 1780,574.7 1765.3,588.4 1756.9,600.4 1753.5,608.9 1752.3,612.4 1752.8,624.4 1761.4,636.4 1766.8,640.3 1780,646.1 1790.4,648.4ZM1972.6,444.1 1979.1,447.3 1992.4,449.8 2005.7,448.8 2018.9,444.5 2032.2,435.6 2035.7,432.1 2044.2,420.1 2045.5,416.6 2048.1,408.1 2048.2,396.1 2043.6,384.1 2032.2,372.8 2018.9,367.7 2005.7,366.9 1992.4,369.4 1979.1,375.8 1968.7,384.1 1965.8,387.5 1959.8,396.1 1955.5,408.1 1955.1,420.1 1959.5,432.1 1965.8,439.6 1972.6,444.1Z"/>
<path stroke="#de2b25" d="M1772.6,636.4 1780,639.8 1793.3,642.9 1806.6,643.6 1819.9,642.4 1833.1,639.4 1841.6,636.4 1846.4,634.4 1859.7,627.1 1872.9,616.8 1877.3,612.4 1886.9,600.4 1891.6,588.4 1890.8,576.3 1886.2,569.7 1879.9,564.3 1872.9,560.8 1859.7,557.3 1846.4,556.3 1833.1,557.5 1819.9,560.5 1806.6,565.1 1793.3,572.2 1787,576.3 1780,581.7 1772.9,588.4 1766.8,595.7 1763.6,600.4 1759.1,612.4 1760.6,624.4 1766.8,632.2 1772.6,636.4ZM1977.9,444.1 1979.1,444.8 1992.4,447.5 2005.7,446.6 2018.9,442 2033,432.1 2041.7,420.1 2045.5,409.5 2045.9,408.1 2045.9,396.1 2040.7,384.1 2032.2,375.6 2025.3,372 2018.9,369.7 2005.7,368.8 1992.4,371.3 1979.1,378.1 1971.6,384.1 1965.8,390.8 1962.2,396.1 1957.8,408.1 1957.7,420.1 1962.5,432.1 1965.8,436 1977.9,444.1Z"/>
<path stroke="#d92523" d="M1792.3,636.4 1806.6,637.5 1819,636.4 1833.1,632.9 1846.4,627.7 1852.4,624.4 1859.7,619.9 1869.1,612.4 1872.9,608.6 1879.5,600.4 1884.9,588.4 1882.5,576.3 1872.9,568.1 1859.7,563.3 1846.4,562.3 1833.1,563.4 1819.9,566.6 1806.6,571.8 1797.8,576.3 1793.3,579.1 1780,589.5 1771.2,600.4 1766.3,612.4 1766.8,614.8 1769.6,624.4 1780,632.2 1792.3,636.4ZM1987.5,444.1 1992.4,445.2 2005.7,444.3 2018.9,439.5 2029.6,432.1 2032.2,429.6 2039.1,420.1 2043.5,408.1 2043.4,396.1 2037.8,384.1 2032.2,378.5 2018.9,371.7 2005.7,370.7 1992.4,373.4 1979.1,380.3 1974.5,384.1 1964.5,396.1 1960.2,408.1 1960.3,420.1 1965.6,432.1 1979.1,442 1987.5,444.1Z"/>
<path stroke="#d32020" d="M1782.7,624.4 1793.3,628.6 1806.6,630 1819.9,628.9 1833.1,625.8 1846.4,620.1 1859.7,612.2 1871.5,600.4 1876.3,588.4 1872.9,578 1871.8,576.3 1859.7,570.9 1846.4,569.2 1833.1,570.3 1819.9,573.6 1806.6,579.1 1791.6,588.4 1779.8,600.4 1776,612.4 1780,621.6 1782.7,624.4ZM1969.5,432.1 1979.1,439.1 1992.4,442.7 2005.7,441.9 2018.9,437 2026,432.1 2032.2,426.1 2036.6,420.1 2041,408.1 2040.8,396.1 2034.9,384.1 2032.2,381.4 2018.9,374.2 2005.7,372.7 1992.4,375.6 1979.1,382.6 1977.3,384.1 1967,396.1 1962.6,408.1 1962.9,420.1 1965.8,426.8 1969.5,432.1Z"/>
<path stroke="#ce1a1e" d="M1789.1,612.4 1793.3,616.7 1806.6,621.1 1819.9,620.4 1833.1,617.1 1846.4,611.7 1859.7,601.5 1860.8,600.4 1865,588.4 1859.7,581.6 1846.4,576.9 1833.1,578.1 1819.9,582 1805.5,588.4 1793.3,598.7 1791.7,600.4 1789.1,612.4ZM1973.5,432.1 1979.1,436.2 1992.4,440.2 2005.7,439.5 2018.9,434.5 2022.4,432.1 2032.2,422.6 2034,420.1 2038.6,408.1 2038.2,396.1 2031.9,384.1 2018.9,376.6 2005.7,374.9 1992.4,377.8 1979.1,385.3 1969.8,396.1 1965,408.1 1965.5,420.1 1973.5,432.1Z"/>
<path stroke="#c8171c" d="M1813.4,600.4 1819.9,605.3 1833.1,603.8 1840.9,600.4 1833.1,590.7 1819.9,596.4 1813.4,600.4ZM1977.4,432.1 1979.1,433.4 1992.4,437.7 2005.7,437.1 2018.9,432 2031.3,420.1 2036.1,408.1 2035.6,396.1 2032.2,389.4 2027.6,384.1 2018.9,379.1 2005.7,377.2 1992.4,380 1984.8,384.1 1979.1,388.5 1972.6,396.1 1967.7,408.1 1968.6,420.1 1977.4,432.1Z"/>
<path stroke="#c2161b" d="M1983.4,432.1 1992.4,435.2 2005.7,434.7 2012.4,432.1 2018.9,428.8 2027.9,420.1 2032.2,411.8 2033.6,408.1 2033,396.1 2032.2,394.5 2023.3,384.1 2018.9,381.6 2005.7,379.5 1992.4,382.2 1989,384.1 1979.1,391.7 1975.4,396.1 1970.5,408.1 1971.9,420.1 1979.1,429.7 1983.4,432.1Z"/>
<path stroke="#bc141a" d="M1990.9,432.1 1992.4,432.6 2005.7,432.3 2018.9,425.5 2024.6,420.1 2030.7,408.1 2029.7,396.1 2018.9,384.1 2005.7,381.7 1994.4,384.1 1992.4,384.7 1978.1,396.1 1973.4,408.1 1975.1,420.1 1979.1,425.4 1990.9,432.1Z"/>
<path stroke="#b61319" d="M1978.4,420.1 1979.1,421.1 1992.4,429.3 2005.7,429 2018.9,422.3 2021.2,420.1 2027.4,408.1 2026,396.1 2018.9,388.2 2005.4,384.1 1992.4,387.9 1981.8,396.1 1979.1,400.9 1976.3,408.1 1978.4,420.1Z"/>
<path stroke="#af1117" d="M1983.5,420.1 1992.4,425.7 2005.7,425.8 2016.9,420.1 2018.9,418 2024,408.1 2022.4,396.1 2018.9,392.3 2005.7,387.5 1992.4,391.2 1986.1,396.1 1979.3,408.1 1983.5,420.1Z"/>
<path stroke="#a91016" d="M1989.2,420.1 1992.4,422.1 2005.7,422.5 2010.4,420.1 2018.9,411.4 2020.6,408.1 2018.9,397.5 2018.3,396.1 2005.7,391.1 1992.4,394.5 1990.3,396.1 1984,408.1 1989.2,420.1Z"/>
<path stroke="#a10e15" d="M1988.7,408.1 1992.4,415.9 2005.7,418.2 2015.3,408.1 2009.4,396.1 2005.7,394.6 1999.7,396.1 1992.4,400.8 1988.7,408.1Z"/>
<path stroke="#980c13" d="M1997.5,408.1 2005.7,410.7 2008.1,408.1 2005.7,403.7 1997.5,408.1Z"/></g>
</g>
<rect x="1368.6" y="119.7" width="955.6" height="865.2" fill="none" stroke="#808080" stroke-width="4.8"/>
<text x="1368.6" y="1055.1" font-size="42.7" text-anchor="middle">−6</text>
<text x="1330.7" y="1001.6" font-size="42.7" text-anchor="end">−6</text>
<text x="1527.9" y="1055.1" font-size="42.7" text-anchor="middle">−4</text>
<text x="1330.7" y="857.4" font-size="42.7" text-anchor="end">−4</text>
<text x="1687.1" y="1055.1" font-size="42.7" text-anchor="middle">−2</text>
<text x="1330.7" y="713.2" font-size="42.7" text-anchor="end">−2</text>
<text x="1846.4" y="1055.1" font-size="42.7" text-anchor="middle">0</text>
<text x="1330.7" y="569.0" font-size="42.7" text-anchor="end">0</text>
<text x="2005.7" y="1055.1" font-size="42.7" text-anchor="middle">2</text>
<text x="1330.7" y="424.8" font-size="42.7" text-anchor="end">2</text>
<text x="2164.9" y="1055.1" font-size="42.7" text-anchor="middle">4</text>
<text x="1330.7" y="280.6" font-size="42.7" text-anchor="end">4</text>
<text x="2324.2" y="1055.1" font-size="42.7" text-anchor="middle">6</text>
<text x="1330.7" y="136.4" font-size="42.7" text-anchor="end">6</text>
<text class="m" x="1848.9" y="1132.3" font-size="68.0" text-anchor="middle"><tspan class="i">x</tspan><tspan font-size="47.6" dx="5.8" dy="11.0">1</tspan></text>
<text x="1844.9" y="96.7" font-size="93.7" text-anchor="middle">MSE-Estimator</text>
<g clip-path="url(#c2)">
<g fill="none" stroke-width="4.60" stroke-linejoin="round"><path stroke="#fff5f0" d="M3346,984.9 3364.4,960.9 3379.2,943.6 3392.5,929.3 3405.7,916.1 3419,904.2 3423.9,900.8 3432.3,893.8 3442,888.8 3445.6,886.3 3458.8,882.7 3472.1,884.9M3472.1,825.4 3458.8,827.7 3445.6,825.8 3432.3,820.1 3427.2,816.7 3419,812.4 3370.6,780.6 3351,768.6 3326.1,754.9 3299.6,742.7 3286.3,737.6 3273,733.3 3259.7,729.7 3246.5,726.8 3233.2,724.6 3206.7,721.1 3193.4,712.2 3186.4,696.5 3180.1,678.8 3175,648.4 3172.4,636.4 3168.6,624.4 3166.8,620.9 3163,600.4 3160.1,588.4 3155.1,576.3 3153.6,573.9 3148.8,552.3 3153.6,542.6 3156.1,540.3 3166.8,523.4 3174.3,516.2 3180.1,513.2 3193.4,507.9 3200.3,504.2 3206.7,502.4 3219.9,496.9 3227.1,492.2 3233.2,489 3246.5,479 3259.7,472.2 3286.3,477.7 3299.6,479.3 3312.8,480 3326.1,480 3352.7,478 3379.2,474.2 3432.3,465.2 3458.8,462.1 3472.1,461.3M2516.5,605.5 2518.4,624.4 2520.1,636.4 2524.9,660.5 2528.3,672.5 2532.2,684.5 2536.8,696.5 2542.2,708.5 2548.2,720.5 2555,732.5 2569.6,754.9 2579.8,768.6 2589.6,780.6 2600.2,792.6 2622.7,815.4 2635.9,827.4 2649.2,838.5 2662.5,848.7 2675.8,858.1 2689,866.7 2702.3,874.6 2715.6,881.8 2728.9,888.1 2742.1,894 2755.4,899 2781.9,907.5 2808.5,914 2835,919.2 2901.4,930.6 2927.9,936.7 2941.2,940.5 2954.5,945 2967.8,950.2 2989.9,960.9 3009.6,972.9 3025.6,984.9M2848.3,456.3 2835,455.4 2821.8,450 2814.6,444.1 2810.2,432.1 2810.6,420.1 2813.6,408.1 2818.1,396.1 2823.9,384.1 2835,364.5 2853.2,336 2874.8,300.8 2875.6,300 2888.1,294.3 2901.4,297.6 2941.2,298.9 2945.3,300 2954.5,306.8 2972.5,312 2981,316.9 3002,324 2994.3,330.2 2988.5,336 2981,342.6 2967.8,355.7 2931.4,396.1 2914.7,415.8 2899.2,432.1 2888.1,441.7 2874.8,449.4 2861.6,454.2 2848.3,456.3ZM2861.6,199.8 2858.3,191.8 2861.6,189.9 2862,191.8 2861.6,199.8ZM2848.5,119.7 2852.5,143.7 2851.1,167.8 2848.3,178.9 2821.8,136 2812.3,119.7"/>
<path stroke="#fff0e9" d="M3158.5,888.8 3166.8,892.2 3180.1,894.5 3193.4,892.5 3200.1,888.8 3206.7,879.4 3207.7,876.8 3204.6,864.7 3193.4,855 3189.2,852.7 3180.1,850 3166.8,848.6 3153.6,850.1 3146,852.7 3140.3,859.5 3137.9,864.7 3143.2,876.8 3153.6,885.6 3158.5,888.8ZM2620.5,420.1 2622.7,422.3 2635.9,430.1 2649.2,431.9 2662.5,426.6 2669.1,420.1 2675.8,414.5 2689,398.5 2702.3,380.2 2715.6,359.6 2722.1,348 2728.9,335.5 2734,324 2738.8,312 2742.6,300 2745.1,287.9 2746.6,275.9 2746.8,263.9 2745.8,251.9 2743.5,239.9 2739.8,227.9 2734.9,215.8 2728.9,203.9 2715.6,184.1 2702.3,168.6 2688.5,155.8 2675.8,146.3 2662.5,139 2649.2,134.3 2635.9,132.6 2622.7,133.8 2609.4,138 2596.1,145.2 2582.9,155.1 2569.5,167.8 2559.2,179.8 2550.4,191.8 2542.9,203.8 2537,215.8 2532.4,227.9 2529.1,239.9 2527.4,251.9 2527.1,263.9 2528.1,275.9 2530.5,287.9 2534.1,300 2538.8,312 2544.4,324 2558.4,348 2569.6,364.4 2582.9,381.7 2596.1,397.1 2609.4,410.9 2620.5,420.1ZM2875.8,119.7 2881.4,179.8 2888.2,227.9 2886.7,239.9 2888,251.9 2891.6,263.9 2901,275.9 2914.7,283.4 2926.2,287.9 2941.2,291 2954.5,295.8 2967.8,298.5 2979.9,300 2994.3,304.3 3030.2,312 3047.4,317.9 3060.7,321.9 3071.5,324 3060.7,326.4 3047.4,330.7 3034.1,336.8 3020.8,343.3 3007.6,351.5 2994.3,361.1 2981,371.7 2967.8,383.7 2955.4,396.1 2944.1,408.1 2914.7,441.4 2901.4,454.9 2888.1,465.7 2884.3,468.2 2874.8,473.7 2861.8,480.2 2827.3,492.2 2768.7,511.5 2755.4,515.7 2742.1,518.7 2728.9,520.6 2715.6,521 2702.3,519.7 2684,516.2 2675.8,513.9 2662.5,513 2649.2,518.4 2635.9,532.3 2622.7,556.2 2615.2,576.3 2611.5,588.4 2608.7,600.4 2606.9,612.4 2605.7,624.4 2605.4,636.4 2605.9,648.4 2607.3,660.5 2609.6,672.5 2613,684.5 2617.2,696.5 2622.5,708.5 2629,720.5 2635.9,731.8 2645.4,744.6 2655.6,756.6 2662.5,763.7 2675.8,776 2689,786.5 2697.8,792.6 2715.6,803.5 2728.9,810.2 2742.1,816 2755.4,820.9 2768.7,824.9 2781.9,828.2 2795.2,830.7 2808.5,832.6 2821.8,833.9 2848.3,834.8 2861.6,834.5 2888.1,832.5 2901.4,830.8 2927.9,826.2 2941.2,823.3 2954.5,819.5 2967.8,815 2981,809.8 2994.3,802.8 3010.4,792.6 3020.8,786.9 3029.7,780.6 3034.1,778.4 3050,768.6 3060.7,763.7 3072.7,756.6 3087.2,750.5 3113.8,736.2 3118.1,732.5 3127,726.5 3140.3,714.5 3153.6,699.5 3162.7,684.5 3165.6,672.5 3166.1,660.5 3165.5,648.4 3162.7,624.4 3160.7,612.4 3157.8,600.4 3153.6,588.8 3147.9,564.3 3143.7,552.3 3150.6,540.3 3153.6,533.3 3157.3,528.3 3164.6,516.2 3185.7,504.2 3193.4,501.5 3206.7,495.7 3212.2,492.2 3219.9,488.3 3233.2,478.2 3244.4,468.2 3255.7,456.2 3259.7,448.5 3263.8,444.1 3270,432.1 3273,418.1 3277.7,408.1 3279.5,396.1 3278.9,384.1 3274.2,372 3273,370.5 3270.9,360 3264.8,348 3259.7,343.3 3254.3,336 3246.5,329.1 3237.4,324 3233.2,320.6 3219.9,314.3 3207.8,312 3206.7,311.1 3193.4,305.2 3180.1,303 3176.4,300 3180.1,298.8 3193.4,297.6 3206.7,295.2 3215,287.9 3225.1,275.9 3227.2,263.9 3228.6,251.9 3233.2,247.5 3299.6,197.3 3339.4,168.5 3379.2,142.1 3416,119.7"/>
<path stroke="#ffece3" d="M2803.2,768.6 2821.8,773.8 2835,776.3 2848.3,778 2874.8,779.4 2901.4,778.6 2914.7,777.3 2927.9,775.4 2941.2,772.6 2967.8,765.1 2981,760 2988.6,756.6 3007.6,749.7 3019.5,744.6 3034.1,739.7 3052.5,732.5 3073.9,725.7 3100.5,715.6 3113.8,707.8 3127,698.5 3142,684.5 3153.6,670.2 3157.4,660.5 3159.1,648.4 3159.1,636.4 3158,624.4 3156,612.4 3153.6,603.6 3147.8,576.3 3144.2,564.3 3139.5,552.3 3140.3,550.4 3146.8,540.3 3153.6,523.7 3158.2,516.2 3176.6,504.2 3193.4,497.7 3206.7,490.7 3219.9,482.9 3233.2,472.5 3238,468.2 3248.2,456.2 3256.7,444.1 3259.7,436.4 3262.5,432.1 3267.2,420.1 3269.3,408.1 3269.8,396.1 3268.7,384.1 3265.6,372 3258.9,360 3251.4,348 3246.5,343.1 3233.2,331.7 3219.9,324.9 3206.7,318.7 3193.4,315.5 3180.1,314.2 3153.6,313.6 3140.3,314.5 3127,318.2 3120.3,324 3113.8,325.7 3100.5,330.5 3087.2,337.4 3073.9,342.4 3060.7,346.7 3047.4,350 3034.1,354.8 3020.8,361.2 3007.6,368.8 2994.3,377.9 2981,388.5 2967.8,400.7 2954.5,414.2 2927.9,443.8 2914.7,457.8 2901.4,470.2 2888.7,480.2 2867.1,492.2 2815.8,516.2 2808.5,520.1 2794.8,528.3 2776.6,540.3 2761.5,552.3 2748.6,564.3 2737.6,576.3 2720.2,600.4 2714.2,612.4 2708.8,624.4 2705.4,636.4 2703.6,648.4 2703.1,660.5 2704,672.5 2706.5,684.5 2711,696.5 2717.5,708.5 2726.2,720.5 2737.6,732.5 2752.6,744.6 2768.7,754.4 2781.9,761 2795.2,766.2 2803.2,768.6ZM2902.2,119.7 2902.5,167.8 2903.5,191.8 2905.7,227.9 2905.2,239.9 2907.8,251.9 2914.2,263.9 2928.6,275.9 2941.2,281.1 2949.8,287.9 2954.5,289.9 2967.8,293.7 2994.3,297.5 3029.4,300 3060.7,306.2 3073.9,308.2 3087.2,308.7 3113.8,307.2 3140.3,304.2 3148,300 3153.6,299.3 3166.8,296.8 3180.1,291.4 3191.6,287.9 3193.4,286.9 3207.1,275.9 3212.7,263.9 3214.8,251.9 3219.9,245.1 3233.2,232.1 3246.5,220.4 3273,198.2 3312.8,166.3 3339.4,146.4 3378,119.7"/>
<path stroke="#fee7dc" d="M2869.1,756.6 2888.1,758.3 2901.4,758.3 2914.7,757.5 2941.2,753.9 2954.5,751 2967.8,746.9 3007.4,732.5 3020.8,728.4 3043.3,720.5 3060.7,715.4 3087.2,706.6 3100.5,700.9 3113.8,692.9 3127,682.5 3137.2,672.5 3146.9,660.5 3152.5,648.4 3153.9,636.4 3153.3,624.4 3150.1,600.4 3147.8,588.4 3144.8,576.3 3140.3,563.9 3137,552.3 3140.3,544.5 3143,540.3 3151.2,516.2 3169.3,504.2 3180.1,500.1 3206.7,487.5 3219.9,478.6 3232.2,468.2 3243.6,456.2 3252.2,444.1 3257.7,432.1 3259.7,424.5 3261.7,420.1 3264.4,408.1 3264.9,396.1 3263.1,384.1 3259.7,375.4 3258.9,372 3253.7,360 3243.9,348 3233.2,338.4 3219.9,329.6 3206.7,324.7 3193.4,320.5 3180.1,318.4 3166.8,318 3153.6,318.6 3140.3,321.8 3135.8,324 3127,325.9 3113.8,330.2 3087.2,343.8 3060.7,360.8 3047.4,365.9 3034.1,370.1 3020.8,376.1 3007.6,383.5 2994.3,392.6 2981,403.3 2967.8,415.5 2954.5,429 2929.1,456.2 2917.1,468.2 2901.4,482 2887.2,492.2 2865.3,504.2 2835,519.8 2820.6,528.3 2808.5,536.1 2802.7,540.3 2788.1,552.3 2776.2,564.3 2766.6,576.3 2758.5,588.4 2752.1,600.4 2747.2,612.4 2744.2,624.4 2742.5,636.4 2742.2,648.4 2743.3,660.5 2745.9,672.5 2750.6,684.5 2757.5,696.5 2766.7,708.5 2778.9,720.5 2795.2,732.2 2808.5,739.8 2821.8,745.3 2835,750.1 2848.3,753.5 2869.1,756.6ZM2927.6,119.7 2925,155.8 2923.8,179.8 2923.6,215.8 2923,227.9 2923.3,239.9 2927.2,251.9 2936.3,263.9 2941.2,267.5 2946.3,275.9 2954.5,282.7 2964.8,287.9 2981,291.7 2994.3,293.9 3020.8,296.4 3060.7,298.8 3087.2,299.4 3113.8,298.7 3140.3,297 3153.6,295 3166.8,291.3 3173.9,287.9 3180.1,282.1 3190.2,275.9 3193.4,272.2 3199.1,263.9 3203.2,251.9 3206.7,245.6 3210.6,239.9 3219.9,228.9 3233.2,215.7 3273,179.2 3299.6,156.2 3326.1,134.6 3345.7,119.7"/>
<path stroke="#fee3d6" d="M2888.8,744.6 2901.4,745.1 2914.7,744.7 2927.9,743.6 2941.2,741.7 2954.5,738.8 2967.8,734.8 3009.6,720.5 3034.1,713.1 3047.5,708.5 3073.9,700.9 3087.2,696.1 3100.5,690 3113.8,681.4 3127,670 3135.8,660.5 3140.3,654.3 3143.9,648.4 3148,636.4 3149.2,624.4 3148.7,612.4 3147.2,600.4 3144.9,588.4 3134.5,552.3 3139.4,540.3 3142.6,528.3 3143.1,516.2 3161.5,504.2 3166.8,502.6 3180.1,497.2 3206.7,484.3 3219.9,475.3 3228.4,468.2 3239.9,456.2 3247.8,444.1 3254.4,432.1 3258,420.1 3259.7,408.1 3260,396.1 3258.5,384.1 3255.2,372 3248.4,360 3238.6,348 3233.2,343.1 3219.9,334.3 3206.7,328 3193.4,324.8 3180.1,322.7 3166.8,322.2 3153.6,323.7 3140.3,325.7 3127,329 3100.5,340.8 3087.2,349.3 3072.1,360 3060.7,369.6 3056.5,372 3047.4,380.1 3020.8,391.1 3007.6,398.2 2994.3,407 2981,417.5 2967.8,429.5 2928.7,468.2 2915.7,480.2 2901.4,491.9 2881.9,504.2 2848.3,522.7 2835,530.6 2820.7,540.3 2808.5,549.9 2793.7,564.3 2783.9,576.3 2775.9,588.4 2770.2,600.4 2765.8,612.4 2762.9,624.4 2761.8,636.4 2762.3,648.4 2764.5,660.5 2768.7,672.5 2774.4,684.5 2781.9,695 2795.2,709 2808.5,719.2 2821.8,727.1 2835,732.9 2848.3,737.8 2861.6,741.1 2874.8,743.3 2888.8,744.6ZM2940.1,119.7 2941.8,191.8 2941.2,218.3 2939.9,227.9 2941.1,239.9 2942.9,251.9 2946.9,263.9 2954.5,274.5 2955.8,275.9 2967.8,283.2 2981,287.5 2994.3,290.2 3020.8,293.3 3073.9,296.8 3087.2,296.8 3113.8,295.7 3140.3,293.3 3153.6,290.6 3161.7,287.9 3166.8,285.2 3176.9,275.9 3180.1,270.1 3185.9,263.9 3198.4,239.9 3206.7,227.8 3219.9,212.8 3246.5,185.5 3273,159.5 3299.6,135.1 3317.5,119.7"/>
<path stroke="#fedccd" d="M2876.1,732.5 2888.1,734.4 2901.4,735.3 2914.7,735.2 2927.9,734.1 2941.2,732 2954.5,729.3 2967.8,725.4 2981.5,720.5 3019.6,708.5 3059.5,696.5 3073.9,692.6 3087.2,687.8 3100.5,681 3112.6,672.5 3125.7,660.5 3135.5,648.4 3140.3,640.6 3142.1,636.4 3145,624.4 3145.4,612.4 3144.3,600.4 3142.1,588.4 3135.7,564.3 3132,552.3 3136,540.3 3137.1,528.3 3134.4,516.2 3140.3,511.7 3153.3,504.2 3166.8,500 3193.4,488.6 3206.7,481.1 3219.9,472.1 3224.6,468.2 3236.2,456.2 3244.6,444.1 3251.2,432.1 3255.2,420.1 3257.1,408.1 3257.2,396.1 3255.6,384.1 3251.6,372 3244.3,360 3233.4,348 3219.9,337.9 3206.7,331.2 3193.4,327.4 3180.1,325.6 3166.8,325.2 3153.6,326.1 3140.3,328.3 3127,332.2 3113.8,337.8 3100.5,344.5 3087.2,353.1 3078,360 3064.5,372 3060.7,377 3052.8,384.1 3047.4,392.3 3041.4,396.1 3034.1,403.4 3020.8,407.7 3007.6,414 2994.3,422 2981,431.7 2967.8,442.8 2926.5,480.2 2912.1,492.2 2895.2,504.2 2848.3,531.5 2835.1,540.3 2821.8,550.4 2806.9,564.3 2797,576.3 2789,588.4 2783.4,600.4 2779.2,612.4 2776.7,624.4 2775.9,636.4 2776.9,648.4 2779.9,660.5 2784.7,672.5 2791.8,684.5 2801.9,696.5 2808.5,702.6 2821.8,712.5 2835,719.8 2848.3,725.6 2861.6,729.7 2876.1,732.5ZM2948.3,119.7 2948,191.8 2947.2,239.9 2949.3,251.9 2954.5,264.1 2965.5,275.9 2967.8,277.3 2981,282.8 2994.3,286.5 3007.6,288.7 3020.8,290.2 3073.9,294.3 3087.2,294.2 3113.8,292.7 3127,291.5 3140.3,289.6 3153.6,286 3166.8,278.2 3169.3,275.9 3176.8,263.9 3180.1,257.5 3184.1,251.9 3187.7,239.9 3193.4,229.1 3206.7,211.7 3233.2,181.2 3259.7,152.3 3273,138.6 3292.5,119.7"/>
<path stroke="#fdd4c2" d="M2863.8,720.5 2874.8,723.6 2888.1,725.9 2901.4,727.1 2914.7,727.2 2927.9,726.3 2941.2,724.3 2954.5,721.2 3035,696.5 3073.9,685.4 3087.2,680.4 3100.5,672.9 3113.8,663 3127,648.7 3135.4,636.4 3140.3,626.1 3142.1,612.4 3141.4,600.4 3139.2,588.4 3133.4,564.3 3129.5,552.3 3132.6,540.3 3130.5,528.3 3125.6,516.2 3127,514.4 3141.3,504.2 3153.6,501.5 3166.8,497.4 3193.4,486.3 3206.7,478.6 3219.9,468.9 3232.7,456.2 3241.9,444.1 3247.9,432.1 3252.4,420.1 3254.5,408.1 3254.6,396.1 3252.6,384.1 3247.9,372 3240.9,360 3233.2,351.6 3229.2,348 3219.9,341 3206.7,334.5 3193.4,330 3180.1,327.9 3166.8,327.4 3153.6,328.4 3140.3,330.8 3127,335.3 3113.8,340.4 3100.5,348.1 3083,360 3069.9,372 3051,396.1 3047.4,404.6 3043.8,408.1 3034.1,423 3020.8,426 3007.6,430.6 2994.3,436.8 2981,445.3 2954.5,465.4 2922.4,492.2 2906.4,504.2 2888.1,515.8 2861.6,531.1 2847.3,540.3 2831,552.3 2818,564.3 2807.9,576.3 2799.8,588.4 2794.1,600.4 2789.9,612.4 2787.7,624.4 2787.3,636.4 2788.7,648.4 2792.2,660.5 2797.8,672.5 2806.1,684.5 2817.9,696.5 2821.8,699.6 2835.1,708.5 2848.3,715.3 2863.8,720.5ZM2956,119.7 2954.6,167.8 2954.1,215.8 2953.1,239.9 2955.7,251.9 2961.5,263.9 2967.8,270.3 2976,275.9 2981,278.1 2994.3,282.7 3007.6,285.4 3020.8,287.1 3073.9,291.7 3087.2,291.6 3113.8,289.7 3127,288.3 3140.3,285.9 3153.6,281.1 3161.6,275.9 3166.8,269.9 3170.8,263.9 3176.8,251.9 3178.7,239.9 3180.1,234.2 3183.1,227.9 3193.4,212.1 3206.7,194.7 3233.2,161.4 3246.5,145.7 3269.9,119.7"/>
<path stroke="#fdccb8" d="M2854.1,708.5 2861.6,711.7 2874.8,715.7 2888.1,718.2 2901.4,719.6 2914.7,719.8 2927.9,719.1 2941.2,717.4 2954.5,714.5 3013,696.5 3073.9,679.2 3087.2,673.6 3100.5,665.9 3113.8,654.8 3119.8,648.4 3128.5,636.4 3134.9,624.4 3138.1,612.4 3137.9,600.4 3136.2,588.4 3134,576.3 3131,564.3 3127,552.3 3129.2,540.3 3127,533.3 3117.8,516.2 3127.5,504.2 3153.6,498.9 3166.8,494.9 3173,492.2 3180.1,489.8 3193.4,484 3206.7,476.3 3219.9,466.1 3230,456.2 3239.3,444.1 3245.2,432.1 3249.7,420.1 3251.9,408.1 3251.9,396.1 3249.7,384.1 3244.9,372 3237.5,360 3233.2,355.4 3225.2,348 3219.9,344.1 3206.7,337.3 3193.4,332.6 3180.1,330.2 3166.8,329.6 3153.6,330.6 3140.3,333.3 3127,337.6 3113.8,343 3100.5,350.7 3087.8,360 3074.7,372 3064.2,384.1 3060.7,390.5 3056.3,396.1 3050.5,408.1 3047.4,419.3 3040.2,432.1 3034.1,440.4 3020.8,442.1 3007.6,445.2 2994.3,449.9 2981,457.3 2967.8,465.6 2954.5,475 2916.5,504.2 2901.4,514.5 2861.6,538.1 2848.3,547.1 2841.4,552.3 2827.9,564.3 2817.3,576.3 2809.3,588.4 2803.2,600.4 2799.3,612.4 2797.3,624.4 2797.2,636.4 2798.9,648.4 2802.8,660.5 2808.5,671 2818.7,684.5 2821.8,687.5 2835,698.3 2848.3,706 2854.1,708.5ZM2963.7,119.7 2961.3,167.8 2958.8,239.9 2961.8,251.9 2967.8,262.5 2968.7,263.9 2981,273 2986.4,275.9 2994.3,278.9 3007.6,282.1 3020.8,284.2 3047.4,287 3073.9,289.2 3087.2,289 3100.5,288 3127,285.1 3140.3,282.2 3153.9,275.9 3165.1,263.9 3170.4,251.9 3172.9,239.9 3180.1,215 3189.2,203.8 3193.4,194.4 3206.7,175.3 3233.2,139.5 3249.2,119.7"/>
<path stroke="#fcc4ad" d="M2875.7,708.5 2888.1,711.5 2901.4,713.2 2914.7,713.7 2927.9,713 2941.2,711.1 2954.5,708 2992.5,696.5 3073.9,673.3 3087.2,667.6 3098.4,660.5 3113.8,646.9 3122.1,636.4 3128.9,624.4 3133.1,612.4 3134.1,600.4 3133.3,588.4 3131.5,576.3 3128.7,564.3 3124,552.3 3125.1,540.3 3110.5,516.2 3113.3,504.2 3127,501.1 3153.6,496.2 3166.8,492.3 3180.1,487.8 3193.4,481.7 3206.7,474 3219.9,463.5 3227.4,456.2 3236.6,444.1 3243,432.1 3246.9,420.1 3249.3,408.1 3249.3,396.1 3246.7,384.1 3242.2,372 3234.1,360 3221.1,348 3206.7,339.6 3195.6,336 3180.1,332.5 3166.8,331.8 3153.6,332.9 3140.3,335.9 3127,339.7 3113.8,345.5 3100.5,353.2 3091.2,360 3077.9,372 3067.8,384.1 3054.8,408.1 3051.2,420.1 3047.4,441.6 3045.8,444.1 3034.1,452.8 3020.8,454.1 3007.6,456.8 2994.3,460.9 2967.8,474.9 2954.5,483.5 2926,504.2 2908.6,516.2 2874.8,536.1 2861.6,544.7 2851,552.3 2837,564.3 2825.9,576.3 2817.5,588.4 2811.5,600.4 2807.7,612.4 2805.7,624.4 2805.7,636.4 2808,648.4 2812.4,660.5 2819.6,672.5 2830.4,684.5 2835,688.4 2848.3,697.4 2861.6,703.9 2875.7,708.5ZM2971.4,119.7 2967.9,167.8 2965.5,215.8 2964.4,227.9 2964.5,239.9 2967.9,251.9 2976.1,263.9 2981,267.6 2994.3,275 2996.9,275.9 3007.6,278.9 3020.8,281.3 3047.4,284.5 3073.9,286.8 3087.2,286.5 3100.5,285.4 3113.8,284 3127,282 3140.3,278.4 3145.7,275.9 3153.6,270.4 3159.6,263.9 3164.9,251.9 3167.1,239.9 3172,227.9 3175.6,215.8 3180.1,204.9 3187.8,191.8 3193.4,174.9 3198.5,167.8 3205.7,155.8 3206.7,153.1 3229.9,119.7"/>
<path stroke="#fcbba1" d="M2861.5,696.5 2874.8,701.8 2888.1,705.2 2901.4,707 2914.7,707.7 2927.9,707.1 2941.2,705.4 2954.5,702.4 2973.3,696.5 3014.8,684.5 3073.9,668 3087.2,661.7 3100.5,652.6 3105.1,648.4 3115.8,636.4 3123.2,624.4 3128.1,612.4 3130.2,600.4 3130.3,588.4 3129.1,576.3 3127,567.5 3120.9,552.3 3119.6,540.3 3103.8,516.2 3101.2,504.2 3113.8,499.6 3140.3,496.1 3153.6,493.6 3166.8,490.4 3180.1,485.9 3193.4,479.5 3206.7,471.7 3219.9,460.8 3224.7,456.2 3233.9,444.1 3240.7,432.1 3244.7,420.1 3246.7,408.1 3246.6,396.1 3244.4,384.1 3239.6,372 3231,360 3219.9,350 3206.7,342 3193.4,337.4 3180.1,334.8 3166.8,334 3153.6,335.2 3140.3,337.8 3127,341.7 3113.8,348.1 3100.5,355.8 3094.7,360 3081.1,372 3071.4,384.1 3064,396.1 3060.7,405.3 3059.1,408.1 3055.2,420.1 3053.2,432.1 3052,444.1 3049.7,456.2 3047.4,460 3034.1,462.2 3020.8,463.1 3007.6,465.8 2994.3,470.2 2981,476.1 2967.8,483.1 2954.5,491.3 2914.7,518.4 2901.4,526.7 2888.1,534.1 2874.8,542.2 2860,552.3 2845.3,564.3 2834,576.3 2825.3,588.4 2819.1,600.4 2815.1,612.4 2813.3,624.4 2813.6,636.4 2816.1,648.4 2821.3,660.5 2829.3,672.5 2835,678.5 2841.7,684.5 2848.3,689.3 2861.5,696.5ZM2979.1,119.7 2974.5,167.8 2971.2,215.8 2969.8,227.9 2970.1,239.9 2974,251.9 2983.1,263.9 2994.3,271 3007.6,275.6 3020.8,278.4 3034.1,280.3 3073.9,284.5 3087.2,284.1 3100.5,282.9 3113.8,281.2 3127,278.9 3140.3,274.6 3154.2,263.9 3160.4,251.9 3162.8,239.9 3171.5,215.8 3180.1,194 3186.6,179.8 3193.4,160.3 3196.6,155.8 3202.3,143.7 3206.7,128.9 3213.6,119.7"/>
<path stroke="#fcb296" d="M2878.8,696.5 2888.1,699.2 2901.4,701.5 2914.7,702.3 2927.9,701.8 2941.2,700 2954.5,696.8 2996.4,684.5 3060.7,667 3073.9,662.8 3087.2,656.1 3100.5,646.1 3109.7,636.4 3117.8,624.4 3123.1,612.4 3126.2,600.4 3127.3,588.4 3126.3,576.3 3117.8,552.3 3114.1,540.3 3106.4,528.3 3097.5,516.2 3091.5,504.2 3100.5,496.3 3140.3,493.3 3153.6,491.3 3166.8,488.4 3180.1,483.9 3193.4,477.5 3208.3,468.2 3222,456.2 3231.5,444.1 3238.5,432.1 3242.6,420.1 3244.5,408.1 3244.4,396.1 3242.1,384.1 3237,372 3228,360 3219.9,352.7 3213,348 3206.7,344.3 3193.4,339.4 3180.1,336.9 3166.8,336.2 3153.6,337.2 3140.3,339.6 3127,343.8 3113.8,350.1 3098.1,360 3084.3,372 3074.6,384.1 3066.8,396.1 3062.3,408.1 3060.7,415.8 3059.2,420.1 3057.4,432.1 3057.3,456.2 3054.1,468.2 3047.4,471.1 3034.1,470.3 3020.8,471 3007.6,473.4 2994.3,478.1 2981,483.8 2967.8,490.6 2954.5,498.2 2908.3,528.3 2888.1,539.8 2874.8,548 2861.6,557.5 2853.3,564.3 2841.4,576.3 2832.5,588.4 2826.1,600.4 2822.3,612.4 2820.5,624.4 2821,636.4 2823.9,648.4 2829.5,660.5 2835,668 2838.7,672.5 2848.3,681.1 2861.6,689.6 2874.8,695.3 2878.8,696.5ZM2985.9,119.7 2979.9,179.8 2976.8,215.8 2975.1,227.9 2975.8,239.9 2980.1,251.9 2989.5,263.9 2994.3,267 3007.6,272.4 3020.8,275.5 3034.1,277.6 3073.9,282.2 3087.2,281.8 3100.5,280.3 3113.8,278.5 3127,275.7 3140.3,270.7 3149.1,263.9 3155.9,251.9 3158.7,239.9 3167.3,215.8 3193.4,147.1 3195.2,143.7 3199.9,131.7 3204.1,119.7"/>
<path stroke="#fca98c" d="M2908.9,696.5 2914.7,696.9 2927.9,696.5 2941.2,694.8 2954.5,691.7 2978.6,684.5 3060.7,662.2 3073.9,657.8 3087.2,650.7 3100.5,639.8 3103.6,636.4 3112.4,624.4 3118.2,612.4 3121.6,600.4 3123,588.4 3122,576.3 3113.8,549.1 3109,540.3 3100.5,527.8 3091.6,516.2 3087.2,509.3 3082.9,504.2 3075.8,492.2 3087.2,489 3113.8,491.2 3127,491.5 3140.3,491 3153.6,489.3 3166.8,486.5 3180.1,481.9 3193.4,475.5 3205.2,468.2 3219.3,456.2 3229.2,444.1 3236.2,432.1 3240.5,420.1 3242.4,408.1 3242.3,396.1 3239.8,384.1 3234.3,372 3225,360 3219.9,355.4 3208.9,348 3206.7,346.7 3193.4,341.5 3180.1,338.8 3166.8,338 3153.6,339 3140.3,341.5 3127,345.9 3113.8,352.2 3100.5,360.8 3087.2,372.4 3077.2,384.1 3069.7,396.1 3064.8,408.1 3062.2,420.1 3061.3,432.1 3061.6,444.1 3063,456.2 3065.4,468.2 3068.7,480.2 3060.7,482.3 3047.4,479.3 3034.1,477.2 3020.8,477.7 3007.6,480.5 2994.3,485 2981,490.8 2967.8,497.2 2954.5,504.8 2917.6,528.3 2888.1,545.1 2877,552.3 2861,564.3 2848.3,576.8 2839.3,588.4 2832.9,600.4 2828.8,612.4 2827.2,624.4 2827.9,636.4 2831.2,648.4 2837.6,660.5 2847.9,672.5 2861.6,682.6 2874.8,689.2 2888.1,693.5 2901.4,696 2908.9,696.5ZM2992.5,119.7 2986.7,167.8 2982.3,215.8 2980.5,227.9 2981.3,239.9 2985.3,251.9 2995.9,263.9 3007.6,269.3 3020.8,272.8 3034.1,275.1 3073.9,279.9 3087.2,279.4 3100.5,277.8 3113.8,275.7 3127,272.8 3140.3,266.8 3144.1,263.9 3151.6,251.9 3154.5,239.9 3159.3,227.9 3166.8,205.8 3176.8,179.8 3180.1,169.4 3185.6,155.8 3193.4,133.1 3198.9,119.7"/>
<path stroke="#fca082" d="M2878.4,684.5 2888.1,687.9 2901.4,690.8 2914.7,692 2927.9,691.7 2941.2,689.9 2954.5,686.6 3004.5,672.5 3060.7,657.6 3073.9,653 3082.1,648.4 3087.2,645.3 3097.5,636.4 3107.1,624.4 3113.3,612.4 3117,600.4 3118.5,588.4 3117.8,576.3 3115,564.3 3110.7,552.3 3104,540.3 3095.4,528.3 3087.2,517.9 3073.9,502.6 3060.7,492.2 3047.4,485.9 3034.1,483.5 3020.8,483.9 3007.6,486.6 2994.3,491.6 2981,497.1 2954.5,510.9 2914.7,535.4 2888.1,550.5 2874.8,559.5 2868.5,564.3 2855.6,576.3 2846,588.4 2839.3,600.4 2835.3,612.4 2833.7,624.4 2834.7,636.4 2838.4,648.4 2845.5,660.5 2848.3,663.7 2857.3,672.5 2861.6,675.6 2874.8,683.1 2878.4,684.5ZM3084.7,480.2 3087.2,481.6 3100.5,486.6 3113.8,488.6 3127,489.3 3140.3,488.9 3153.6,487.4 3166.8,484.5 3179.4,480.2 3193.4,473.5 3206.7,464.8 3216.7,456.2 3226.9,444.1 3234,432.1 3238.4,420.1 3240.4,408.1 3240.1,396.1 3237.5,384.1 3231.7,372 3222.1,360 3219.9,358.1 3206.7,349.1 3193.4,343.5 3180.1,340.7 3166.8,339.9 3153.6,340.8 3140.3,343.4 3127,347.9 3113.8,354.2 3100.5,363.1 3090.2,372 3079.7,384.1 3072.5,396.1 3067.4,408.1 3064.7,420.1 3063.9,432.1 3064.6,444.1 3067.1,456.2 3073.9,470.1 3084.7,480.2ZM2998.6,119.7 2990.9,179.8 2987,215.8 2985,227.9 2985.9,239.9 2990.3,251.9 2994.3,256.6 3002.7,263.9 3007.6,266.1 3020.8,270.2 3034.1,272.8 3073.9,277.6 3087.2,277 3113.8,273.3 3127,270 3138.9,263.9 3140.3,262.5 3147.7,251.9 3150.8,239.9 3193.8,119.7"/>
<path stroke="#fc9777" d="M2896.4,684.5 2901.4,685.7 2914.7,687.1 2927.9,686.9 2941.2,685 2987.3,672.5 3060.7,653.3 3073.9,648.2 3087.2,639.9 3091.2,636.4 3100.5,626.3 3108.6,612.4 3112.5,600.4 3114.1,588.4 3113.5,576.3 3110.9,564.3 3106,552.3 3098.9,540.3 3090.1,528.3 3073.9,509.9 3060.7,498.7 3047.4,492.3 3034.1,489.4 3020.8,489.7 3007.6,492.6 2994.3,497.4 2967.8,509.5 2941.2,524.6 2914.7,540.8 2894,552.3 2888.1,555.8 2876.1,564.3 2861.6,577.3 2852.4,588.4 2845.5,600.4 2841.4,612.4 2839.9,624.4 2841.1,636.4 2845.4,648.4 2848.3,653.2 2853.4,660.5 2861.6,668.3 2867.2,672.5 2874.8,677 2888.1,682.4 2896.4,684.5ZM3094.3,480.2 3100.5,482.8 3113.8,485.9 3127,487.1 3140.3,486.9 3153.6,485.4 3166.8,482.6 3180.1,477.8 3193.4,471.5 3206.7,462.5 3214,456.2 3219.9,449.9 3224.6,444.1 3231.6,432.1 3236.3,420.1 3238.3,408.1 3238,396.1 3235.2,384.1 3229.1,372 3218.9,360 3206.7,351.5 3193.4,345.6 3180.1,342.6 3166.8,341.7 3153.6,342.6 3140.3,345.2 3127,349.9 3113.8,356.3 3100.5,365.4 3092.8,372 3087.2,378.2 3082.2,384.1 3075.1,396.1 3069.9,408.1 3067.2,420.1 3066.5,432.1 3067.7,444.1 3071.2,456.2 3073.9,461.5 3078,468.2 3087.2,476.6 3094.3,480.2ZM3004.4,119.7 2997.6,167.8 2991.7,215.8 2989.5,227.9 2990.5,239.9 2995.3,251.9 3007.6,262.6 3009.9,263.9 3020.8,267.6 3034.1,270.5 3047.4,272.5 3073.9,275.4 3087.2,274.9 3100.5,273.3 3113.8,271 3127,267.1 3133.2,263.9 3140.3,256.9 3143.8,251.9 3147.3,239.9 3151.8,227.9 3189.1,119.7"/>
<path stroke="#fc8e6e" d="M2878.1,672.5 2888.1,676.9 2901.4,680.6 2914.7,682.2 2927.9,682.1 2941.2,680.3 3060.7,648.9 3073.9,643.5 3087.2,634.3 3096.5,624.4 3103.9,612.4 3108.1,600.4 3109.8,588.4 3109.3,576.3 3106.5,564.3 3101.3,552.3 3094,540.3 3087.2,531.3 3073.9,516.4 3060.7,505.1 3047.4,498 3034.1,495 3020.8,495.2 3007.6,498.1 2981,508.9 2954.5,522.4 2924.6,540.3 2901.4,553.1 2888.1,561.2 2874.8,571.4 2869.3,576.3 2858.8,588.4 2851.7,600.4 2847.4,612.4 2846,624.4 2847.5,636.4 2852.4,648.4 2861.6,660.6 2874.8,670.7 2878.1,672.5ZM3103.3,480.2 3113.8,483.2 3127,484.8 3140.3,484.8 3153.6,483.5 3166.8,480.6 3180.1,475.8 3195.6,468.2 3206.7,460.2 3211.4,456.2 3222.3,444.1 3229.2,432.1 3234.1,420.1 3236.2,408.1 3235.8,396.1 3233.2,385.2 3226.4,372 3219.9,364.1 3215.5,360 3206.7,353.9 3194.4,348 3180.1,344.5 3166.8,343.6 3153.6,344.4 3140.3,347.1 3127,351.9 3113.8,358.3 3111.1,360 3100.5,367.7 3095.5,372 3084.7,384.1 3077.4,396.1 3072.4,408.1 3069.7,420.1 3069.1,432.1 3070.7,444.1 3075,456.2 3082.9,468.2 3087.2,472.1 3100.5,479.3 3103.3,480.2ZM3010.3,119.7 3002.7,167.8 2996.3,215.8 2994,227.9 2995,239.9 3000.3,251.9 3007.6,258.2 3017.7,263.9 3034.1,268.2 3047.4,270.4 3073.9,273.6 3087.2,273 3100.5,271.2 3113.8,268.6 3127.6,263.9 3139.8,251.9 3143.7,239.9 3148.6,227.9 3152.1,215.8 3184.4,119.7"/>
<path stroke="#fc8565" d="M2891.2,672.5 2901.4,675.5 2914.7,677.4 2927.9,677.4 2941.2,675.6 3060.7,644.6 3073.9,638.8 3077.5,636.4 3087.2,628.6 3091.1,624.4 3099.2,612.4 3103.7,600.4 3105.6,588.4 3105.1,576.3 3102.1,564.3 3100.5,560.6 3096.7,552.3 3089,540.3 3073.9,522.5 3060.7,511 3047.4,503.7 3034.1,500.4 3020.8,500.5 3007.6,503.7 2981,514.5 2967.8,520.9 2954.5,528 2914.7,551.3 2901.4,558.3 2888.1,566.7 2876.2,576.3 2865.2,588.4 2857.7,600.4 2853.3,612.4 2852,624.4 2853.9,636.4 2859.4,648.4 2861.6,651.3 2870,660.5 2874.8,664.1 2888.1,671.4 2891.2,672.5ZM3112.5,480.2 3127,482.6 3140.3,482.8 3153.6,481.5 3166.8,478.4 3180.1,473.7 3193.4,467.3 3208.7,456.2 3220,444.1 3226.9,432.1 3231.7,420.1 3234.1,408.1 3233.7,396.1 3233.2,394.1 3230.1,384.1 3223.8,372 3219.9,367.3 3212.1,360 3206.7,356.2 3193.4,350 3180.1,346.5 3166.8,345.4 3153.6,346.2 3144.8,348 3140.3,349.1 3127,353.8 3113.8,360.4 3098.2,372 3087.2,384.1 3079.6,396.1 3074.9,408.1 3072.2,420.1 3071.7,432.1 3073.8,444.1 3078.3,456.2 3087.8,468.2 3100.5,476.3 3112.5,480.2ZM3016.2,119.7 3007.6,169.2 3000.7,215.8 2998.2,227.9 2999.5,239.9 3005.4,251.9 3007.6,253.8 3020.8,261.9 3026.4,263.9 3034.1,265.8 3047.4,268.3 3073.9,271.7 3087.2,271.1 3100.5,269.1 3113.8,266.2 3120.6,263.9 3127,260.4 3135.8,251.9 3140.1,239.9 3145.3,227.9 3148.7,215.8 3179.8,119.7"/>
<path stroke="#fb7c5c" d="M2913.8,672.5 2927.9,672.7 2941.2,670.9 3060.7,640.4 3073.9,633.9 3085.5,624.4 3094.3,612.4 3099.4,600.4 3101.4,588.4 3100.8,576.3 3097.7,564.3 3092.1,552.3 3087.2,544.8 3083.9,540.3 3073.9,528.7 3059.6,516.2 3047.4,509.2 3034.1,505.7 3020.8,505.8 3007.6,509 2981,519.9 2967.8,526.4 2954.5,533.5 2914.7,556.5 2901.4,563.4 2888.1,572.5 2883.3,576.3 2874.8,584.7 2871.6,588.4 2863.7,600.4 2859.2,612.4 2858,624.4 2860.3,636.4 2866.7,648.4 2874.8,657 2879.4,660.5 2888.1,665.5 2901.4,670.3 2913.8,672.5ZM3126,480.2 3140.3,480.7 3153.6,479.4 3166.8,476 3180.1,471.6 3187.5,468.2 3193.4,464.6 3206.7,455.3 3216.8,444.1 3219.9,440.1 3224.5,432.1 3229.1,420.1 3231.5,408.1 3231,396.1 3227.4,384.1 3221.2,372 3208.7,360 3206.7,358.6 3193.4,352.6 3180.1,348.5 3166.8,347.3 3153.6,348.1 3140.3,351.3 3127,355.8 3113.8,362.8 3100.5,372.5 3089.8,384.1 3081.9,396.1 3077.1,408.1 3074.6,420.1 3074.3,432.1 3076.5,444.1 3081.5,456.2 3087.2,463.5 3092.4,468.2 3100.5,473.4 3113.8,478 3126,480.2ZM3022.1,119.7 3012.9,167.8 3005,215.8 3002.4,227.9 3004,239.9 3010.5,251.9 3020.8,258.5 3035.8,263.9 3047.4,266.2 3073.9,269.9 3087.2,269.2 3100.5,267 3113.5,263.9 3127,256.5 3131.8,251.9 3136.6,239.9 3142.1,227.9 3145.3,215.8 3175.1,119.7"/>
<path stroke="#fb7353" d="M2890,660.5 2901.4,665 2914.7,667.5 2927.9,667.8 2941.2,666 2967.8,659.1 3034.1,643.2 3059.6,636.4 3073.9,628.9 3079.4,624.4 3087.2,615.7 3089.5,612.4 3094.9,600.4 3097.2,588.4 3096.6,576.3 3093.4,564.3 3087.2,551.9 3078.7,540.3 3073.9,534.7 3060.7,522.5 3047.4,514.6 3034.1,510.9 3020.8,510.9 3007.6,514.4 2981,525.3 2967.8,531.8 2901.4,569 2890.8,576.3 2878.2,588.4 2869.8,600.4 2865,612.4 2863.9,624.4 2866.8,636.4 2874.2,648.4 2888.1,659.5 2890,660.5ZM3097,468.2 3100.5,470.4 3113.8,475.5 3127,477.8 3140.3,478.3 3153.6,476.8 3166.8,473.7 3180.1,469.5 3183,468.2 3201.7,456.2 3206.7,451.9 3213.6,444.1 3219.9,435.9 3222.1,432.1 3226.4,420.1 3228.7,408.1 3228.1,396.1 3224.7,384.1 3219.9,374.8 3217.9,372 3206.7,361.6 3204.3,360 3193.4,355.1 3180.1,351.1 3166.8,349.6 3153.6,350.6 3140.3,353.5 3127,357.8 3113.8,365.2 3104.2,372 3100.5,375.3 3092.4,384.1 3084.2,396.1 3079.4,408.1 3077,420.1 3076.8,432.1 3079.1,444.1 3084.7,456.2 3087.2,459.3 3097,468.2ZM3027.9,119.7 3018,167.8 3009.4,215.8 3006.5,227.9 3008.5,239.9 3015.9,251.9 3020.8,255.1 3034.1,260.7 3046.4,263.9 3073.9,268 3087.2,267.3 3104.8,263.9 3113.8,261 3127.8,251.9 3138.8,227.9 3141.9,215.8 3170.5,119.7"/>
<path stroke="#fb694a" d="M2905.2,660.5 2914.7,662.5 2927.9,663 2941.2,661.2 2954.5,657.5 3020.8,642.5 3047.4,635.7 3060.7,631.7 3073.9,623.9 3084.5,612.4 3090.5,600.4 3092.9,588.4 3092.4,576.3 3089,564.3 3087.2,560.7 3082.6,552.3 3073.9,540.8 3060.7,528.2 3047.4,520 3034.1,516.1 3020.8,516 3007.6,519.8 2994.3,524.9 2981,530.7 2967.8,537.2 2901.4,574.6 2888.1,585.3 2885,588.4 2876,600.4 2874.8,602.8 2870.9,612.4 2869.8,624.4 2873.4,636.4 2882.8,648.4 2888.1,652.6 2901.4,659.5 2905.2,660.5ZM3102,468.2 3113.8,473 3127,475.3 3140.3,475.6 3153.6,474.3 3166.8,471.3 3180.1,467.1 3193.4,459.1 3197.7,456.2 3206.7,448.4 3210.5,444.1 3219.6,432.1 3223.7,420.1 3225.8,408.1 3225.2,396.1 3221.9,384.1 3219.9,380.1 3213.8,372 3206.7,365.3 3198.8,360 3193.4,357.6 3180.1,353.8 3166.8,352.2 3153.6,353 3140.3,355.7 3127,359.7 3113.8,367.5 3107.5,372 3100.5,378.1 3095,384.1 3086.5,396.1 3081.7,408.1 3079.3,420.1 3079.3,432.1 3081.8,444.1 3087.2,454.9 3088.1,456.2 3100.5,467.4 3102,468.2ZM3033.8,119.7 3023.1,167.8 3013.7,215.8 3010.8,227.9 3013.1,239.9 3021.2,251.9 3034.1,258 3047.4,261.8 3058.2,263.9 3073.9,266.2 3087.2,265.4 3100.5,262.8 3113.8,258.1 3123.4,251.9 3127,245.6 3135.6,227.9 3138.5,215.8 3165.8,119.7"/>
<path stroke="#f85f43" d="M2892.5,648.4 2901.4,653.3 2914.7,657.1 2927.9,657.8 2941.2,655.9 2954.5,652.5 3020.8,638.5 3047.4,631.7 3060.7,627.3 3065.7,624.4 3073.9,618.1 3079.2,612.4 3086,600.4 3088.7,588.4 3088.2,576.3 3084.5,564.3 3077.7,552.3 3073.9,547.3 3067.5,540.3 3060.7,533.8 3047.4,525.3 3034.1,521.2 3020.8,521.2 3007.6,525.1 2994.3,530.3 2981,536.1 2967.8,542.7 2954.5,550 2927.9,565.5 2908.3,576.3 2901.4,580.8 2892.4,588.4 2888.1,592.9 2882.4,600.4 2876.7,612.4 2875.8,624.4 2880.5,636.4 2888.1,645.2 2892.5,648.4ZM3108.2,468.2 3113.8,470.4 3127,472.7 3140.3,473 3153.6,471.7 3166.8,469 3180.1,464 3193.4,456.4 3207.3,444.1 3216,432.1 3221,420.1 3223,408.1 3222.3,396.1 3218.9,384.1 3209.8,372 3206.7,369.1 3193.4,360.1 3180.1,356.5 3166.8,354.8 3153.6,355.5 3140.3,358 3133.3,360 3127,362.5 3113.8,369.9 3100.5,381 3097.6,384.1 3089.3,396.1 3087.2,399.9 3083.9,408.1 3081.7,420.1 3081.7,432.1 3084.5,444.1 3087.2,449.6 3091.9,456.2 3100.5,464 3108.2,468.2ZM3039.6,119.7 3028.1,167.8 3018.1,215.8 3015,227.9 3017.6,239.9 3020.8,244.6 3027.1,251.9 3034.1,255.2 3047.4,259.4 3060.7,262.3 3073.9,264.4 3087.2,263.5 3100.5,260.5 3113.8,255.3 3119,251.9 3127,238.2 3132.3,227.9 3135.1,215.8 3148.5,167.8 3161.2,119.7"/>
<path stroke="#f6553c" d="M2905.2,648.4 2914.7,651.4 2927.9,652.3 2941.2,650.5 2954.5,647.5 3007.6,637.6 3034.1,631.3 3047.4,627.7 3056.8,624.4 3060.7,622.7 3073.9,612.4 3081.2,600.4 3084.3,588.4 3083.8,576.3 3079.9,564.3 3072.7,552.3 3061.5,540.3 3047.4,530.7 3034.1,526.4 3020.8,526.5 3007.6,530.5 2994.3,535.7 2981,541.5 2960.3,552.3 2927.9,571.7 2914.7,578.7 2901.4,587.3 2888.1,601.6 2882.5,612.4 2881.8,624.4 2888.1,636.8 2901.4,647 2905.2,648.4ZM3115.4,468.2 3127,470.1 3140.3,470.4 3153.6,469.1 3166.8,466.1 3180.1,460.8 3193.4,452.8 3203.3,444.1 3212.5,432.1 3217.9,420.1 3220.1,408.1 3219.3,396.1 3214.9,384.1 3205.5,372 3193.4,363.8 3183.5,360 3180.1,359.1 3166.8,357.5 3153.6,358 3140.3,360.2 3127,365.5 3113.8,372.3 3100.2,384.1 3092.4,396.1 3086.2,408.1 3084,420.1 3084.2,432.1 3087.1,444.1 3095.6,456.2 3100.5,460.6 3113.8,467.8 3115.4,468.2ZM3045.4,119.7 3034.1,163.9 3022.4,215.8 3019.2,227.9 3022.3,239.9 3032.9,251.9 3047.4,257.1 3060.7,260.2 3073.9,262.5 3087.2,261.5 3100.5,258.2 3113.8,252.4 3114.6,251.9 3122.4,239.9 3129,227.9 3131.8,215.8 3144.5,167.8 3156.6,119.7"/>
<path stroke="#f34a36" d="M2896.5,636.4 2901.4,640.2 2914.7,645.5 2927.9,646.8 2941.2,644.9 2967.8,640.1 2994.3,636.1 3020.8,630.9 3047.4,623.6 3060.7,617.8 3067.6,612.4 3073.9,604.5 3076.5,600.4 3079.8,588.4 3079.3,576.3 3075.3,564.3 3067.1,552.3 3060.7,545.5 3047.4,536.1 3034.1,531.7 3020.8,531.9 3007.6,536 2994.3,541 2981,546.9 2967.8,553.7 2949.7,564.3 2927.9,578 2914.7,585.2 2901.4,594.6 2895.9,600.4 2888.4,612.4 2887.8,624.4 2896.5,636.4ZM3099.4,456.2 3100.5,457.2 3113.8,463.9 3127,467.3 3140.3,467.6 3153.6,466.3 3166.8,463.1 3180.1,457.7 3193.4,449.1 3199.1,444.1 3208.9,432.1 3214.5,420.1 3216.7,408.1 3215.7,396.1 3210.9,384.1 3206.7,378.5 3200.1,372 3193.4,367.5 3180.1,362.2 3166.8,360.1 3153.6,360.5 3140.3,363.2 3127,368.4 3120,372 3113.8,376.1 3104.4,384.1 3100.5,388.4 3095.5,396.1 3089.2,408.1 3086.4,420.1 3086.6,432.1 3087.2,434.4 3091.1,444.1 3099.4,456.2ZM3051.3,119.7 3038.2,167.8 3023.5,227.9 3027.1,239.9 3034.1,247.6 3039.3,251.9 3047.4,254.8 3060.7,258.2 3073.9,260.6 3087.2,259.6 3100.5,255.9 3109.6,251.9 3113.8,247.4 3118.8,239.9 3125.8,227.9 3151.9,119.7"/>
<path stroke="#f0402f" d="M2907.5,636.4 2914.7,639.6 2927.9,641.2 2958.7,636.4 2994.3,632.1 3007.6,630 3020.8,627.2 3034.1,623.6 3047.4,619.5 3060.7,612.9 3071.4,600.4 3075.4,588.4 3074.9,576.3 3073.9,573.5 3070.2,564.3 3060.7,551.5 3047.4,541.6 3043.7,540.3 3034.1,537 3020.8,537.3 3007.6,541.4 2994.3,546.3 2981,552.3 2967.8,559.4 2959.4,564.3 2927.9,585.1 2914.7,591.7 2903.4,600.4 2901.4,602.4 2894.5,612.4 2894.4,624.4 2901.4,632.8 2907.5,636.4ZM3106,456.2 3113.8,460 3127,463.6 3140.3,464.3 3153.6,463.1 3166.8,460 3180.1,454.4 3194.9,444.1 3205.2,432.1 3206.7,429.4 3211,420.1 3213.3,408.1 3212.1,396.1 3206.9,384.1 3194.6,372 3180.1,365.5 3166.8,363.2 3153.6,363.5 3140.3,366.3 3127,371.4 3113.8,379.8 3108.7,384.1 3100.5,393.1 3098.6,396.1 3092.7,408.1 3089.7,420.1 3090.4,432.1 3095.2,444.1 3100.5,452 3106,456.2ZM3057.1,119.7 3040,179.8 3027.8,227.9 3031.9,239.9 3034.1,242.3 3045.9,251.9 3060.7,256.1 3073.9,258.8 3087.2,257.6 3100.5,253.6 3104.4,251.9 3113.8,241.9 3122.5,227.9 3147.2,119.7"/>
<path stroke="#eb372a" d="M2901,624.4 2914.7,633.6 2927.9,635.6 2967.8,630.5 2994.3,628.2 3007.6,626.3 3020.8,623.4 3047.4,615.3 3053.3,612.4 3060.7,606.8 3066.1,600.4 3070.6,588.4 3070.1,576.3 3065,564.3 3060.7,558.4 3054.2,552.3 3047.4,547.2 3034.1,542.4 3020.8,542.8 3007.6,546.7 2994.3,551.6 2981,557.6 2969,564.3 2951.3,576.3 2941.2,584.1 2934.4,588.4 2914.7,598.3 2912,600.4 2900.5,612.4 2901,624.4ZM3113.8,456.2 3127,459.9 3140.3,461 3153.6,460 3166.8,456.9 3180.1,451 3190.1,444.1 3193.4,441.3 3201.3,432.1 3206.7,422.1 3207.6,420.1 3209.8,408.1 3208.4,396.1 3202.2,384.1 3193.4,375.5 3187.5,372 3180.1,368.8 3166.8,366.3 3153.6,366.5 3140.3,369.3 3127,374.8 3113.8,383.5 3102.1,396.1 3096.3,408.1 3093.5,420.1 3094.4,432.1 3099.2,444.1 3100.5,446 3113.8,456.2ZM3062.9,119.7 3044.9,179.8 3032.1,227.9 3036.9,239.9 3047.4,248.6 3053,251.9 3060.7,254 3073.9,256.9 3087.2,255.7 3099.1,251.9 3100.5,251 3111.4,239.9 3119.2,227.9 3132.6,167.8 3142.6,119.7"/>
<path stroke="#e32f27" d="M2909.6,624.4 2914.7,627.8 2927.9,630.5 2967.8,625.8 2994.3,624.3 3007.6,622.6 3020.8,619.7 3044,612.4 3047.4,610.9 3060.7,600.4 3065.6,588.4 3065.1,576.3 3059.5,564.3 3047.4,552.9 3034.1,547.8 3020.8,548.3 3007.6,551.9 2994.3,556.6 2981,562.9 2967.8,571.3 2960.5,576.3 2954.5,581.9 2941.2,591.6 2914.7,605.3 2907.6,612.4 2909.6,624.4ZM3126.8,456.2 3140.3,457.7 3153.6,456.9 3166.8,453.6 3180.1,447.5 3185.1,444.1 3193.4,436.7 3197.4,432.1 3203.9,420.1 3206.3,408.1 3204.5,396.1 3197.6,384.1 3193.4,380 3179.8,372 3166.8,369.4 3153.6,369.5 3140.3,372.3 3127,378.3 3118.3,384.1 3113.8,388.1 3106.5,396.1 3099.8,408.1 3097.4,420.1 3098.5,432.1 3100.5,437.1 3104.9,444.1 3113.8,451.1 3126.8,456.2ZM3068.7,119.7 3047.4,187.2 3036.4,227.9 3042,239.9 3047.4,244.4 3060.3,251.9 3073.9,255 3087.2,253.7 3093,251.9 3100.5,247.1 3107.5,239.9 3116,227.9 3128.6,167.8 3137.9,119.7"/>
<path stroke="#db2824" d="M2923.6,624.4 2927.9,625.4 2938.3,624.4 2954.5,621.3 2967.8,620.2 2994.3,620.2 3007.6,618.8 3020.8,616 3032.6,612.4 3047.4,605.7 3054.2,600.4 3060.7,588.4 3060.1,576.3 3052.8,564.3 3047.4,559.2 3034.1,553.3 3020.8,553.8 3007.6,556.9 2994.3,561.6 2981,568.5 2969.4,576.3 2954.5,590.4 2941.2,599.1 2927.9,605.2 2914.9,612.4 2923.6,624.4ZM3111.4,444.1 3113.8,446 3127,452.1 3140.3,454.3 3153.6,453.6 3166.8,450.3 3180.1,444.1 3193.5,432.1 3200.1,420.1 3202.5,408.1 3200.4,396.1 3193.4,384.7 3180.1,376.1 3166.8,372.5 3153.6,372.6 3140.3,375.8 3127,381.9 3123.7,384.1 3113.8,392.9 3110.8,396.1 3104,408.1 3101.4,420.1 3103.2,432.1 3111.4,444.1ZM3074.5,119.7 3050.5,191.8 3043.6,215.8 3040.7,227.9 3047.4,240.1 3060.7,248.6 3068.4,251.9 3073.9,253.2 3087.2,251.7 3100.5,243.2 3103.7,239.9 3112.7,227.9 3117.8,203.8 3133.3,119.7"/>
<path stroke="#d32020" d="M2927.9,612.4 2941.2,614.7 2954.5,614.1 2967.8,614.4 2981,615.5 2994.3,616.1 3007.6,615.1 3020.8,612.3 3034.1,607.1 3047.4,600.5 3054.8,588.4 3054,576.3 3047.4,566.1 3045.1,564.3 3034.1,559 3020.8,559.1 3007.6,561.9 2994.3,566.8 2977.8,576.3 2965.5,588.4 2954.9,600.4 2954.5,601.6 2941.2,609.6 2927.9,612.4ZM3119.2,444.1 3127,447.9 3140.3,450.6 3153.6,450.2 3166.8,446.9 3172.8,444.1 3180.1,439.8 3188.7,432.1 3193.4,425.4 3196.3,420.1 3198.6,408.1 3196.3,396.1 3193.4,391.4 3186.6,384.1 3180.1,380 3166.8,376.1 3153.6,376.1 3140.3,379.2 3129.8,384.1 3127,385.8 3115.4,396.1 3108.3,408.1 3105.9,420.1 3108.4,432.1 3113.8,439.6 3119.2,444.1ZM3080.3,119.7 3054.8,191.8 3050.9,203.8 3045.1,227.9 3052.4,239.9 3060.7,245.2 3073.9,251 3087.2,248.7 3100.5,239.3 3109.5,227.9 3112.3,215.8 3128.6,119.7"/>
<path stroke="#cb181d" d="M2968.8,600.4 2981,609.3 2994.3,611.8 3007.6,611 3020.8,607.7 3038.2,600.4 3047.4,590.8 3048.9,588.4 3048,576.3 3047.4,575.4 3034.1,564.9 3020.8,564.5 3007.6,567.1 2994.3,572.1 2986.8,576.3 2974.1,588.4 2968.8,600.4ZM3128.5,444.1 3140.3,446.9 3153.6,446.7 3166.8,443.4 3180.1,435.5 3183.9,432.1 3192.2,420.1 3194.7,408.1 3191.7,396.1 3180.1,383.9 3166.8,379.7 3153.6,379.5 3140.3,382.6 3137.2,384.1 3127,390.4 3120.6,396.1 3112.7,408.1 3110.5,420.1 3113.8,432.4 3127,443.6 3128.5,444.1ZM3086.1,119.7 3054.9,203.8 3051.5,215.8 3049.4,227.9 3057.8,239.9 3060.7,241.7 3073.9,248.1 3087.2,245.6 3095.5,239.9 3100.5,235.2 3106.3,227.9 3109.4,215.8 3124,119.7"/>
<path stroke="#c2161b" d="M2981,600.4 2994.3,605.8 3007.6,606.1 3020.8,603.1 3027.6,600.4 3034.1,595.1 3040.7,588.4 3038.6,576.3 3034.1,572.7 3020.8,570.7 3007.6,572.5 2997.2,576.3 2994.3,578.1 2982.8,588.4 2981,600.4ZM3120.2,432.1 3127,437.9 3140.3,443 3153.6,443.1 3166.8,439.1 3178.5,432.1 3180.1,430.6 3187.4,420.1 3190.1,408.1 3186.3,396.1 3180.1,389.6 3169.1,384.1 3166.8,383.3 3153.6,383 3140.3,386.7 3127,395 3125.8,396.1 3117.7,408.1 3115.4,420.1 3120.2,432.1ZM3091.9,119.7 3073.3,167.8 3060.7,198.8 3055.2,215.8 3053.6,227.9 3060.7,237.3 3063.3,239.9 3073.9,245.2 3087.2,242.6 3091.1,239.9 3100.5,231.2 3103.1,227.9 3106.5,215.8 3110.9,179.8 3119.3,119.7"/>
<path stroke="#b91419" d="M2999.9,600.4 3007.6,601.1 3011,600.4 3020.8,595.7 3030.3,588.4 3020.8,577.9 3007.6,579.3 2994.3,586.8 2992.6,588.4 2994.3,595.8 2999.9,600.4ZM3126.9,432.1 3140.3,438.1 3153.6,438.6 3166.8,434.9 3171.4,432.1 3180.1,423.8 3182.7,420.1 3185.1,408.1 3180.8,396.1 3180.1,395.3 3166.8,388.1 3153.6,387.3 3140.3,391.3 3132.6,396.1 3127,402 3122.9,408.1 3121.1,420.1 3126.9,432.1ZM3097.7,119.7 3078.3,167.8 3067.5,191.8 3062.6,203.8 3058.9,215.8 3057.8,227.9 3060.7,231.7 3069,239.9 3073.9,242.3 3087.2,239.5 3099.9,227.9 3100.5,226.2 3103.6,215.8 3107.2,179.8 3112.8,131.7 3113.8,127.5 3114.7,119.7"/>
<path stroke="#b11218" d="M3137.8,432.1 3140.3,433.2 3153.6,434.2 3161.1,432.1 3166.8,429.6 3176.7,420.1 3180.1,408.1 3172,396.1 3166.8,393.2 3153.6,392 3140,396.1 3128.8,408.1 3126.8,420.1 3137.8,432.1ZM3062,227.9 3073.9,239.3 3087.2,236.3 3096.4,227.9 3100.7,215.8 3102,203.8 3106.5,143.7 3103.6,131.7 3100.5,127 3093.6,143.7 3089.4,155.8 3087.2,158.4 3077.9,179.8 3073.9,187 3066.3,203.8 3062.5,215.8 3062,227.9Z"/>
<path stroke="#a91016" d="M3135.6,420.1 3140.3,425 3153.6,427.9 3166.8,422.5 3169.3,420.1 3172.1,408.1 3166.8,400.9 3153.6,397.4 3140.3,404.1 3136.6,408.1 3135.6,420.1ZM3066.3,227.9 3073.9,235.2 3087.2,233.1 3092.9,227.9 3097.7,215.8 3098.7,203.8 3098.2,179.8 3100.5,170.4 3101.5,143.7 3100.5,140.9 3099.3,143.7 3099.2,155.8 3097.9,167.8 3087.2,170.1 3082.7,179.8 3073.9,195.4 3070,203.8 3065.9,215.8 3066.3,227.9Z"/>
<path stroke="#9d0d14" d="M3150.7,408.1 3153.6,420 3157.4,408.1 3153.6,406.8 3150.7,408.1ZM3070.5,227.9 3073.9,231.2 3087.2,229.9 3089.5,227.9 3094.8,215.8 3095.4,203.8 3093.9,191.8 3087.2,180.3 3073.9,203.2 3069.3,215.8 3070.5,227.9Z"/>
<path stroke="#900a12" d="M3072.8,215.8 3073.9,223.5 3087.2,225.7 3091.8,215.8 3092.1,203.8 3089.1,191.8 3087.2,188.5 3073.9,212.6 3072.8,215.8Z"/>
<path stroke="#820711" d="M3081.1,215.8 3087.2,219.4 3088.9,215.8 3088.8,203.8 3087.2,198.6 3084.6,203.8 3081.1,215.8Z"/></g>
</g>
<rect x="2516.5" y="119.7" width="955.6" height="865.2" fill="none" stroke="#808080" stroke-width="4.8"/>
<text x="2516.5" y="1055.1" font-size="42.7" text-anchor="middle">−6</text>
<text x="2478.6" y="1001.6" font-size="42.7" text-anchor="end">−6</text>
<text x="2675.8" y="1055.1" font-size="42.7" text-anchor="middle">−4</text>
<text x="2478.6" y="857.4" font-size="42.7" text-anchor="end">−4</text>
<text x="2835.0" y="1055.1" font-size="42.7" text-anchor="middle">−2</text>
<text x="2478.6" y="713.2" font-size="42.7" text-anchor="end">−2</text>
<text x="2994.3" y="1055.1" font-size="42.7" text-anchor="middle">0</text>
<text x="2478.6" y="569.0" font-size="42.7" text-anchor="end">0</text>
<text x="3153.6" y="1055.1" font-size="42.7" text-anchor="middle">2</text>
<text x="2478.6" y="424.8" font-size="42.7" text-anchor="end">2</text>
<text x="3312.8" y="1055.1" font-size="42.7" text-anchor="middle">4</text>
<text x="2478.6" y="280.6" font-size="42.7" text-anchor="end">4</text>
<text x="3472.1" y="1055.1" font-size="42.7" text-anchor="middle">6</text>
<text x="2478.6" y="136.4" font-size="42.7" text-anchor="end">6</text>
<text class="m" x="2996.8" y="1132.3" font-size="68.0" text-anchor="middle"><tspan class="i">x</tspan><tspan font-size="47.6" dx="5.8" dy="11.0">1</tspan></text>
<text x="2993.5" y="96.7" font-size="93.7" text-anchor="middle"><tspan class="m i" font-size="90.0">η</tspan>-Estimator</text>
<text class="m" transform="translate(88.0,550.8) rotate(-90)" font-size="68.0" text-anchor="middle"><tspan class="i">x</tspan><tspan font-size="47.6" dx="5.8" dy="11.0">2</tspan></text>
<rect x="431.5" y="143" width="721.5" height="86.7" rx="8" ry="8" fill="#fff" fill-opacity="0.8" stroke="#d6d6d6" stroke-width="3.5"/><path fill="none" stroke="#333333" stroke-width="3.7" d="M485.4,172.4l23.8,23.8M485.4,196.2l23.8,-23.8"/><text x="582" y="200.3" font-size="47.5">Training Data (<tspan class="m i" font-size="50">n</tspan> = 100)</text>
<g stroke-width="4.8">
<line x1="3549.9" x2="3593.4" y1="960.9" y2="960.9" stroke="#fff0e9"/>
<line x1="3549.9" x2="3593.4" y1="936.8" y2="936.8" stroke="#ffece3"/>
<line x1="3549.9" x2="3593.4" y1="912.8" y2="912.8" stroke="#fee7dc"/>
<line x1="3549.9" x2="3593.4" y1="888.8" y2="888.8" stroke="#fee3d6"/>
<line x1="3549.9" x2="3593.4" y1="864.7" y2="864.7" stroke="#fedccd"/>
<line x1="3549.9" x2="3593.4" y1="840.7" y2="840.7" stroke="#fdd4c2"/>
<line x1="3549.9" x2="3593.4" y1="816.7" y2="816.7" stroke="#fdccb8"/>
<line x1="3549.9" x2="3593.4" y1="792.6" y2="792.6" stroke="#fcc4ad"/>
<line x1="3549.9" x2="3593.4" y1="768.6" y2="768.6" stroke="#fcbba1"/>
<line x1="3549.9" x2="3593.4" y1="744.6" y2="744.6" stroke="#fcb296"/>
<line x1="3549.9" x2="3593.4" y1="720.5" y2="720.5" stroke="#fca98c"/>
<line x1="3549.9" x2="3593.4" y1="696.5" y2="696.5" stroke="#fca082"/>
<line x1="3549.9" x2="3593.4" y1="672.5" y2="672.5" stroke="#fc9777"/>
<line x1="3549.9" x2="3593.4" y1="648.4" y2="648.4" stroke="#fc8e6e"/>
<line x1="3549.9" x2="3593.4" y1="624.4" y2="624.4" stroke="#fc8565"/>
<line x1="3549.9" x2="3593.4" y1="600.4" y2="600.4" stroke="#fb7c5c"/>
<line x1="3549.9" x2="3593.4" y1="576.3" y2="576.3" stroke="#fb7353"/>
<line x1="3549.9" x2="3593.4" y1="552.3" y2="552.3" stroke="#fb694a"/>
<line x1="3549.9" x2="3593.4" y1="528.3" y2="528.3" stroke="#f85f43"/>
<line x1="3549.9" x2="3593.4" y1="504.2" y2="504.2" stroke="#f6553c"/>
<line x1="3549.9" x2="3593.4" y1="480.2" y2="480.2" stroke="#f34a36"/>
<line x1="3549.9" x2="3593.4" y1="456.2" y2="456.2" stroke="#f0402f"/>
<line x1="3549.9" x2="3593.4" y1="432.1" y2="432.1" stroke="#eb372a"/>
<line x1="3549.9" x2="3593.4" y1="408.1" y2="408.1" stroke="#e32f27"/>
<line x1="3549.9" x2="3593.4" y1="384.1" y2="384.1" stroke="#db2824"/>
<line x1="3549.9" x2="3593.4" y1="360.0" y2="360.0" stroke="#d32020"/>
<line x1="3549.9" x2="3593.4" y1="336.0" y2="336.0" stroke="#ca181d"/>
<line x1="3549.9" x2="3593.4" y1="312.0" y2="312.0" stroke="#c2161b"/>
<line x1="3549.9" x2="3593.4" y1="287.9" y2="287.9" stroke="#b91419"/>
<line x1="3549.9" x2="3593.4" y1="263.9" y2="263.9" stroke="#b11218"/>
<line x1="3549.9" x2="3593.4" y1="239.9" y2="239.9" stroke="#a91016"/>
<line x1="3549.9" x2="3593.4" y1="215.8" y2="215.8" stroke="#9d0d14"/>
<line x1="3549.9" x2="3593.4" y1="191.8" y2="191.8" stroke="#900a12"/>
<line x1="3549.9" x2="3593.4" y1="167.8" y2="167.8" stroke="#820711"/>
<line x1="3549.9" x2="3593.4" y1="143.7" y2="143.7" stroke="#75030f"/>
<line x1="3549.9" x2="3593.4" y1="119.7" y2="119.7" stroke="#67000d"/>
</g>
<rect x="3549.9" y="119.7" width="43.5" height="865.2" fill="none" stroke="#808080" stroke-width="4.8"/>
<line x1="3595.8" x2="3616.2" y1="984.9" y2="984.9" stroke="#262626" stroke-width="4.8"/>
<text x="3630.1" y="1001.6" font-size="42.7">0.00</text>
<line x1="3595.8" x2="3616.2" y1="888.8" y2="888.8" stroke="#262626" stroke-width="4.8"/>
<text x="3630.1" y="905.5" font-size="42.7">0.06</text>
<line x1="3595.8" x2="3616.2" y1="792.6" y2="792.6" stroke="#262626" stroke-width="4.8"/>
<text x="3630.1" y="809.3" font-size="42.7">0.12</text>
<line x1="3595.8" x2="3616.2" y1="696.5" y2="696.5" stroke="#262626" stroke-width="4.8"/>
<text x="3630.1" y="713.2" font-size="42.7">0.18</text>
<line x1="3595.8" x2="3616.2" y1="600.4" y2="600.4" stroke="#262626" stroke-width="4.8"/>
<text x="3630.1" y="617.1" font-size="42.7">0.24</text>
<line x1="3595.8" x2="3616.2" y1="504.2" y2="504.2" stroke="#262626" stroke-width="4.8"/>
<text x="3630.1" y="520.9" font-size="42.7">0.30</text>
<line x1="3595.8" x2="3616.2" y1="408.1" y2="408.1" stroke="#262626" stroke-width="4.8"/>
<text x="3630.1" y="424.8" font-size="42.7">0.36</text>
<line x1="3595.8" x2="3616.2" y1="312.0" y2="312.0" stroke="#262626" stroke-width="4.8"/>
<text x="3630.1" y="328.7" font-size="42.7">0.42</text>
<line x1="3595.8" x2="3616.2" y1="215.8" y2="215.8" stroke="#262626" stroke-width="4.8"/>
<text x="3630.1" y="232.5" font-size="42.7">0.48</text>
<line x1="3595.8" x2="3616.2" y1="119.7" y2="119.7" stroke="#262626" stroke-width="4.8"/>
<text x="3630.1" y="136.4" font-size="42.7">0.54</text>
</svg></body></html>
